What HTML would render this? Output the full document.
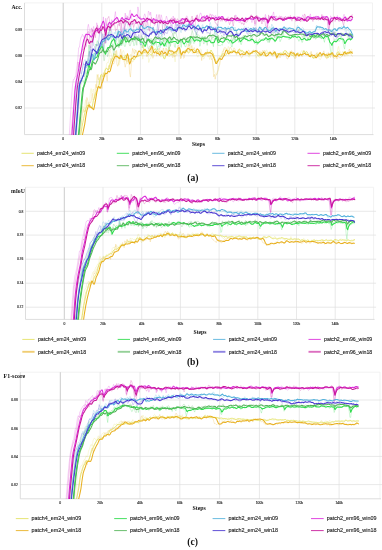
<!DOCTYPE html>
<html lang="en"><head><meta charset="utf-8"><title>Figure</title>
<style>
html,body{margin:0;padding:0;background:#fff;}
body{width:382px;height:550px;overflow:hidden;}
svg{display:block;}
text{font-family:"Liberation Sans",sans-serif;}
.tk{fill:#2a2a2a;stroke:#2a2a2a;stroke-width:0.14px;}
.lg{fill:#1c1c1c;stroke:#1c1c1c;stroke-width:0.12px;}
.ax{font-family:"Liberation Serif",serif;font-weight:bold;fill:#111;}
.cp{font-family:"Liberation Serif",serif;font-weight:bold;fill:#111;}
</style></head><body>
<svg width="382" height="550" viewBox="0 0 382 550">
<rect width="382" height="550" fill="#fff"/>
<g>
<path d="M24.5 2.9H372.5V134.6" fill="none" stroke="#ececec" stroke-width="0.7"/>
<path d="M24.5 29.7H375.0" stroke="#e0e0e0" stroke-width="0.7"/>
<path d="M24.5 55.8H375.0" stroke="#e0e0e0" stroke-width="0.7"/>
<path d="M24.5 81.9H375.0" stroke="#e0e0e0" stroke-width="0.7"/>
<path d="M24.5 108.0H375.0" stroke="#e0e0e0" stroke-width="0.7"/>
<path d="M63.2 2.9V134.6" stroke="#c6c6c6" stroke-width="0.9"/>
<path d="M101.8 2.9V134.6" stroke="#e0e0e0" stroke-width="0.7"/>
<path d="M140.4 2.9V134.6" stroke="#e0e0e0" stroke-width="0.7"/>
<path d="M179.0 2.9V134.6" stroke="#e0e0e0" stroke-width="0.7"/>
<path d="M217.6 2.9V134.6" stroke="#e0e0e0" stroke-width="0.7"/>
<path d="M256.2 2.9V134.6" stroke="#e0e0e0" stroke-width="0.7"/>
<path d="M294.8 2.9V134.6" stroke="#e0e0e0" stroke-width="0.7"/>
<path d="M333.4 2.9V134.6" stroke="#e0e0e0" stroke-width="0.7"/>
<path d="M24.5 2.9V134.6H373.5" fill="none" stroke="#d2d2d2" stroke-width="0.75"/>
<clipPath id="clip1"><rect x="24.5" y="2.9" width="348.0" height="132.0"/></clipPath>
<g clip-path="url(#clip1)" fill="none" stroke-linejoin="round" stroke-linecap="round">
<path d="M77.9 136.9L80.6 129.5L81.3 123.2L82.1 110.8L82.8 106.1L83.6 112.5L84.3 110.9L85.1 102.5L85.8 99.6L86.6 107.3L87.3 105.1L88.1 102.4L88.8 106.3L89.6 103.9L90.3 92.7L91.1 88.6L91.8 92.8L92.6 91.2L93.3 89.1L94.1 98.2L94.8 97.0L95.6 91.8L96.3 85.8L97.1 74.3L97.8 77.6L98.6 80.0L99.3 78.0L100.1 77.5L100.8 79.0L101.6 82.9L102.3 80.8L103.1 81.3L103.8 76.2L104.6 70.4L105.3 68.7L106.1 67.0L106.8 63.4L107.6 62.2L108.3 62.8L109.1 58.5L109.8 49.9L110.6 52.2L111.3 54.3L112.1 60.0L112.8 62.4L113.6 53.1L114.3 56.6L115.1 59.1L115.8 57.1L116.6 50.2L117.3 53.9L118.1 57.6L118.8 65.3L119.6 63.9L120.3 58.4L121.1 55.7L121.8 57.7L122.6 51.9L123.3 50.3L124.1 52.2L124.8 61.5L125.6 54.6L126.3 59.4L127.1 63.9L127.8 62.7L128.6 60.3L129.3 60.5L130.1 56.0L130.8 54.1L131.6 60.3L132.3 62.0L133.1 62.0L133.8 56.1L134.6 49.0L135.3 50.3L136.1 52.2L136.8 55.3L137.6 53.1L138.3 55.9L139.1 55.6L139.8 55.2L140.6 55.4L141.3 54.4L142.1 51.0L142.8 59.1L143.6 45.9L144.3 50.9L145.1 48.6L145.8 51.8L146.6 51.0L147.3 55.7L148.1 54.9L148.8 62.5L149.6 59.6L150.3 58.0L151.1 57.4L151.8 56.2L152.6 49.3L153.3 46.8L154.1 52.9L154.8 53.3L155.6 50.2L156.3 50.0L157.1 51.3L157.8 53.4L158.6 54.5L159.3 52.2L160.1 54.7L160.8 57.2L161.6 54.8L162.3 54.9L163.1 53.5L163.8 55.4L164.6 56.9L165.3 58.4L166.1 52.8L166.8 49.2L167.6 51.6L168.3 52.7L169.1 57.0L169.8 55.7L170.6 51.8L171.3 49.8L172.1 55.9L172.8 52.6L173.6 52.3L174.3 55.8L175.1 61.9L175.8 54.7L176.6 53.4L177.3 54.8L178.1 54.3L178.8 51.8L179.6 52.6L180.3 54.8L181.1 58.1L181.8 53.1L182.6 51.8L183.3 50.7L184.1 51.8L184.8 51.5L185.6 53.5L186.3 50.0L187.1 50.2L187.8 51.6L188.6 51.9L189.3 48.5L190.1 44.1L190.8 43.8L191.6 48.8L192.3 53.5L193.1 53.9L193.8 53.4L194.6 53.9L195.3 51.9L196.1 52.0L196.8 55.1L197.6 57.0L198.3 56.8L199.1 53.6L199.8 49.6L200.6 49.1L201.3 49.5L202.1 55.6L202.8 56.9L203.6 59.1L204.3 58.3L205.1 55.0L205.8 55.0L206.6 52.1L207.3 49.2L208.1 52.6L208.8 54.5L209.6 59.6L210.3 57.4L211.1 53.1L211.8 54.7L212.6 63.1L213.3 68.4L214.1 71.1L214.8 72.6L215.6 74.3L216.3 75.2L217.1 74.1L217.8 72.2L218.6 70.4L219.3 63.2L220.1 58.0L220.8 57.2L221.6 53.9L222.3 51.6L223.1 51.7L223.8 49.3L224.6 49.3L225.3 49.8L226.1 49.6L226.8 50.1L227.6 48.9L228.3 46.4L229.1 48.3L229.8 54.5L230.6 52.9L231.3 51.1L232.1 52.3L232.8 52.1L233.6 51.6L234.3 51.2L235.1 51.2L235.8 52.5L236.6 55.4L237.3 53.3L238.1 52.6L238.8 51.0L239.6 48.4L240.3 52.3L241.1 51.9L241.8 49.8L242.6 54.0L243.3 55.2L244.1 54.0L244.8 51.8L245.6 53.9L246.3 51.8L247.1 52.7L247.8 55.6L248.6 56.9L249.3 57.3L250.1 55.2L250.8 53.1L251.6 52.6L252.3 52.6L253.1 52.8L253.8 52.9L254.6 52.8L255.3 54.7L256.1 58.1L256.9 56.1L257.6 55.6L258.4 55.7L259.1 57.3L259.9 57.2L260.6 55.3L261.4 55.6L262.1 54.8L262.9 51.8L263.6 51.0L264.4 52.3L265.1 53.6L265.9 51.6L266.6 49.8L267.4 51.2L268.1 52.9L268.9 53.0L269.6 53.1L270.4 53.5L271.1 54.4L271.9 54.1L272.6 52.0L273.4 50.3L274.1 52.7L274.9 54.7L275.6 53.7L276.4 53.4L277.1 55.8L277.9 58.1L278.6 57.0L279.4 54.6L280.1 52.0L280.9 52.8L281.6 54.1L282.4 53.9L283.1 51.5L283.9 54.1L284.6 54.0L285.4 52.2L286.1 52.4L286.9 52.0L287.6 54.2L288.4 55.6L289.1 52.0L289.9 51.7L290.6 52.6L291.4 54.0L292.1 55.5L292.9 55.7L293.6 56.3L294.4 53.8L295.1 58.4L295.9 54.6L296.6 54.4L297.4 53.3L298.1 52.7L298.9 53.0L299.6 53.3L300.4 52.4L301.1 51.8L301.9 50.4L302.6 51.4L303.4 50.6L304.1 51.0L304.9 52.2L305.6 54.4L306.4 53.1L307.1 53.4L307.9 55.3L308.6 53.8L309.4 54.0L310.1 52.6L310.9 53.9L311.6 54.4L312.4 58.1L313.1 57.1L313.9 58.1L314.6 58.5L315.4 58.4L316.1 55.3L316.9 52.2L317.6 52.7L318.4 56.9L319.1 58.2L319.9 59.6L320.6 59.4L321.4 56.7L322.1 55.1L322.9 54.5L323.6 52.7L324.4 53.6L325.1 55.5L325.9 56.3L326.6 53.0L327.4 53.1L328.1 57.6L328.9 57.4L329.6 54.4L330.4 53.0L331.1 54.8L331.9 53.9L332.6 52.7L333.4 56.7L334.1 58.4L334.9 58.7L335.6 57.5L336.4 55.8L337.1 53.3L337.9 48.0L338.6 46.4L339.4 51.2L340.1 51.1L340.9 54.9L341.6 55.0L342.4 51.7L343.1 51.3L343.9 54.3L344.6 54.1L345.4 51.3L346.1 53.6L346.9 56.1L347.6 55.6L348.4 55.5L349.1 53.4L349.9 52.8L350.6 51.6L351.4 49.2L352.1 49.7" stroke="#e3e162" stroke-width="0.75" opacity="0.3"/>
<path d="M79.7 136.9L82.4 113.8L83.2 109.5L83.9 109.9L84.7 111.9L85.4 111.1L86.2 105.1L86.9 97.5L87.7 99.9L88.4 103.4L89.2 103.1L89.9 103.0L90.7 102.6L91.4 100.1L92.2 93.2L92.9 100.0L93.7 100.1L94.4 97.6L95.2 88.8L95.9 84.3L96.7 87.9L97.4 75.6L98.2 74.5L98.9 82.2L99.7 84.7L100.4 77.4L101.2 75.9L101.9 88.6L102.7 77.3L103.4 72.6L104.2 76.1L104.9 76.8L105.7 72.3L106.4 75.0L107.2 81.2L107.9 71.6L108.7 65.4L109.4 69.1L110.2 67.0L110.9 58.3L111.7 61.2L112.4 62.3L113.2 63.9L113.9 63.7L114.7 61.4L115.4 51.5L116.2 50.9L116.9 63.9L117.7 66.3L118.4 63.8L119.2 61.9L119.9 54.9L120.7 49.1L121.4 53.4L122.2 58.7L122.9 60.0L123.7 59.3L124.4 63.0L125.2 67.2L125.9 64.0L126.7 60.1L127.4 61.6L128.2 56.5L128.9 62.7L129.7 73.5L130.4 77.1L131.2 67.3L131.9 55.0L132.7 48.5L133.4 50.9L134.2 53.5L134.9 53.3L135.7 50.0L136.4 50.8L137.2 53.0L137.9 53.7L138.7 56.1L139.4 55.5L140.2 53.9L140.9 51.0L141.7 49.4L142.4 45.3L143.2 44.6L143.9 53.5L144.7 49.3L145.4 52.6L146.2 54.1L146.9 56.9L147.7 51.6L148.4 50.1L149.2 48.5L149.9 50.4L150.7 52.7L151.4 47.5L152.2 54.8L152.9 58.3L153.7 55.9L154.4 52.6L155.2 52.2L155.9 52.8L156.7 56.2L157.4 50.2L158.2 48.4L158.9 49.8L159.7 48.1L160.4 55.0L161.2 53.6L161.9 54.2L162.7 52.0L163.4 48.0L164.2 51.9L164.9 52.4L165.7 48.1L166.4 48.1L167.2 50.6L167.9 53.1L168.7 47.5L169.4 46.9L170.2 50.5L170.9 51.3L171.7 51.7L172.4 57.4L173.2 57.3L173.9 52.8L174.7 57.1L175.4 55.9L176.2 55.1L176.9 52.8L177.7 45.8L178.4 45.0L179.2 48.7L179.9 51.3L180.7 58.9L181.4 55.9L182.2 54.2L182.9 52.0L183.7 58.4L184.4 57.7L185.2 50.0L185.9 51.0L186.7 52.0L187.4 51.3L188.2 44.2L188.9 47.1L189.7 51.3L190.4 49.4L191.2 46.4L191.9 45.6L192.7 49.9L193.4 49.8L194.2 47.5L194.9 49.9L195.7 50.2L196.4 51.3L197.2 52.9L197.9 53.8L198.7 52.0L199.4 50.0L200.2 51.4L200.9 53.4L201.7 60.6L202.4 54.4L203.2 56.9L203.9 55.5L204.7 54.6L205.4 53.1L206.2 54.7L206.9 53.9L207.7 56.5L208.4 56.2L209.2 56.4L209.9 55.7L210.7 55.7L211.4 59.6L212.2 58.6L212.9 64.3L213.7 76.8L214.4 74.3L215.2 79.2L215.9 74.8L216.7 74.2L217.4 71.4L218.2 69.5L218.9 66.3L219.7 64.6L220.4 60.7L221.2 56.8L221.9 55.0L222.7 53.9L223.4 50.5L224.2 47.8L224.9 47.6L225.7 47.8L226.4 49.1L227.2 49.3L227.9 52.5L228.7 51.0L229.4 49.3L230.2 47.1L230.9 47.9L231.7 50.0L232.4 51.6L233.2 49.8L233.9 47.9L234.7 48.5L235.4 50.2L236.2 54.4L236.9 53.2L237.7 53.5L238.4 49.5L239.2 50.8L239.9 55.6L240.7 55.8L241.4 58.0L242.2 57.3L242.9 55.8L243.7 51.8L244.4 53.0L245.2 54.2L245.9 55.3L246.7 52.2L247.4 51.6L248.2 50.4L248.9 50.2L249.7 53.3L250.4 53.2L251.2 52.8L251.9 51.1L252.7 50.9L253.4 49.9L254.2 50.6L254.9 51.5L255.7 51.0L256.4 51.7L257.1 50.2L257.9 52.0L258.6 54.6L259.4 51.7L260.1 51.1L260.9 55.4L261.6 53.8L262.4 50.7L263.1 50.4L263.9 51.8L264.6 50.2L265.4 51.0L266.1 55.1L266.9 55.9L267.6 55.5L268.4 53.6L269.1 53.1L269.9 51.1L270.6 51.7L271.4 53.9L272.1 55.2L272.9 56.4L273.6 54.9L274.4 51.3L275.1 51.8L275.9 56.3L276.6 59.2L277.4 57.4L278.1 54.5L278.9 55.0L279.6 57.4L280.4 57.5L281.1 54.1L281.9 52.7L282.6 53.7L283.4 53.7L284.1 53.6L284.9 52.8L285.6 54.6L286.4 56.9L287.1 59.0L287.9 58.8L288.6 56.8L289.4 55.0L290.1 54.6L290.9 51.7L291.6 50.6L292.4 51.7L293.1 52.4L293.9 56.7L294.6 58.3L295.4 58.1L296.1 57.9L296.9 53.6L297.6 54.1L298.4 54.6L299.1 55.3L299.9 54.7L300.6 53.3L301.4 55.0L302.1 56.7L302.9 54.2L303.6 50.7L304.4 50.6L305.1 51.8L305.9 53.4L306.6 54.2L307.4 54.0L308.1 56.4L308.9 55.9L309.6 55.9L310.4 56.9L311.1 51.4L311.9 54.7L312.6 57.1L313.4 57.2L314.1 55.5L314.9 55.2L315.6 54.2L316.4 53.4L317.1 55.3L317.9 56.4L318.6 56.4L319.4 56.2L320.1 56.0L320.9 56.5L321.6 57.0L322.4 55.3L323.1 52.1L323.9 50.8L324.6 54.8L325.4 57.5L326.1 57.4L326.9 59.1L327.6 56.5L328.4 52.5L329.1 54.6L329.9 53.9L330.6 57.6L331.4 53.6L332.1 54.5L332.9 57.6L333.6 57.8L334.4 54.8L335.1 55.3L335.9 55.9L336.6 58.9L337.4 58.8L338.1 55.8L338.9 56.8L339.6 57.9L340.4 57.8L341.1 57.3L341.9 56.0L342.6 56.0L343.4 55.0L344.1 53.8L344.9 56.4L345.6 51.2L346.4 53.7L347.1 54.8L347.9 52.0L348.6 50.8L349.4 49.0L350.1 51.9L350.9 53.6L351.6 55.6L352.4 56.1" stroke="#e8b020" stroke-width="0.75" opacity="0.3"/>
<path d="M75.7 136.9L78.4 105.4L79.2 98.8L79.9 91.4L80.7 83.8L81.4 80.1L82.2 81.4L82.9 80.1L83.7 81.9L84.4 85.5L85.2 76.2L85.9 60.8L86.7 62.1L87.4 66.7L88.2 59.1L88.9 44.9L89.7 55.1L90.4 57.1L91.2 58.7L91.9 59.4L92.7 55.8L93.4 55.1L94.2 57.4L94.9 56.0L95.7 44.0L96.4 46.2L97.2 40.7L97.9 41.2L98.7 47.5L99.4 49.8L100.2 49.0L100.9 47.6L101.7 46.5L102.4 44.3L103.2 51.7L103.9 52.7L104.7 40.5L105.4 40.8L106.2 39.5L106.9 36.4L107.7 39.8L108.4 38.3L109.2 27.4L109.9 27.1L110.7 35.8L111.4 39.7L112.2 44.6L112.9 44.0L113.7 46.9L114.4 42.0L115.2 39.9L115.9 42.7L116.7 41.3L117.4 37.0L118.2 31.2L118.9 48.0L119.7 40.5L120.4 40.4L121.2 42.0L121.9 45.4L122.7 42.4L123.4 41.2L124.2 45.4L124.9 46.7L125.7 44.6L126.4 40.7L127.2 37.7L127.9 36.8L128.7 38.7L129.4 42.7L130.2 40.0L130.9 40.1L131.7 37.7L132.4 41.5L133.2 42.0L133.9 45.8L134.7 45.0L135.4 41.3L136.2 36.8L136.9 36.5L137.7 37.8L138.4 37.6L139.2 38.0L139.9 43.7L140.7 45.3L141.4 44.5L142.2 48.0L142.9 43.0L143.7 38.1L144.4 42.1L145.2 44.6L145.9 43.3L146.7 41.7L147.4 38.0L148.2 38.9L148.9 40.2L149.7 41.3L150.4 39.1L151.2 38.2L151.9 48.2L152.7 43.6L153.4 42.3L154.2 40.4L154.9 39.6L155.7 44.3L156.4 43.4L157.2 50.0L157.9 46.5L158.7 46.3L159.4 43.3L160.2 44.7L160.9 44.7L161.7 41.1L162.4 44.7L163.2 38.7L163.9 41.1L164.7 46.5L165.4 43.7L166.2 46.7L166.9 41.1L167.7 38.7L168.4 47.5L169.2 51.2L169.9 41.9L170.7 39.4L171.4 40.8L172.2 42.9L172.9 38.4L173.7 40.0L174.4 45.9L175.2 47.5L175.9 41.3L176.7 39.3L177.4 40.9L178.2 43.4L178.9 40.0L179.7 40.1L180.4 42.2L181.2 47.5L181.9 42.7L182.7 40.4L183.4 42.5L184.2 44.8L184.9 46.3L185.7 47.1L186.4 44.5L187.2 40.6L187.9 41.7L188.7 40.4L189.4 43.3L190.2 40.4L190.9 43.6L191.7 39.2L192.4 39.1L193.2 41.9L193.9 43.6L194.7 42.6L195.4 38.1L196.2 31.7L196.9 36.9L197.7 41.5L198.4 38.6L199.2 38.4L199.9 46.3L200.7 43.1L201.4 38.3L202.2 36.2L202.9 37.8L203.7 36.8L204.4 40.5L205.2 37.5L205.9 42.6L206.7 41.4L207.4 38.2L208.2 37.8L208.9 40.3L209.7 39.4L210.4 39.8L211.2 41.0L211.9 41.3L212.7 43.2L213.4 46.7L214.2 39.1L214.9 38.1L215.7 39.0L216.4 37.6L217.2 40.8L217.9 45.5L218.7 45.4L219.4 45.5L220.2 45.9L220.9 45.2L221.7 44.6L222.4 45.2L223.2 41.5L223.9 40.5L224.7 41.2L225.4 38.9L226.2 39.5L226.9 40.2L227.7 42.4L228.4 43.0L229.2 43.3L229.9 40.0L230.7 39.8L231.4 46.8L232.2 46.8L232.9 40.7L233.7 37.5L234.4 37.7L235.2 41.2L235.9 39.1L236.7 40.1L237.4 40.0L238.2 38.1L238.9 38.2L239.7 39.8L240.4 43.2L241.2 44.7L241.9 42.4L242.7 36.7L243.4 35.3L244.2 37.1L244.9 39.6L245.7 39.4L246.4 36.1L247.2 38.9L247.9 41.5L248.7 40.6L249.4 38.8L250.2 37.4L250.9 41.3L251.7 40.8L252.4 38.7L253.2 39.2L253.9 42.5L254.7 43.7L255.4 40.8L256.1 39.9L256.9 44.8L257.6 44.6L258.4 41.2L259.1 39.1L259.9 38.7L260.6 40.8L261.4 39.2L262.1 40.6L262.9 38.6L263.6 38.6L264.4 39.2L265.1 40.1L265.9 37.6L266.6 40.7L267.4 40.7L268.1 42.6L268.9 41.1L269.6 38.6L270.4 40.3L271.1 38.9L271.9 38.8L272.6 37.5L273.4 38.7L274.1 41.1L274.9 42.2L275.6 40.4L276.4 38.3L277.1 36.0L277.9 36.7L278.6 38.3L279.4 38.2L280.1 41.7L280.9 40.0L281.6 38.6L282.4 34.4L283.1 31.9L283.9 35.3L284.6 36.6L285.4 37.5L286.1 36.0L286.9 37.9L287.6 37.8L288.4 37.0L289.1 39.8L289.9 37.6L290.6 37.4L291.4 36.4L292.1 35.1L292.9 34.6L293.6 35.6L294.4 36.2L295.1 34.5L295.9 36.6L296.6 38.0L297.4 38.6L298.1 39.4L298.9 41.3L299.6 39.8L300.4 38.9L301.1 39.6L301.9 42.5L302.6 42.1L303.4 38.0L304.1 36.0L304.9 37.1L305.6 40.3L306.4 40.5L307.1 40.0L307.9 37.8L308.6 38.0L309.4 39.3L310.1 39.7L310.9 35.7L311.6 32.3L312.4 35.2L313.1 38.4L313.9 37.8L314.6 34.9L315.4 36.9L316.1 38.5L316.9 37.5L317.6 36.7L318.4 37.2L319.1 37.2L319.9 38.1L320.6 37.1L321.4 39.1L322.1 37.7L322.9 37.4L323.6 39.4L324.4 42.3L325.1 38.8L325.9 38.2L326.6 36.8L327.4 37.8L328.1 40.0L328.9 38.8L329.6 42.7L330.4 49.4L331.1 54.4L331.9 51.4L332.6 43.1L333.4 41.8L334.1 41.2L334.9 38.6L335.6 40.3L336.4 39.9L337.1 39.5L337.9 40.8L338.6 40.9L339.4 41.4L340.1 39.3L340.9 36.1L341.6 37.4L342.4 40.0L343.1 42.5L343.9 47.1L344.6 49.1L345.4 43.2L346.1 41.7L346.9 40.5L347.6 39.8L348.4 35.2L349.1 37.5L349.9 39.0L350.6 38.3L351.4 38.3L352.1 39.0" stroke="#2edc4c" stroke-width="0.75" opacity="0.3"/>
<path d="M76.3 136.9L79.0 104.5L79.8 93.2L80.5 86.4L81.2 81.9L82.0 78.2L82.8 76.1L83.5 73.8L84.2 76.7L85.0 70.8L85.8 69.9L86.5 74.1L87.2 71.5L88.0 69.4L88.8 71.5L89.5 68.3L90.2 63.3L91.0 57.9L91.8 62.2L92.5 60.7L93.2 55.5L94.0 53.9L94.8 53.5L95.5 52.2L96.2 53.8L97.0 52.3L97.8 50.2L98.5 55.2L99.2 52.5L100.0 46.2L100.8 52.5L101.5 46.3L102.2 41.3L103.0 49.6L103.8 60.6L104.5 60.4L105.2 51.0L106.0 50.2L106.8 52.5L107.5 56.6L108.2 54.7L109.0 51.4L109.8 50.1L110.5 49.4L111.2 47.9L112.0 45.1L112.8 46.7L113.5 55.4L114.2 52.5L115.0 48.3L115.8 45.6L116.5 45.2L117.2 42.9L118.0 44.9L118.8 45.6L119.5 45.4L120.2 38.4L121.0 45.7L121.8 43.8L122.5 38.4L123.2 40.8L124.0 40.0L124.8 40.4L125.5 38.8L126.2 39.4L127.0 39.4L127.8 38.3L128.5 39.4L129.2 44.4L130.0 46.1L130.8 44.1L131.5 39.6L132.2 40.3L133.0 41.8L133.8 40.9L134.5 39.6L135.2 40.1L136.0 38.8L136.8 45.3L137.5 36.2L138.2 37.5L139.0 37.6L139.8 39.0L140.5 41.4L141.2 35.7L142.0 36.1L142.8 38.4L143.5 40.0L144.2 39.9L145.0 34.4L145.8 36.9L146.5 39.8L147.2 42.9L148.0 48.2L148.8 49.2L149.5 46.1L150.2 45.7L151.0 45.8L151.8 44.0L152.5 40.4L153.2 40.8L154.0 45.7L154.8 41.8L155.5 37.9L156.2 40.5L157.0 37.2L157.8 37.4L158.5 39.1L159.2 38.2L160.0 43.9L160.8 36.5L161.5 35.3L162.2 35.3L163.0 40.0L163.8 41.8L164.5 38.0L165.2 40.7L166.0 41.4L166.8 38.2L167.5 42.4L168.2 43.0L169.0 38.9L169.8 37.2L170.5 46.4L171.2 41.1L172.0 36.1L172.8 32.9L173.5 36.9L174.2 31.9L175.0 33.6L175.8 31.6L176.5 35.4L177.2 37.6L178.0 39.8L178.8 42.2L179.5 41.8L180.2 38.7L181.0 42.8L181.8 41.0L182.5 38.1L183.2 38.4L184.0 36.9L184.8 37.7L185.5 37.0L186.2 40.4L187.0 42.1L187.8 38.8L188.5 40.5L189.2 45.6L190.0 45.2L190.8 36.9L191.5 33.8L192.2 30.5L193.0 33.5L193.8 40.4L194.5 38.0L195.2 36.5L196.0 37.4L196.8 38.6L197.5 34.7L198.2 34.5L199.0 35.8L199.8 36.4L200.5 39.4L201.2 41.1L202.0 38.0L202.8 39.2L203.5 43.8L204.2 43.8L205.0 36.1L205.8 39.2L206.5 41.3L207.2 45.4L208.0 38.9L208.8 39.7L209.5 38.2L210.2 32.7L211.0 36.0L211.8 39.6L212.5 36.5L213.2 38.0L214.0 35.3L214.8 30.9L215.5 29.1L216.2 31.9L217.0 34.3L217.8 37.9L218.5 35.3L219.2 39.4L220.0 39.5L220.8 38.6L221.5 35.2L222.2 36.3L223.0 36.1L223.8 39.0L224.5 41.3L225.2 40.0L226.0 38.5L226.8 38.7L227.5 37.3L228.2 33.3L229.0 30.6L229.8 31.6L230.5 30.4L231.2 34.6L232.0 41.5L232.8 40.1L233.5 35.9L234.2 37.7L235.0 40.5L235.8 36.5L236.5 31.2L237.2 32.7L238.0 40.1L238.8 42.4L239.5 41.3L240.2 39.6L241.0 38.6L241.8 37.8L242.5 36.9L243.2 37.8L244.0 37.0L244.8 35.6L245.5 39.3L246.2 38.9L247.0 37.7L247.8 35.2L248.5 34.8L249.2 33.8L250.0 32.6L250.8 35.2L251.5 39.7L252.2 37.9L253.0 36.6L253.8 35.7L254.5 34.8L255.2 34.4L256.0 35.5L256.8 34.8L257.5 35.1L258.2 32.6L259.0 32.5L259.8 33.9L260.5 34.2L261.2 32.0L262.0 33.4L262.8 35.2L263.5 36.0L264.2 35.7L265.0 35.3L265.8 33.7L266.5 32.4L267.2 34.5L268.0 34.9L268.8 36.7L269.5 42.5L270.2 37.8L271.0 35.8L271.8 33.8L272.5 32.6L273.2 32.5L274.0 35.5L274.8 38.1L275.5 35.9L276.2 33.9L277.0 37.4L277.8 33.1L278.5 32.9L279.2 35.9L280.0 37.3L280.8 37.3L281.5 33.8L282.2 33.9L283.0 33.4L283.8 32.3L284.5 31.3L285.2 29.8L286.0 31.5L286.8 32.1L287.5 33.4L288.2 33.5L289.0 35.9L289.8 36.0L290.5 35.1L291.2 34.8L292.0 34.7L292.8 36.6L293.5 36.4L294.2 35.1L295.0 34.6L295.8 34.6L296.5 34.6L297.2 33.9L298.0 30.9L298.8 29.6L299.5 31.3L300.2 34.5L301.0 34.0L301.8 35.8L302.5 37.4L303.2 35.7L304.0 34.6L304.8 35.5L305.5 36.5L306.2 35.1L307.0 37.1L307.8 39.1L308.5 37.7L309.2 37.3L310.0 37.2L310.8 35.4L311.5 34.2L312.2 37.1L313.0 37.5L313.8 35.0L314.5 37.1L315.2 39.2L316.0 38.7L316.8 37.3L317.5 34.2L318.2 33.9L319.0 36.2L319.8 37.8L320.5 36.7L321.2 38.6L322.0 34.3L322.8 34.3L323.5 35.6L324.2 34.0L325.0 36.5L325.8 37.3L326.5 36.3L327.2 35.3L328.0 34.5L328.8 33.5L329.5 33.9L330.2 32.8L331.0 30.8L331.8 31.4L332.5 34.2L333.2 34.9L334.0 32.6L334.8 32.4L335.5 32.0L336.2 36.2L337.0 36.8L337.8 37.5L338.5 35.6L339.2 35.3L340.0 33.5L340.8 32.5L341.5 32.9L342.2 35.8L343.0 33.9L343.8 34.3L344.5 33.5L345.2 33.6L346.0 34.7L346.8 32.7L347.5 33.9L348.2 36.7L349.0 35.9L349.8 34.9L350.5 33.7L351.2 33.9L352.0 36.2L352.8 35.8" stroke="#55b45a" stroke-width="0.75" opacity="0.3"/>
<path d="M72.6 136.9L75.3 104.2L76.0 91.1L76.8 82.0L77.5 77.4L78.3 80.1L79.0 75.2L79.8 66.6L80.5 72.1L81.3 73.9L82.0 71.5L82.8 66.6L83.5 61.9L84.3 61.2L85.0 59.5L85.8 61.6L86.5 65.3L87.3 63.2L88.0 58.5L88.8 61.6L89.5 51.6L90.3 45.8L91.0 56.3L91.8 60.4L92.5 61.4L93.3 57.5L94.0 52.9L94.8 58.6L95.5 57.4L96.3 55.2L97.0 53.0L97.8 49.3L98.5 42.5L99.3 43.4L100.0 45.3L100.8 45.3L101.5 45.6L102.3 33.9L103.0 37.8L103.8 39.2L104.5 39.2L105.3 38.3L106.0 36.8L106.8 37.2L107.5 34.8L108.3 32.1L109.0 39.5L109.8 38.9L110.5 38.4L111.3 36.3L112.0 37.4L112.8 38.5L113.5 35.7L114.3 32.4L115.0 33.8L115.8 31.0L116.5 39.6L117.3 32.2L118.0 29.5L118.8 34.7L119.5 35.2L120.3 40.2L121.0 45.3L121.8 40.4L122.5 32.7L123.3 27.6L124.0 38.2L124.8 26.0L125.5 25.4L126.3 17.6L127.0 22.6L127.8 25.7L128.6 33.9L129.3 31.6L130.1 37.4L130.8 23.4L131.6 30.9L132.3 30.1L133.1 30.9L133.8 31.5L134.6 28.9L135.3 29.7L136.1 31.7L136.8 26.8L137.6 29.3L138.3 31.8L139.1 28.4L139.8 25.3L140.6 22.9L141.3 22.2L142.1 22.2L142.8 21.0L143.6 24.7L144.3 26.1L145.1 31.2L145.8 36.7L146.6 33.7L147.3 28.7L148.1 29.7L148.8 28.6L149.6 27.0L150.3 31.4L151.1 34.8L151.8 33.3L152.6 29.7L153.3 27.0L154.1 29.7L154.8 33.8L155.6 36.7L156.3 34.4L157.1 27.5L157.8 23.2L158.6 32.6L159.3 37.5L160.1 47.9L160.8 40.8L161.6 36.5L162.3 29.1L163.1 24.4L163.8 25.1L164.6 24.8L165.3 23.8L166.1 27.1L166.8 30.3L167.6 27.6L168.3 29.3L169.1 30.6L169.8 26.7L170.6 26.0L171.3 25.0L172.1 24.6L172.8 29.5L173.6 32.0L174.3 31.6L175.1 28.3L175.8 26.9L176.6 28.8L177.3 24.0L178.1 26.1L178.8 25.8L179.6 24.8L180.3 30.8L181.1 32.7L181.8 27.4L182.6 25.0L183.3 25.6L184.1 27.4L184.8 30.7L185.6 24.9L186.3 23.8L187.1 26.2L187.8 24.4L188.6 23.0L189.3 23.4L190.1 25.8L190.8 27.6L191.6 24.9L192.3 26.5L193.1 23.8L193.8 24.6L194.6 29.8L195.3 31.8L196.1 31.1L196.8 29.5L197.6 25.1L198.3 23.8L199.1 26.0L199.8 26.2L200.6 29.5L201.3 31.8L202.1 25.4L202.8 24.5L203.6 29.5L204.3 30.8L205.1 28.4L205.8 27.4L206.6 25.6L207.3 25.4L208.1 28.0L208.8 28.9L209.6 23.9L210.3 22.4L211.1 25.9L211.8 27.3L212.6 29.5L213.3 28.6L214.1 28.0L214.8 32.0L215.6 37.5L216.3 32.0L217.1 26.1L217.8 24.2L218.6 28.9L219.3 31.9L220.1 29.7L220.8 33.4L221.6 28.1L222.3 28.9L223.1 28.8L223.8 29.5L224.6 29.5L225.3 30.1L226.1 32.1L226.8 29.1L227.6 27.2L228.3 26.4L229.1 27.9L229.8 30.2L230.6 32.1L231.3 29.0L232.1 27.8L232.8 28.1L233.6 27.9L234.3 28.3L235.1 27.0L235.8 30.9L236.6 33.0L237.3 33.6L238.1 37.0L238.8 33.0L239.6 33.5L240.3 32.7L241.1 31.0L241.8 31.2L242.6 32.1L243.3 31.0L244.1 27.2L244.8 26.7L245.6 27.4L246.3 27.2L247.1 28.1L247.8 27.7L248.6 27.2L249.3 29.5L250.1 32.6L250.8 33.8L251.6 34.2L252.3 32.0L253.1 27.2L253.8 31.1L254.6 29.9L255.3 26.9L256.1 27.8L256.8 29.0L257.6 29.9L258.3 31.6L259.1 30.4L259.8 33.7L260.6 32.3L261.3 27.1L262.1 28.6L262.8 31.6L263.6 30.9L264.3 29.0L265.1 27.9L265.8 27.3L266.6 28.1L267.3 30.5L268.1 30.0L268.8 27.4L269.6 26.6L270.3 29.5L271.1 27.8L271.8 24.1L272.6 26.3L273.3 26.2L274.1 28.0L274.8 30.0L275.6 35.7L276.3 29.5L277.1 31.4L277.8 35.3L278.6 32.9L279.3 30.8L280.1 28.7L280.8 28.6L281.6 32.6L282.3 32.7L283.1 29.5L283.8 27.1L284.6 26.8L285.3 27.9L286.1 28.6L286.8 27.3L287.6 27.9L288.3 28.8L289.1 27.7L289.8 28.2L290.6 31.2L291.3 32.5L292.1 31.2L292.8 30.4L293.6 30.2L294.3 30.3L295.1 31.2L295.8 31.0L296.6 27.7L297.3 25.6L298.1 26.1L298.8 27.3L299.6 30.2L300.3 31.5L301.1 30.2L301.8 28.1L302.6 27.4L303.3 28.0L304.1 31.0L304.8 32.5L305.6 31.5L306.3 32.0L307.1 32.7L307.8 32.7L308.6 32.7L309.3 31.0L310.1 30.6L310.8 32.0L311.6 33.8L312.3 32.7L313.1 32.3L313.8 31.3L314.6 31.7L315.3 29.7L316.1 26.2L316.8 25.0L317.6 27.3L318.3 26.5L319.1 26.1L319.8 28.7L320.6 27.0L321.3 27.9L322.1 30.2L322.8 28.9L323.6 31.5L324.3 34.9L325.1 36.6L325.8 31.0L326.6 29.3L327.3 32.9L328.1 33.8L328.8 30.9L329.6 30.1L330.3 29.7L331.1 29.7L331.8 31.2L332.6 31.8L333.3 31.5L334.1 31.9L334.8 31.0L335.6 30.7L336.3 31.5L337.1 29.0L337.8 28.4L338.6 28.8L339.3 28.6L340.1 27.1L340.8 28.2L341.6 26.3L342.3 26.9L343.1 28.0L343.8 25.0L344.6 27.4L345.3 31.7L346.1 32.8L346.8 30.1L347.6 29.9L348.3 30.7L349.1 31.1L349.8 34.7L350.6 33.9L351.3 36.7L352.1 36.1L352.8 36.2" stroke="#55b2dc" stroke-width="0.75" opacity="0.3"/>
<path d="M73.1 136.9L75.8 101.3L76.5 86.1L77.3 84.4L78.0 82.8L78.8 83.4L79.5 82.1L80.3 78.7L81.0 77.2L81.8 71.0L82.5 69.0L83.3 63.5L84.0 65.0L84.8 64.6L85.5 64.4L86.3 67.9L87.0 60.7L87.8 61.5L88.5 54.8L89.3 51.3L90.0 61.4L90.8 49.3L91.5 51.2L92.3 45.0L93.0 33.1L93.8 45.6L94.5 46.3L95.3 51.6L96.0 48.0L96.8 44.0L97.5 45.8L98.3 43.7L99.0 38.0L99.8 32.1L100.5 29.8L101.3 34.2L102.0 42.3L102.8 42.3L103.5 49.7L104.3 33.7L105.0 36.6L105.8 43.2L106.5 39.8L107.3 38.4L108.0 40.4L108.8 37.8L109.5 30.8L110.3 26.3L111.0 29.0L111.8 32.5L112.5 36.7L113.3 37.8L114.0 36.0L114.8 39.8L115.5 41.3L116.3 35.6L117.0 35.4L117.8 34.4L118.5 30.6L119.3 35.9L120.0 33.4L120.8 32.3L121.5 30.7L122.3 39.2L123.0 40.7L123.8 36.2L124.5 33.0L125.3 33.5L126.0 28.7L126.8 34.6L127.5 37.1L128.3 37.9L129.1 38.4L129.8 35.3L130.6 36.5L131.3 37.9L132.1 34.7L132.8 29.0L133.6 28.9L134.3 40.4L135.1 32.2L135.8 34.2L136.6 37.5L137.3 38.4L138.1 37.5L138.8 34.5L139.6 38.3L140.3 40.4L141.1 45.0L141.8 35.0L142.6 26.7L143.3 34.8L144.1 31.4L144.8 31.8L145.6 32.6L146.3 35.4L147.1 41.3L147.8 40.5L148.6 37.6L149.3 33.6L150.1 32.8L150.8 34.6L151.6 34.7L152.3 30.7L153.1 26.8L153.8 31.8L154.6 32.3L155.3 31.8L156.1 36.4L156.8 37.3L157.6 36.4L158.3 39.7L159.1 32.3L159.8 31.1L160.6 32.0L161.3 33.3L162.1 34.9L162.8 30.2L163.6 30.1L164.3 35.3L165.1 32.4L165.8 32.1L166.6 33.5L167.3 33.5L168.1 30.5L168.8 26.0L169.6 26.4L170.3 28.7L171.1 31.7L171.8 32.4L172.6 28.0L173.3 29.7L174.1 30.7L174.8 28.2L175.6 22.9L176.3 24.3L177.1 26.2L177.8 24.5L178.6 24.5L179.3 26.1L180.1 27.0L180.8 22.8L181.6 21.8L182.3 24.7L183.1 27.9L183.8 26.7L184.6 30.7L185.3 31.5L186.1 28.7L186.8 25.4L187.6 26.3L188.3 26.2L189.1 24.2L189.8 22.4L190.6 24.0L191.3 24.9L192.1 25.9L192.8 26.8L193.6 24.9L194.3 25.7L195.1 31.4L195.8 32.7L196.6 34.8L197.3 32.6L198.1 29.5L198.8 30.5L199.6 30.2L200.3 30.2L201.1 31.0L201.8 31.9L202.6 34.0L203.3 31.9L204.1 28.9L204.8 29.4L205.6 31.1L206.3 30.8L207.1 33.3L207.8 32.2L208.6 32.7L209.3 33.8L210.1 33.1L210.8 30.0L211.6 29.5L212.3 28.7L213.1 26.9L213.8 28.6L214.6 29.6L215.3 26.8L216.1 28.7L216.8 27.6L217.6 27.8L218.3 30.0L219.1 29.5L219.8 32.5L220.6 33.5L221.3 32.3L222.1 30.7L222.8 32.1L223.6 35.2L224.3 35.3L225.1 30.2L225.8 27.9L226.6 31.7L227.3 33.7L228.1 34.0L228.8 33.5L229.6 30.2L230.3 28.8L231.1 29.9L231.8 33.1L232.6 34.1L233.3 36.1L234.1 36.9L234.8 36.3L235.6 34.7L236.3 34.3L237.1 33.7L237.8 34.7L238.6 34.6L239.3 34.1L240.1 33.6L240.8 32.5L241.6 31.1L242.3 30.3L243.1 29.2L243.8 28.2L244.6 31.5L245.3 31.5L246.1 28.6L246.8 33.2L247.6 34.3L248.3 32.6L249.1 31.5L249.8 30.8L250.6 29.0L251.3 28.9L252.1 30.6L252.8 30.7L253.6 27.4L254.3 27.8L255.1 30.4L255.8 27.8L256.6 30.7L257.3 29.5L258.1 30.3L258.8 29.7L259.6 35.4L260.3 32.5L261.1 32.2L261.8 32.7L262.6 30.1L263.3 29.3L264.1 28.0L264.8 29.0L265.6 33.3L266.3 31.0L267.1 29.0L267.8 30.6L268.6 31.4L269.3 30.0L270.1 31.6L270.8 34.4L271.6 33.2L272.3 29.9L273.1 28.7L273.8 32.5L274.6 32.5L275.3 29.3L276.1 29.0L276.8 31.3L277.6 33.0L278.3 33.3L279.1 31.9L279.8 30.3L280.6 29.7L281.3 29.4L282.1 31.1L282.8 32.4L283.6 29.8L284.3 28.5L285.1 30.4L285.8 31.5L286.6 29.5L287.3 30.1L288.1 29.9L288.8 30.4L289.6 33.2L290.3 32.2L291.1 31.5L291.8 31.0L292.6 31.3L293.3 32.2L294.1 32.6L294.8 31.8L295.6 33.3L296.3 32.5L297.1 31.8L297.8 30.0L298.6 30.4L299.3 32.8L300.1 33.1L300.8 32.6L301.6 32.3L302.3 31.5L303.1 34.1L303.8 35.6L304.6 34.3L305.3 34.3L306.1 34.6L306.8 35.9L307.6 34.6L308.3 35.6L309.1 33.3L309.8 32.8L310.6 33.7L311.3 34.4L312.1 33.5L312.8 34.4L313.6 33.8L314.3 33.6L315.1 31.6L315.8 31.6L316.6 33.6L317.3 33.4L318.1 35.0L318.8 37.4L319.6 36.6L320.3 35.0L321.1 35.7L321.8 32.1L322.6 31.4L323.3 35.6L324.1 33.8L324.8 33.6L325.6 32.8L326.3 34.3L327.1 35.6L327.8 37.2L328.6 34.7L329.3 35.8L330.1 35.9L330.8 36.1L331.6 35.6L332.3 33.9L333.1 32.0L333.8 33.2L334.6 32.7L335.3 35.2L336.1 36.7L336.8 38.6L337.6 35.9L338.3 36.8L339.1 36.4L339.8 34.8L340.6 34.7L341.3 36.1L342.1 35.7L342.8 34.6L343.6 34.1L344.3 34.5L345.1 34.1L345.8 33.5L346.6 35.0L347.3 34.9L348.1 32.9L348.8 33.7L349.6 36.9L350.3 38.2L351.1 38.4L351.8 37.7L352.6 36.7" stroke="#4a38d0" stroke-width="0.75" opacity="0.3"/>
<path d="M69.2 136.9L71.9 92.7L72.7 83.7L73.4 79.6L74.2 79.5L74.9 76.9L75.7 76.6L76.4 69.7L77.2 65.0L77.9 58.8L78.7 47.7L79.4 47.3L80.2 41.4L80.9 37.4L81.7 37.0L82.4 34.4L83.2 35.5L83.9 37.1L84.7 39.3L85.4 42.4L86.2 46.7L86.9 42.3L87.7 27.1L88.4 24.3L89.2 28.5L89.9 33.5L90.7 31.2L91.4 27.9L92.2 31.9L92.9 28.8L93.7 26.4L94.4 31.2L95.2 31.1L95.9 32.5L96.7 22.8L97.4 24.9L98.2 32.5L98.9 32.9L99.7 28.5L100.4 30.5L101.2 28.3L101.9 28.3L102.7 23.2L103.4 16.9L104.2 26.3L104.9 30.3L105.7 18.2L106.4 25.7L107.2 23.7L107.9 24.6L108.7 25.5L109.4 30.8L110.2 27.1L110.9 25.0L111.7 19.7L112.4 21.2L113.2 21.7L113.9 22.5L114.7 16.0L115.4 11.6L116.2 20.0L116.9 21.2L117.7 21.9L118.4 21.8L119.2 24.2L119.9 23.6L120.7 23.2L121.4 23.5L122.2 30.7L122.9 38.3L123.7 32.1L124.4 24.5L125.2 13.1L125.9 18.5L126.7 15.5L127.4 16.1L128.2 18.6L128.9 17.8L129.7 10.6L130.4 10.2L131.2 16.4L131.9 19.0L132.7 23.7L133.4 23.9L134.2 20.7L134.9 19.3L135.7 23.9L136.4 22.6L137.2 17.0L137.9 6.9L138.7 10.9L139.4 18.9L140.2 16.6L140.9 18.9L141.7 20.7L142.4 21.5L143.2 21.0L143.9 16.4L144.7 13.8L145.4 15.6L146.2 20.9L146.9 23.0L147.7 18.1L148.4 11.1L149.2 12.4L149.9 15.3L150.7 12.1L151.4 18.8L152.2 23.0L152.9 20.3L153.7 19.1L154.4 25.5L155.2 24.6L155.9 18.7L156.7 14.4L157.4 24.0L158.2 30.8L158.9 27.5L159.7 21.0L160.4 18.9L161.2 14.8L161.9 17.8L162.7 23.1L163.4 20.9L164.2 21.6L164.9 23.0L165.7 19.6L166.4 16.1L167.2 18.3L167.9 21.2L168.7 22.5L169.4 19.8L170.2 20.9L170.9 25.6L171.7 28.1L172.4 20.6L173.2 16.0L173.9 20.1L174.7 18.5L175.4 20.1L176.2 25.8L176.9 26.9L177.7 28.7L178.4 29.2L179.2 24.6L179.9 20.3L180.7 19.9L181.4 24.9L182.2 22.4L182.9 21.7L183.7 22.9L184.4 22.9L185.2 20.3L185.9 17.4L186.7 15.8L187.4 16.7L188.2 20.7L188.9 23.8L189.7 24.7L190.4 25.2L191.2 25.1L191.9 21.4L192.7 18.7L193.4 24.7L194.2 29.6L194.9 30.0L195.7 20.1L196.4 15.4L197.2 19.8L197.9 20.7L198.7 21.6L199.4 15.8L200.2 13.2L200.9 13.0L201.7 15.9L202.4 18.4L203.2 19.8L203.9 21.2L204.7 17.5L205.4 19.8L206.2 20.2L206.9 15.7L207.7 15.2L208.4 16.3L209.2 20.9L209.9 17.4L210.7 17.9L211.4 16.5L212.2 14.4L212.9 15.8L213.7 15.6L214.4 17.3L215.2 15.6L215.9 15.7L216.7 18.3L217.4 17.4L218.2 17.0L218.9 18.5L219.7 18.8L220.4 21.3L221.2 18.5L221.9 17.5L222.7 16.1L223.4 17.0L224.2 18.2L224.9 19.0L225.7 18.4L226.4 21.4L227.2 17.7L227.9 16.8L228.7 17.4L229.4 19.4L230.2 19.9L230.9 20.1L231.7 18.7L232.4 18.7L233.2 19.4L233.9 19.3L234.7 18.6L235.4 15.0L236.2 15.2L236.9 17.1L237.7 20.9L238.4 22.1L239.2 22.2L239.9 22.4L240.7 19.4L241.4 18.4L242.2 19.4L242.9 19.9L243.7 20.7L244.4 20.0L245.2 19.9L245.9 17.0L246.7 19.6L247.4 20.1L248.2 17.9L248.9 18.2L249.7 17.3L250.4 17.8L251.2 19.6L251.9 22.5L252.7 19.9L253.4 18.6L254.2 21.1L254.9 25.6L255.7 24.5L256.4 21.2L257.1 19.5L257.9 16.2L258.6 17.6L259.4 20.3L260.1 21.4L260.9 20.7L261.6 18.7L262.4 19.1L263.1 21.4L263.9 21.7L264.6 18.9L265.4 14.4L266.1 17.1L266.9 24.9L267.6 27.6L268.4 19.9L269.1 16.8L269.9 16.0L270.6 18.9L271.4 17.2L272.1 16.3L272.9 14.2L273.6 11.9L274.4 17.7L275.1 16.2L275.9 20.5L276.6 20.9L277.4 19.4L278.1 18.6L278.9 16.4L279.6 15.9L280.4 18.6L281.1 16.4L281.9 16.4L282.6 18.2L283.4 17.2L284.1 17.3L284.9 17.5L285.6 16.0L286.4 19.6L287.1 19.4L287.9 17.8L288.6 17.4L289.4 17.5L290.1 18.8L290.9 18.7L291.6 19.4L292.4 18.5L293.1 16.6L293.9 16.6L294.6 18.6L295.4 19.8L296.1 18.4L296.9 21.3L297.6 20.3L298.4 16.8L299.1 16.2L299.9 18.0L300.6 19.8L301.4 19.9L302.1 16.7L302.9 14.7L303.6 17.3L304.4 19.4L305.1 17.5L305.9 19.0L306.6 19.6L307.4 20.0L308.1 18.4L308.9 18.5L309.6 15.9L310.4 13.9L311.1 18.2L311.9 20.0L312.6 17.5L313.4 16.5L314.1 16.9L314.9 18.2L315.6 16.3L316.4 15.9L317.1 16.9L317.9 17.3L318.6 16.2L319.4 16.7L320.1 19.5L320.9 20.1L321.6 19.6L322.4 16.9L323.1 15.8L323.9 18.3L324.6 21.2L325.4 19.3L326.1 16.0L326.9 17.3L327.6 23.6L328.4 30.8L329.1 27.7L329.9 19.3L330.6 15.8L331.4 17.5L332.1 17.7L332.9 18.9L333.6 17.0L334.4 17.5L335.1 21.6L335.9 19.2L336.6 16.9L337.4 15.6L338.1 17.7L338.9 21.6L339.6 21.0L340.4 18.9L341.1 18.9L341.9 18.3L342.6 22.1L343.4 15.7L344.1 14.3L344.9 17.6L345.6 16.3L346.4 18.5L347.1 20.4L347.9 18.8L348.6 18.7L349.4 19.1L350.1 19.1L350.9 21.3L351.6 19.3L352.4 17.6" stroke="#dc2edc" stroke-width="0.75" opacity="0.3"/>
<path d="M70.9 136.9L73.6 105.1L74.3 94.0L75.1 86.6L75.8 84.7L76.6 76.8L77.3 71.0L78.1 62.0L78.8 67.3L79.6 62.9L80.3 54.5L81.1 53.9L81.8 52.0L82.6 48.8L83.3 49.8L84.1 42.3L84.8 37.4L85.6 35.7L86.3 38.8L87.1 38.8L87.8 31.8L88.6 31.6L89.3 34.4L90.1 48.4L90.8 47.5L91.6 33.4L92.3 29.5L93.1 33.3L93.8 30.0L94.6 32.5L95.3 37.8L96.1 31.7L96.8 26.8L97.6 25.3L98.3 29.1L99.1 28.6L99.8 29.5L100.6 25.5L101.3 32.7L102.1 33.6L102.8 34.3L103.6 40.1L104.3 36.0L105.1 43.5L105.8 32.9L106.6 23.8L107.3 18.8L108.1 17.7L108.8 16.4L109.6 21.0L110.3 30.9L111.1 25.3L111.8 22.0L112.6 26.5L113.3 25.9L114.1 23.5L114.8 25.9L115.6 30.8L116.3 29.5L117.1 29.5L117.8 24.3L118.6 24.2L119.3 26.1L120.1 21.7L120.8 33.8L121.6 26.0L122.3 19.3L123.1 19.7L123.8 22.1L124.6 29.8L125.3 25.5L126.1 20.8L126.8 18.6L127.6 16.7L128.3 19.3L129.1 21.1L129.8 27.4L130.6 22.1L131.3 22.6L132.1 25.1L132.8 22.6L133.6 27.6L134.3 25.6L135.1 22.7L135.8 23.9L136.6 22.9L137.3 22.1L138.1 24.9L138.8 28.8L139.6 28.8L140.3 29.7L141.1 24.8L141.8 21.1L142.6 23.7L143.3 26.6L144.1 21.3L144.8 20.9L145.6 26.8L146.3 27.7L147.1 23.1L147.8 22.4L148.6 28.3L149.3 31.2L150.1 26.7L150.8 19.5L151.6 17.4L152.3 19.7L153.1 21.1L153.8 21.3L154.6 22.2L155.3 19.5L156.1 19.2L156.8 20.5L157.6 21.5L158.3 17.6L159.1 14.5L159.8 18.8L160.6 23.7L161.3 19.7L162.1 22.9L162.8 31.7L163.6 33.7L164.3 31.1L165.1 22.1L165.8 25.5L166.6 27.1L167.3 24.4L168.1 21.3L168.8 22.3L169.6 20.7L170.3 23.7L171.1 18.0L171.8 18.0L172.6 20.3L173.3 22.0L174.1 22.2L174.8 17.8L175.6 20.3L176.3 22.4L177.1 18.9L177.8 18.9L178.6 21.8L179.3 22.6L180.1 21.1L180.8 18.6L181.6 18.7L182.3 19.8L183.1 24.0L183.8 22.7L184.6 18.0L185.3 23.1L186.1 18.7L186.8 19.7L187.6 20.0L188.3 19.3L189.1 19.8L189.8 25.8L190.6 24.3L191.3 18.1L192.1 16.0L192.8 18.7L193.6 20.3L194.3 20.5L195.1 20.7L195.8 20.1L196.6 18.8L197.3 14.8L198.1 19.1L198.8 19.4L199.6 21.3L200.3 19.5L201.1 19.2L201.8 17.2L202.6 20.0L203.3 19.1L204.1 15.7L204.8 15.8L205.6 20.7L206.3 20.3L207.1 18.0L207.8 19.1L208.6 16.7L209.3 16.7L210.1 13.8L210.8 14.7L211.6 16.5L212.3 18.6L213.1 18.0L213.8 17.7L214.6 20.1L215.3 23.0L216.1 23.1L216.8 24.8L217.6 25.8L218.3 22.2L219.1 18.7L219.8 17.6L220.6 18.4L221.3 17.9L222.1 21.3L222.8 17.1L223.6 18.8L224.3 20.0L225.1 21.0L225.8 22.2L226.6 21.0L227.3 18.4L228.1 18.8L228.8 21.9L229.6 24.8L230.3 23.0L231.1 18.9L231.8 18.7L232.6 23.9L233.3 26.1L234.1 20.5L234.8 15.5L235.6 18.6L236.3 19.4L237.1 19.3L237.8 17.7L238.6 18.4L239.3 18.1L240.1 19.3L240.8 21.7L241.6 24.2L242.3 23.1L243.1 22.8L243.8 25.1L244.6 23.0L245.3 21.5L246.1 22.6L246.8 22.0L247.6 21.2L248.3 18.5L249.1 17.8L249.8 17.5L250.6 15.3L251.3 14.8L252.1 17.4L252.8 16.4L253.6 19.0L254.3 20.3L255.1 23.9L255.8 18.6L256.6 15.0L257.4 16.2L258.1 17.5L258.9 19.7L259.6 21.1L260.4 19.2L261.1 18.7L261.9 24.0L262.6 20.4L263.4 17.9L264.1 19.0L264.9 21.1L265.6 25.8L266.4 26.2L267.1 28.7L267.9 22.0L268.6 14.9L269.4 21.9L270.1 19.8L270.9 17.9L271.6 17.0L272.4 20.8L273.1 20.4L273.9 16.9L274.6 17.0L275.4 16.9L276.1 16.0L276.9 16.5L277.6 20.1L278.4 19.8L279.1 17.7L279.9 18.4L280.6 16.6L281.4 17.9L282.1 19.7L282.9 21.1L283.6 19.4L284.4 17.1L285.1 19.0L285.9 20.0L286.6 19.0L287.4 18.0L288.1 16.4L288.9 17.2L289.6 17.3L290.4 15.5L291.1 18.3L291.9 21.2L292.6 19.0L293.4 17.8L294.1 16.9L294.9 17.2L295.6 21.4L296.4 20.5L297.1 16.3L297.9 18.6L298.6 20.7L299.4 18.7L300.1 21.3L300.9 21.9L301.6 19.3L302.4 18.1L303.1 21.3L303.9 19.0L304.6 13.9L305.4 15.4L306.1 19.3L306.9 21.3L307.6 17.4L308.4 15.9L309.1 16.7L309.9 18.6L310.6 16.5L311.4 17.4L312.1 19.3L312.9 21.5L313.6 19.0L314.4 16.5L315.1 18.1L315.9 19.3L316.6 19.7L317.4 18.9L318.1 20.2L318.9 19.8L319.6 18.3L320.4 18.7L321.1 17.9L321.9 14.4L322.6 19.4L323.4 16.8L324.1 19.2L324.9 19.9L325.6 17.4L326.4 17.9L327.1 17.8L327.9 20.9L328.6 31.7L329.4 28.3L330.1 20.0L330.9 18.8L331.6 21.8L332.4 22.1L333.1 19.4L333.9 17.7L334.6 16.3L335.4 18.5L336.1 19.3L336.9 18.3L337.6 19.3L338.4 20.9L339.1 20.6L339.9 21.4L340.6 19.6L341.4 20.0L342.1 18.7L342.9 23.2L343.6 25.3L344.4 21.2L345.1 17.9L345.9 18.6L346.6 18.4L347.4 18.2L348.1 18.3L348.9 17.2L349.6 17.3L350.4 18.4L351.1 17.3L351.9 14.8L352.6 15.0" stroke="#c8189a" stroke-width="0.75" opacity="0.3"/>
<path d="M80.6 135.7L81.3 131.1L82.1 126.5L82.8 122.4L83.6 118.7L84.3 115.0L85.1 111.8L85.8 109.1L86.6 106.5L87.3 105.2L88.1 105.7L88.8 104.5L89.6 104.7L90.3 105.6L91.1 107.3L91.8 108.6L92.6 105.1L93.3 100.6L94.1 98.5L94.8 95.9L95.6 93.4L96.3 92.0L97.1 91.0L97.8 89.2L98.6 86.4L99.3 83.0L100.1 78.4L100.8 74.9L101.6 74.3L102.3 76.0L103.1 76.8L103.8 75.3L104.6 72.5L105.3 70.1L106.1 68.3L106.8 68.1L107.6 69.8L108.3 70.0L109.1 67.6L109.8 64.5L110.6 62.1L111.3 60.2L112.1 59.0L112.8 57.5L113.6 55.4L114.3 54.0L115.1 54.1L115.8 54.5L116.6 55.3L117.3 56.6L118.1 57.7L118.8 58.2L119.6 58.7L120.3 58.9L121.1 57.7L121.8 56.7L122.6 56.9L123.3 58.2L124.1 58.2L124.8 56.7L125.6 55.1L126.3 56.0L127.1 57.8L127.8 58.3L128.6 58.1L129.3 59.1L130.1 59.9L130.8 58.8L131.6 58.0L132.3 58.0L133.1 58.8L133.8 59.7L134.6 59.6L135.3 58.0L136.1 56.6L136.8 56.5L137.6 56.6L138.3 56.2L139.1 55.7L139.8 55.7L140.6 55.4L141.3 55.0L142.1 54.3L142.8 52.9L143.6 52.2L144.3 52.5L145.1 52.3L145.8 51.7L146.6 51.4L147.3 52.3L148.1 54.2L148.8 54.5L149.6 53.6L150.3 54.4L151.1 55.3L151.8 54.7L152.6 52.8L153.3 51.0L154.1 50.0L154.8 48.9L155.6 48.8L156.3 50.3L157.1 51.5L157.8 51.5L158.6 50.9L159.3 51.0L160.1 52.4L160.8 53.2L161.6 53.7L162.3 54.5L163.1 56.1L163.8 58.4L164.6 58.9L165.3 57.2L166.1 54.9L166.8 53.3L167.6 52.9L168.3 52.6L169.1 53.1L169.8 54.2L170.6 54.8L171.3 54.5L172.1 54.3L172.8 54.2L173.6 52.8L174.3 51.7L175.1 52.5L175.8 53.6L176.6 52.5L177.3 49.9L178.1 48.3L178.8 49.4L179.6 51.9L180.3 53.9L181.1 54.0L181.8 53.0L182.6 52.7L183.3 52.0L184.1 51.2L184.8 51.3L185.6 50.2L186.3 49.8L187.1 51.2L187.8 52.5L188.6 52.9L189.3 52.5L190.1 51.5L190.8 50.5L191.6 50.1L192.3 49.7L193.1 49.1L193.8 49.9L194.6 50.8L195.3 50.9L196.1 51.8L196.8 52.3L197.6 51.7L198.3 51.5L199.1 52.1L199.8 52.7L200.6 53.8L201.3 55.5L202.1 56.3L202.8 56.3L203.6 56.0L204.3 55.0L205.1 54.2L205.8 54.1L206.6 52.9L207.3 51.8L208.1 52.0L208.8 52.9L209.6 53.0L210.3 51.2L211.1 50.1L211.8 51.5L212.6 52.6L213.3 53.7L214.1 56.5L214.8 58.7L215.6 60.3L216.3 62.0L217.1 62.5L217.8 61.0L218.6 59.1L219.3 57.2L220.1 56.7L220.8 57.0L221.6 56.1L222.3 54.4L223.1 53.4L223.8 54.2L224.6 55.6L225.3 55.4L226.1 54.7L226.8 54.0L227.6 52.1L228.3 50.7L229.1 50.9L229.8 51.6L230.6 51.6L231.3 51.5L232.1 51.5L232.8 51.1L233.6 51.2L234.3 52.1L235.1 52.3L235.8 52.4L236.6 52.7L237.3 52.1L238.1 50.7L238.8 49.7L239.6 49.3L240.3 50.0L241.1 51.1L241.8 51.1L242.6 50.7L243.3 51.5L244.1 53.0L244.8 53.4L245.6 53.2L246.3 52.7L247.1 52.7L247.8 53.5L248.6 54.7L249.3 55.3L250.1 54.4L250.8 53.0L251.6 52.9L252.3 53.1L253.1 52.4L253.8 51.1L254.6 50.9L255.3 52.1L256.1 53.1L256.9 54.0L257.6 55.5L258.4 55.8L259.1 55.7L259.9 55.3L260.6 53.6L261.4 52.6L262.1 53.6L262.9 54.9L263.6 55.2L264.4 55.3L265.1 54.9L265.9 54.0L266.6 53.3L267.4 53.1L268.1 53.1L268.9 52.4L269.6 52.4L270.4 53.3L271.1 54.5L271.9 55.5L272.6 54.7L273.4 52.8L274.1 52.9L274.9 54.5L275.6 55.4L276.4 54.4L277.1 53.4L277.9 53.5L278.6 53.6L279.4 53.5L280.1 53.6L280.9 53.4L281.6 53.8L282.4 54.5L283.1 53.5L283.9 51.5L284.6 50.6L285.4 50.8L286.1 50.9L286.9 52.0L287.6 53.6L288.4 53.8L289.1 53.4L289.9 53.4L290.6 53.8L291.4 54.9L292.1 55.8L292.9 54.9L293.6 53.5L294.4 53.4L295.1 54.3L295.9 54.6L296.6 53.8L297.4 52.9L298.1 53.2L298.9 54.4L299.6 55.0L300.4 55.0L301.1 55.1L301.9 55.1L302.6 53.4L303.4 51.3L304.1 51.2L304.9 52.4L305.6 52.5L306.4 51.6L307.1 51.9L307.9 53.5L308.6 54.8L309.4 55.4L310.1 55.6L310.9 55.2L311.6 55.4L312.4 56.9L313.1 58.2L313.9 58.2L314.6 57.3L315.4 56.4L316.1 56.0L316.9 55.1L317.6 54.2L318.4 54.6L319.1 55.5L319.9 56.2L320.6 56.0L321.4 55.1L322.1 54.1L322.9 53.8L323.6 54.2L324.4 54.7L325.1 55.5L325.9 56.8L326.6 57.2L327.4 57.2L328.1 57.5L328.9 56.9L329.6 55.2L330.4 53.7L331.1 53.6L331.9 53.9L332.6 54.2L333.4 55.5L334.1 55.9L334.9 55.7L335.6 55.7L336.4 54.5L337.1 52.7L337.9 51.9L338.6 51.9L339.4 53.2L340.1 55.0L340.9 55.2L341.6 54.8L342.4 55.0L343.1 54.5L343.9 52.9L344.6 51.5L345.4 51.7L346.1 53.1L346.9 53.9L347.6 53.9L348.4 52.9L349.1 51.9L349.9 52.5L350.6 53.5L351.4 53.1L352.1 51.7" stroke="#e3e162" stroke-width="0.85"/>
<path d="M82.4 135.0L83.2 131.5L83.9 128.1L84.7 124.3L85.4 119.5L86.2 114.4L86.9 110.7L87.7 108.1L88.4 105.8L89.2 104.8L89.9 107.3L90.7 107.1L91.4 107.3L92.2 108.0L92.9 109.0L93.7 109.6L94.4 106.6L95.2 101.9L95.9 98.1L96.7 93.1L97.4 88.8L98.2 86.6L98.9 86.5L99.7 88.0L100.4 88.2L101.2 85.9L101.9 83.0L102.7 81.7L103.4 79.0L104.2 76.4L104.9 74.3L105.7 73.3L106.4 73.6L107.2 73.2L107.9 71.8L108.7 71.3L109.4 71.9L110.2 71.0L110.9 68.4L111.7 65.3L112.4 62.5L113.2 60.4L113.9 58.7L114.7 57.1L115.4 56.0L116.2 56.3L116.9 56.8L117.7 56.5L118.4 57.7L119.2 58.5L119.9 57.9L120.7 55.2L121.4 55.8L122.2 58.5L122.9 59.3L123.7 59.5L124.4 59.4L125.2 59.9L125.9 59.5L126.7 56.2L127.4 53.8L128.2 56.0L128.9 61.1L129.7 64.0L130.4 62.5L131.2 59.4L131.9 58.5L132.7 58.1L133.4 56.6L134.2 56.1L134.9 56.9L135.7 57.1L136.4 56.5L137.2 55.2L137.9 52.8L138.7 51.1L139.4 51.1L140.2 51.9L140.9 53.0L141.7 53.6L142.4 52.3L143.2 51.0L143.9 50.2L144.7 49.8L145.4 49.8L146.2 50.9L146.9 52.5L147.7 53.0L148.4 52.6L149.2 50.9L149.9 50.0L150.7 48.9L151.4 46.3L152.2 46.5L152.9 49.7L153.7 52.4L154.4 52.8L155.2 51.7L155.9 51.7L156.7 53.2L157.4 53.5L158.2 52.8L158.9 54.1L159.7 55.3L160.4 53.6L161.2 51.3L161.9 51.1L162.7 52.3L163.4 53.7L164.2 53.6L164.9 52.3L165.7 52.6L166.4 54.6L167.2 55.4L167.9 53.8L168.7 50.9L169.4 50.3L170.2 51.1L170.9 51.0L171.7 51.0L172.4 51.1L173.2 51.8L173.9 53.0L174.7 52.7L175.4 51.7L176.2 51.5L176.9 50.8L177.7 49.1L178.4 48.0L179.2 47.5L179.9 48.9L180.7 52.6L181.4 54.9L182.2 53.7L182.9 51.8L183.7 52.1L184.4 52.8L185.2 52.5L185.9 51.6L186.7 49.9L187.4 48.7L188.2 48.5L188.9 48.7L189.7 49.5L190.4 50.2L191.2 49.6L191.9 49.5L192.7 51.1L193.4 52.5L194.2 52.2L194.9 52.4L195.7 52.3L196.4 50.1L197.2 48.9L197.9 49.2L198.7 50.4L199.4 52.2L200.2 53.4L200.9 54.3L201.7 54.7L202.4 54.7L203.2 54.7L203.9 54.5L204.7 53.9L205.4 52.7L206.2 52.9L206.9 53.3L207.7 52.7L208.4 52.9L209.2 52.9L209.9 52.5L210.7 53.0L211.4 53.6L212.2 53.9L212.9 55.5L213.7 57.4L214.4 59.1L215.2 61.6L215.9 63.5L216.7 63.4L217.4 61.8L218.2 60.6L218.9 59.4L219.7 58.5L220.4 58.8L221.2 59.5L221.9 59.3L222.7 57.7L223.4 56.3L224.2 55.3L224.9 53.3L225.7 50.9L226.4 50.1L227.2 50.9L227.9 52.9L228.7 53.9L229.4 53.0L230.2 52.3L230.9 52.6L231.7 52.7L232.4 52.5L233.2 51.6L233.9 50.9L234.7 51.3L235.4 52.3L236.2 52.7L236.9 52.5L237.7 52.1L238.4 52.4L239.2 53.3L239.9 54.5L240.7 54.7L241.4 53.9L242.2 53.8L242.9 54.2L243.7 54.4L244.4 54.6L245.2 54.3L245.9 52.6L246.7 51.3L247.4 52.1L248.2 53.2L248.9 53.9L249.7 53.9L250.4 53.4L251.2 53.1L251.9 52.7L252.7 51.8L253.4 51.3L254.2 51.4L254.9 51.3L255.7 50.6L256.4 51.0L257.1 51.9L257.9 52.5L258.6 52.9L259.4 53.7L260.1 54.7L260.9 55.3L261.6 54.6L262.4 53.8L263.1 52.8L263.9 52.0L264.6 53.2L265.4 55.5L266.1 56.1L266.9 55.8L267.6 55.5L268.4 54.6L269.1 53.5L269.9 52.6L270.6 52.6L271.4 53.8L272.1 54.3L272.9 53.9L273.6 53.2L274.4 52.1L275.1 52.1L275.9 54.8L276.6 57.4L277.4 56.9L278.1 54.8L278.9 53.7L279.6 54.1L280.4 54.7L281.1 54.8L281.9 54.6L282.6 54.4L283.4 54.7L284.1 54.4L284.9 53.6L285.6 53.8L286.4 54.8L287.1 55.4L287.9 55.9L288.6 56.8L289.4 56.4L290.1 53.5L290.9 52.0L291.6 52.7L292.4 53.2L293.1 53.0L293.9 52.9L294.6 54.4L295.4 55.9L296.1 55.3L296.9 53.7L297.6 54.0L298.4 55.7L299.1 56.0L299.9 54.5L300.6 54.2L301.4 55.0L302.1 54.6L302.9 54.2L303.6 54.0L304.4 53.2L305.1 53.5L305.9 54.6L306.6 54.7L307.4 54.5L308.1 54.4L308.9 55.4L309.6 56.6L310.4 56.7L311.1 55.5L311.9 54.7L312.6 55.1L313.4 55.5L314.1 55.2L314.9 56.1L315.6 57.6L316.4 57.7L317.1 56.6L317.9 55.7L318.6 54.9L319.4 53.3L320.1 52.5L320.9 53.7L321.6 55.3L322.4 54.8L323.1 53.6L323.9 53.8L324.6 54.9L325.4 54.9L326.1 54.6L326.9 55.5L327.6 55.6L328.4 54.4L329.1 54.1L329.9 54.5L330.6 54.3L331.4 53.5L332.1 52.6L332.9 53.6L333.6 55.8L334.4 56.3L335.1 55.9L335.9 56.4L336.6 56.8L337.4 55.7L338.1 54.2L338.9 53.9L339.6 54.6L340.4 54.7L341.1 54.4L341.9 54.6L342.6 55.0L343.4 53.9L344.1 52.2L344.9 52.5L345.6 53.7L346.4 53.8L347.1 53.0L347.9 52.6L348.6 53.2L349.4 53.0L350.1 51.9L350.9 51.7L351.6 52.5L352.4 53.2" stroke="#e8b020" stroke-width="1.05"/>
<path d="M78.4 135.6L79.2 126.7L79.9 118.0L80.7 109.8L81.4 101.2L82.2 92.7L82.9 87.8L83.7 86.6L84.4 84.0L85.2 81.1L85.9 78.4L86.7 76.0L87.4 72.8L88.2 68.0L88.9 62.5L89.7 67.5L90.4 69.4L91.2 66.5L91.9 62.8L92.7 61.1L93.4 59.4L94.2 59.1L94.9 58.5L95.7 57.6L96.4 57.5L97.2 56.7L97.9 54.3L98.7 51.9L99.4 50.3L100.2 49.0L100.9 47.8L101.7 46.7L102.4 46.7L103.2 49.3L103.9 51.0L104.7 52.6L105.4 54.3L106.2 52.2L106.9 49.6L107.7 47.8L108.4 47.4L109.2 47.2L109.9 46.3L110.7 44.2L111.4 41.9L112.2 40.9L112.9 40.2L113.7 38.6L114.4 40.0L115.2 43.0L115.9 45.3L116.7 46.5L117.4 45.7L118.2 44.6L118.9 44.9L119.7 45.2L120.4 43.7L121.2 41.5L121.9 40.2L122.7 38.7L123.4 36.0L124.2 36.3L124.9 39.3L125.7 42.0L126.4 41.9L127.2 40.7L127.9 41.2L128.7 42.0L129.4 41.2L130.2 40.3L130.9 39.5L131.7 38.6L132.4 38.5L133.2 38.5L133.9 38.9L134.7 39.4L135.4 38.8L136.2 38.4L136.9 39.0L137.7 39.3L138.4 38.6L139.2 39.1L139.9 41.1L140.7 42.3L141.4 42.0L142.2 41.9L142.9 42.6L143.7 43.9L144.4 45.8L145.2 46.4L145.9 44.8L146.7 42.0L147.4 40.2L148.2 39.5L148.9 39.1L149.7 40.0L150.4 41.0L151.2 40.9L151.9 42.0L152.7 43.8L153.4 44.1L154.2 43.4L154.9 42.5L155.7 41.8L156.4 42.0L157.2 42.4L157.9 42.4L158.7 42.4L159.4 42.8L160.2 44.0L160.9 45.1L161.7 44.0L162.4 42.6L163.2 43.7L163.9 45.9L164.7 45.6L165.4 43.5L166.2 42.3L166.9 40.9L167.7 40.0L168.4 41.8L169.2 43.2L169.9 42.2L170.7 41.8L171.4 42.2L172.2 41.9L172.9 41.7L173.7 41.6L174.4 41.5L175.2 41.5L175.9 41.5L176.7 42.4L177.4 43.6L178.2 43.4L178.9 41.9L179.7 41.0L180.4 40.2L181.2 39.5L181.9 40.3L182.7 41.9L183.4 43.4L184.2 44.0L184.9 43.0L185.7 41.7L186.4 41.3L187.2 41.6L187.9 42.3L188.7 42.0L189.4 40.4L190.2 38.5L190.9 37.1L191.7 37.3L192.4 38.1L193.2 38.8L193.9 40.4L194.7 41.3L195.4 40.3L196.2 39.7L196.9 39.9L197.7 40.1L198.4 40.2L199.2 40.6L199.9 41.3L200.7 41.1L201.4 39.4L202.2 38.0L202.9 38.7L203.7 40.3L204.4 41.0L205.2 41.0L205.9 41.4L206.7 41.6L207.4 41.2L208.2 41.1L208.9 40.6L209.7 40.4L210.4 41.6L211.2 42.8L211.9 42.8L212.7 42.6L213.4 42.7L214.2 42.2L214.9 40.5L215.7 38.2L216.4 37.5L217.2 39.5L217.9 42.2L218.7 42.6L219.4 41.7L220.2 41.5L220.9 41.4L221.7 41.8L222.4 42.3L223.2 42.0L223.9 41.7L224.7 40.5L225.4 39.1L226.2 39.2L226.9 39.5L227.7 39.1L228.4 39.5L229.2 40.8L229.9 40.9L230.7 40.2L231.4 41.2L232.2 43.1L232.9 43.0L233.7 42.4L234.4 42.0L235.2 41.5L235.9 40.8L236.7 40.3L237.4 39.5L238.2 38.5L238.9 38.8L239.7 40.5L240.4 41.6L241.2 41.0L241.9 39.9L242.7 39.4L243.4 38.8L244.2 38.1L244.9 38.3L245.7 39.1L246.4 39.6L247.2 39.8L247.9 40.3L248.7 40.6L249.4 40.8L250.2 40.4L250.9 39.6L251.7 39.2L252.4 39.4L253.2 40.1L253.9 41.2L254.7 42.1L255.4 42.4L256.1 42.3L256.9 41.9L257.6 43.1L258.4 42.9L259.1 42.2L259.9 41.5L260.6 40.8L261.4 40.4L262.1 39.9L262.9 39.9L263.6 40.2L264.4 39.6L265.1 38.4L265.9 37.7L266.6 38.1L267.4 39.2L268.1 39.7L268.9 38.8L269.6 38.5L270.4 39.0L271.1 38.3L271.9 38.1L272.6 38.7L273.4 39.2L274.1 39.9L274.9 41.0L275.6 41.0L276.4 39.6L277.1 38.2L277.9 37.3L278.6 36.8L279.4 36.9L280.1 37.2L280.9 37.3L281.6 37.3L282.4 36.7L283.1 36.3L283.9 36.5L284.6 36.8L285.4 36.8L286.1 37.0L286.9 37.1L287.6 37.0L288.4 37.2L289.1 37.3L289.9 37.7L290.6 38.3L291.4 37.5L292.1 36.3L292.9 36.7L293.6 37.0L294.4 36.3L295.1 36.3L295.9 36.9L296.6 37.2L297.4 37.3L298.1 36.8L298.9 36.7L299.6 37.2L300.4 38.2L301.1 39.3L301.9 39.7L302.6 39.6L303.4 38.9L304.1 38.3L304.9 38.8L305.6 39.7L306.4 40.0L307.1 40.3L307.9 39.8L308.6 39.4L309.4 39.7L310.1 39.4L310.9 38.1L311.6 36.9L312.4 36.0L313.1 35.1L313.9 34.6L314.6 35.5L315.4 36.7L316.1 36.8L316.9 37.0L317.6 37.1L318.4 36.6L319.1 35.8L319.9 35.5L320.6 35.8L321.4 36.3L322.1 36.9L322.9 38.0L323.6 38.5L324.4 37.4L325.1 36.3L325.9 36.3L326.6 36.5L327.4 36.4L328.1 36.9L328.9 38.9L329.6 41.7L330.4 42.9L331.1 43.6L331.9 45.4L332.6 43.1L333.4 42.1L334.1 41.3L334.9 41.3L335.6 41.8L336.4 41.7L337.1 40.9L337.9 39.8L338.6 38.9L339.4 38.4L340.1 38.4L340.9 38.7L341.6 38.9L342.4 38.9L343.1 39.1L343.9 40.2L344.6 43.5L345.4 43.1L346.1 41.4L346.9 40.1L347.6 39.6L348.4 39.3L349.1 38.7L349.9 39.1L350.6 40.0L351.4 39.2L352.1 38.2" stroke="#2edc4c" stroke-width="1.05"/>
<path d="M79.0 134.9L79.8 126.3L80.5 118.3L81.2 110.9L82.0 102.6L82.8 94.0L83.5 88.1L84.2 85.8L85.0 83.7L85.8 81.3L86.5 79.2L87.2 77.2L88.0 74.8L88.8 71.3L89.5 69.3L90.2 69.6L91.0 69.7L91.8 68.0L92.5 64.2L93.2 62.0L94.0 62.4L94.8 63.8L95.5 63.9L96.2 62.6L97.0 61.0L97.8 59.0L98.5 56.3L99.2 53.9L100.0 52.7L100.8 52.5L101.5 52.2L102.2 50.7L103.0 49.7L103.8 51.4L104.5 52.6L105.2 52.3L106.0 51.3L106.8 51.6L107.5 51.6L108.2 49.9L109.0 48.1L109.8 47.5L110.5 47.1L111.2 45.9L112.0 45.6L112.8 47.4L113.5 49.9L114.2 49.9L115.0 48.1L115.8 46.8L116.5 45.9L117.2 45.4L118.0 45.8L118.8 45.9L119.5 44.6L120.2 43.5L121.0 43.6L121.8 43.5L122.5 41.9L123.2 40.0L124.0 39.1L124.8 38.3L125.5 37.3L126.2 37.7L127.0 39.0L127.8 40.5L128.5 41.7L129.2 41.3L130.0 40.1L130.8 39.3L131.5 38.8L132.2 39.2L133.0 39.7L133.8 38.5L134.5 36.7L135.2 36.9L136.0 38.0L136.8 38.4L137.5 39.4L138.2 40.5L139.0 40.2L139.8 39.6L140.5 39.9L141.2 39.9L142.0 38.7L142.8 38.2L143.5 39.8L144.2 41.5L145.0 42.3L145.8 42.6L146.5 41.7L147.2 40.2L148.0 39.9L148.8 40.4L149.5 41.4L150.2 42.6L151.0 43.0L151.8 42.4L152.5 41.2L153.2 39.8L154.0 38.8L154.8 37.6L155.5 36.9L156.2 37.4L157.0 38.4L157.8 38.6L158.5 38.1L159.2 37.7L160.0 38.4L160.8 39.3L161.5 39.2L162.2 38.9L163.0 38.6L163.8 38.1L164.5 37.7L165.2 38.1L166.0 39.1L166.8 39.4L167.5 39.3L168.2 38.7L169.0 37.4L169.8 36.9L170.5 38.0L171.2 39.6L172.0 39.6L172.8 38.4L173.5 37.2L174.2 37.4L175.0 38.3L175.8 39.1L176.5 39.8L177.2 39.8L178.0 40.3L178.8 41.4L179.5 41.7L180.2 40.5L181.0 39.4L181.8 39.6L182.5 39.8L183.2 38.9L184.0 38.3L184.8 39.1L185.5 40.3L186.2 40.0L187.0 38.7L187.8 38.0L188.5 37.9L189.2 37.3L190.0 36.7L190.8 36.6L191.5 36.9L192.2 37.1L193.0 37.1L193.8 37.0L194.5 37.1L195.2 37.7L196.0 37.4L196.8 36.8L197.5 37.1L198.2 37.4L199.0 37.6L199.8 38.3L200.5 38.5L201.2 38.2L202.0 38.2L202.8 38.6L203.5 38.3L204.2 38.0L205.0 38.3L205.8 38.3L206.5 38.2L207.2 37.5L208.0 36.4L208.8 35.6L209.5 35.2L210.2 35.5L211.0 35.9L211.8 35.6L212.5 35.0L213.2 35.1L214.0 35.5L214.8 36.1L215.5 36.4L216.2 36.6L217.0 36.7L217.8 37.2L218.5 39.5L219.2 41.1L220.0 40.3L220.8 38.8L221.5 38.2L222.2 38.4L223.0 38.0L223.8 37.5L224.5 37.9L225.2 38.6L226.0 38.0L226.8 36.4L227.5 35.6L228.2 35.7L229.0 36.0L229.8 35.8L230.5 36.0L231.2 36.2L232.0 35.7L232.8 35.0L233.5 35.1L234.2 36.1L235.0 37.5L235.8 37.3L236.5 36.1L237.2 36.7L238.0 38.5L238.8 38.7L239.5 38.1L240.2 38.2L241.0 38.3L241.8 38.1L242.5 38.0L243.2 38.1L244.0 37.2L244.8 36.0L245.5 35.9L246.2 36.2L247.0 36.5L247.8 36.4L248.5 35.9L249.2 35.5L250.0 35.6L250.8 36.0L251.5 36.1L252.2 35.3L253.0 34.7L253.8 34.5L254.5 34.6L255.2 35.3L256.0 35.9L256.8 36.2L257.5 36.2L258.2 35.6L259.0 35.2L259.8 34.8L260.5 33.9L261.2 32.8L262.0 32.7L262.8 33.3L263.5 33.9L264.2 34.9L265.0 35.2L265.8 34.6L266.5 34.4L267.2 35.0L268.0 36.1L268.8 36.6L269.5 36.1L270.2 35.8L271.0 35.2L271.8 34.5L272.5 34.7L273.2 35.4L274.0 35.7L274.8 35.7L275.5 34.9L276.2 34.6L277.0 34.8L277.8 34.6L278.5 34.0L279.2 33.9L280.0 34.4L280.8 34.7L281.5 34.3L282.2 33.1L283.0 31.5L283.8 30.6L284.5 31.0L285.2 31.7L286.0 32.2L286.8 33.1L287.5 34.0L288.2 34.4L289.0 34.9L289.8 35.2L290.5 35.3L291.2 35.5L292.0 35.3L292.8 35.0L293.5 34.9L294.2 34.5L295.0 34.4L295.8 34.5L296.5 34.6L297.2 34.8L298.0 34.7L298.8 34.5L299.5 34.3L300.2 34.0L301.0 34.0L301.8 34.1L302.5 34.3L303.2 34.3L304.0 34.6L304.8 35.2L305.5 35.5L306.2 35.3L307.0 35.0L307.8 34.3L308.5 34.2L309.2 35.5L310.0 36.5L310.8 36.3L311.5 35.8L312.2 36.1L313.0 36.6L313.8 37.0L314.5 37.2L315.2 36.6L316.0 35.7L316.8 34.8L317.5 34.5L318.2 34.9L319.0 35.4L319.8 35.7L320.5 35.1L321.2 34.3L322.0 34.2L322.8 33.9L323.5 33.6L324.2 34.3L325.0 35.4L325.8 35.3L326.5 34.5L327.2 34.6L328.0 35.4L328.8 36.0L329.5 35.4L330.2 34.5L331.0 33.7L331.8 33.2L332.5 34.0L333.2 34.7L334.0 34.3L334.8 34.0L335.5 34.8L336.2 34.8L337.0 34.0L337.8 33.9L338.5 34.1L339.2 34.0L340.0 34.0L340.8 34.0L341.5 34.0L342.2 34.1L343.0 34.3L343.8 34.9L344.5 35.5L345.2 35.4L346.0 34.9L346.8 34.2L347.5 34.2L348.2 34.7L349.0 34.5L349.8 34.1L350.5 34.1L351.2 34.7L352.0 35.7L352.8 36.2" stroke="#55b45a" stroke-width="1.05"/>
<path d="M75.3 135.2L76.0 126.0L76.8 116.5L77.5 106.5L78.3 94.8L79.0 86.1L79.8 82.9L80.5 81.0L81.3 79.7L82.0 78.3L82.8 76.6L83.5 74.8L84.3 71.5L85.0 67.7L85.8 65.5L86.5 65.4L87.3 65.2L88.0 64.8L88.8 63.1L89.5 61.1L90.3 59.2L91.0 57.0L91.8 54.8L92.5 54.4L93.3 57.9L94.0 60.0L94.8 58.2L95.5 54.4L96.3 51.6L97.0 51.1L97.8 50.3L98.5 48.5L99.3 46.9L100.0 46.6L100.8 46.0L101.5 44.0L102.3 41.8L103.0 41.0L103.8 41.3L104.5 40.5L105.3 38.9L106.0 37.7L106.8 37.6L107.5 39.0L108.3 40.0L109.0 39.2L109.8 37.7L110.5 36.6L111.3 36.0L112.0 36.0L112.8 36.8L113.5 36.8L114.3 36.8L115.0 37.5L115.8 38.1L116.5 37.4L117.3 35.3L118.0 32.8L118.8 31.7L119.5 31.8L120.3 32.3L121.0 33.5L121.8 34.6L122.5 34.4L123.3 33.0L124.0 31.3L124.8 30.1L125.5 30.4L126.3 31.6L127.0 32.1L127.8 31.8L128.6 30.8L129.3 29.6L130.1 28.8L130.8 28.8L131.6 30.0L132.3 30.9L133.1 31.1L133.8 31.3L134.6 31.2L135.3 30.6L136.1 29.8L136.8 29.2L137.6 29.2L138.3 29.6L139.1 29.3L139.8 27.6L140.6 25.6L141.3 25.1L142.1 25.9L142.8 27.0L143.6 28.3L144.3 28.6L145.1 28.0L145.8 28.1L146.6 27.6L147.3 26.5L148.1 26.6L148.8 27.1L149.6 27.0L150.3 27.3L151.1 28.0L151.8 28.1L152.6 28.4L153.3 29.5L154.1 30.4L154.8 31.6L155.6 32.7L156.3 32.2L157.1 31.1L157.8 31.4L158.6 31.8L159.3 32.3L160.1 33.1L160.8 33.6L161.6 32.6L162.3 31.3L163.1 30.2L163.8 29.6L164.6 29.9L165.3 29.5L166.1 27.9L166.8 26.7L167.6 26.7L168.3 27.7L169.1 28.8L169.8 28.9L170.6 28.9L171.3 29.7L172.1 30.4L172.8 30.0L173.6 30.0L174.3 30.4L175.1 29.8L175.8 29.5L176.6 29.3L177.3 28.6L178.1 28.2L178.8 28.2L179.6 27.9L180.3 27.6L181.1 27.7L181.8 27.4L182.6 25.9L183.3 24.8L184.1 25.1L184.8 25.9L185.6 26.4L186.3 26.4L187.1 26.2L187.8 25.7L188.6 24.7L189.3 24.3L190.1 24.7L190.8 24.9L191.6 24.9L192.3 25.3L193.1 26.1L193.8 27.3L194.6 28.5L195.3 28.7L196.1 27.7L196.8 26.4L197.6 25.6L198.3 25.5L199.1 26.5L199.8 28.6L200.6 30.0L201.3 29.5L202.1 28.3L202.8 27.4L203.6 27.6L204.3 27.9L205.1 27.6L205.8 26.7L206.6 26.0L207.3 26.0L208.1 27.1L208.8 28.5L209.6 27.9L210.3 26.7L211.1 26.7L211.8 27.8L212.6 28.4L213.3 28.0L214.1 28.8L214.8 30.6L215.6 31.8L216.3 31.3L217.1 29.2L217.8 27.4L218.6 27.0L219.3 27.3L220.1 27.5L220.8 27.3L221.6 27.6L222.3 28.5L223.1 28.8L223.8 28.4L224.6 27.8L225.3 27.6L226.1 28.4L226.8 29.3L227.6 28.7L228.3 28.3L229.1 28.7L229.8 28.4L230.6 27.8L231.3 27.3L232.1 27.0L232.8 27.4L233.6 29.1L234.3 30.4L235.1 30.4L235.8 30.3L236.6 30.7L237.3 30.3L238.1 29.2L238.8 28.9L239.6 29.6L240.3 30.0L241.1 29.3L241.8 29.0L242.6 29.5L243.3 30.0L244.1 30.2L244.8 30.5L245.6 30.8L246.3 31.2L247.1 31.7L247.8 31.3L248.6 30.3L249.3 29.4L250.1 28.9L250.8 28.4L251.6 28.7L252.3 29.7L253.1 29.7L253.8 28.7L254.6 28.8L255.3 30.2L256.1 31.3L256.8 31.9L257.6 31.9L258.3 30.5L259.1 28.0L259.8 27.1L260.6 28.2L261.3 29.1L262.1 30.0L262.8 30.0L263.6 29.2L264.3 28.0L265.1 27.3L265.8 27.6L266.6 28.5L267.3 29.6L268.1 30.3L268.8 30.3L269.6 30.7L270.3 30.8L271.1 29.6L271.8 28.5L272.6 28.0L273.3 27.8L274.1 28.4L274.8 30.0L275.6 31.2L276.3 30.7L277.1 29.8L277.8 29.4L278.6 29.3L279.3 29.0L280.1 28.8L280.8 29.0L281.6 29.4L282.3 29.1L283.1 28.0L283.8 27.0L284.6 27.2L285.3 28.3L286.1 28.9L286.8 29.1L287.6 29.2L288.3 28.6L289.1 28.0L289.8 28.1L290.6 28.3L291.3 28.6L292.1 28.8L292.8 28.8L293.6 29.2L294.3 30.1L295.1 31.1L295.8 31.0L296.6 29.4L297.3 27.8L298.1 27.2L298.8 27.4L299.6 28.2L300.3 28.9L301.1 29.5L301.8 29.9L302.6 30.3L303.3 31.0L304.1 31.4L304.8 31.5L305.6 32.4L306.3 33.2L307.1 33.1L307.8 32.8L308.6 32.3L309.3 31.7L310.1 31.7L310.8 32.5L311.6 32.9L312.3 32.5L313.1 32.0L313.8 31.7L314.6 31.5L315.3 30.8L316.1 28.9L316.8 27.0L317.6 26.7L318.3 26.9L319.1 26.9L319.8 27.1L320.6 27.1L321.3 27.3L322.1 27.5L322.8 27.8L323.6 28.7L324.3 29.2L325.1 28.9L325.8 28.6L326.6 29.1L327.3 30.0L328.1 30.2L328.8 29.8L329.6 29.9L330.3 30.6L331.1 31.3L331.8 31.5L332.6 30.6L333.3 29.5L334.1 28.9L334.8 28.7L335.6 29.2L336.3 30.4L337.1 30.6L337.8 29.1L338.6 28.0L339.3 27.8L340.1 28.0L340.8 28.1L341.6 28.5L342.3 28.3L343.1 27.4L343.8 26.7L344.6 27.0L345.3 28.0L346.1 28.3L346.8 27.6L347.6 27.3L348.3 28.0L349.1 29.0L349.8 29.7L350.6 30.4L351.3 32.0L352.1 33.9L352.8 35.0" stroke="#55b2dc" stroke-width="1.05"/>
<path d="M75.8 134.9L76.5 125.8L77.3 116.3L78.0 106.3L78.8 94.2L79.5 85.2L80.3 82.6L81.0 81.2L81.8 79.4L82.5 77.5L83.3 75.8L84.0 73.6L84.8 69.0L85.5 63.9L86.3 61.6L87.0 63.6L87.8 64.7L88.5 64.5L89.3 64.7L90.0 62.8L90.8 58.6L91.5 54.3L92.3 50.9L93.0 48.8L93.8 49.6L94.5 50.5L95.3 51.2L96.0 51.5L96.8 53.7L97.5 52.8L98.3 50.3L99.0 47.8L99.8 45.4L100.5 43.1L101.3 41.1L102.0 39.9L102.8 39.1L103.5 39.0L104.3 38.6L105.0 38.0L105.8 38.0L106.5 37.3L107.3 36.2L108.0 35.3L108.8 34.9L109.5 35.3L110.3 35.1L111.0 34.2L111.8 34.7L112.5 35.0L113.3 35.4L114.0 36.4L114.8 37.5L115.5 37.6L116.3 36.9L117.0 36.6L117.8 37.1L118.5 37.2L119.3 36.1L120.0 34.6L120.8 34.9L121.5 37.4L122.3 38.6L123.0 37.5L123.8 36.3L124.5 35.8L125.3 36.3L126.0 35.6L126.8 34.7L127.5 34.5L128.3 34.9L129.1 35.6L129.8 36.7L130.6 37.8L131.3 37.1L132.1 35.3L132.8 33.7L133.6 32.8L134.3 32.7L135.1 32.5L135.8 32.4L136.6 32.3L137.3 32.0L138.1 32.0L138.8 32.4L139.6 31.2L140.3 29.2L141.1 29.4L141.8 30.6L142.6 31.5L143.3 32.7L144.1 33.7L144.8 33.9L145.6 34.2L146.3 34.9L147.1 35.3L147.8 35.8L148.6 36.4L149.3 35.4L150.1 34.0L150.8 33.6L151.6 33.0L152.3 32.1L153.1 31.7L153.8 31.9L154.6 32.1L155.3 33.6L156.1 35.0L156.8 34.3L157.6 32.6L158.3 31.6L159.1 31.8L159.8 31.4L160.6 30.1L161.3 30.6L162.1 32.0L162.8 32.3L163.6 32.2L164.3 31.2L165.1 29.9L165.8 29.6L166.6 29.7L167.3 28.8L168.1 28.1L168.8 27.7L169.6 27.2L170.3 27.3L171.1 27.8L171.8 28.1L172.6 28.7L173.3 29.9L174.1 30.5L174.8 30.1L175.6 30.6L176.3 31.7L177.1 30.5L177.8 28.0L178.6 27.1L179.3 27.3L180.1 27.9L180.8 27.9L181.6 28.5L182.3 29.2L183.1 28.7L183.8 28.3L184.6 28.9L185.3 29.6L186.1 29.8L186.8 29.1L187.6 27.7L188.3 26.5L189.1 25.9L189.8 26.5L190.6 27.9L191.3 28.8L192.1 28.3L192.8 27.3L193.6 26.8L194.3 26.7L195.1 27.1L195.8 27.7L196.6 28.2L197.3 28.7L198.1 29.3L198.8 29.4L199.6 28.4L200.3 28.0L201.1 29.2L201.8 31.4L202.6 32.2L203.3 31.3L204.1 30.1L204.8 29.8L205.6 30.3L206.3 30.5L207.1 29.9L207.8 28.3L208.6 26.6L209.3 26.8L210.1 28.5L210.8 29.6L211.6 29.7L212.3 29.7L213.1 29.4L213.8 29.2L214.6 29.2L215.3 28.8L216.1 29.5L216.8 31.5L217.6 32.5L218.3 32.2L219.1 31.6L219.8 30.9L220.6 30.9L221.3 31.6L222.1 32.1L222.8 32.0L223.6 31.7L224.3 32.0L225.1 32.3L225.8 33.5L226.6 34.9L227.3 34.5L228.1 33.2L228.8 32.4L229.6 31.8L230.3 31.4L231.1 31.5L231.8 32.2L232.6 33.2L233.3 34.6L234.1 35.5L234.8 35.2L235.6 34.4L236.3 34.2L237.1 34.9L237.8 35.6L238.6 35.6L239.3 35.1L240.1 34.4L240.8 33.1L241.6 32.1L242.3 31.7L243.1 31.5L243.8 31.2L244.6 30.1L245.3 28.8L246.1 28.5L246.8 29.4L247.6 30.4L248.3 31.0L249.1 31.5L249.8 31.5L250.6 30.7L251.3 30.6L252.1 31.6L252.8 31.8L253.6 31.1L254.3 30.8L255.1 30.6L255.8 30.6L256.6 31.2L257.3 32.0L258.1 31.7L258.8 31.1L259.6 31.1L260.3 32.0L261.1 32.3L261.8 31.5L262.6 30.8L263.3 30.9L264.1 31.4L264.8 31.8L265.6 31.8L266.3 31.5L267.1 31.1L267.8 31.2L268.6 31.9L269.3 32.6L270.1 32.5L270.8 32.0L271.6 31.3L272.3 30.6L273.1 30.1L273.8 29.9L274.6 29.2L275.3 28.4L276.1 28.3L276.8 28.7L277.6 29.5L278.3 30.4L279.1 30.9L279.8 30.5L280.6 29.6L281.3 29.2L282.1 29.2L282.8 29.6L283.6 29.9L284.3 30.1L285.1 30.6L285.8 30.9L286.6 30.8L287.3 31.3L288.1 32.2L288.8 32.1L289.6 31.6L290.3 31.4L291.1 31.1L291.8 30.9L292.6 30.8L293.3 30.4L294.1 30.3L294.8 31.0L295.6 31.9L296.3 32.0L297.1 31.7L297.8 31.8L298.6 32.3L299.3 32.8L300.1 32.8L300.8 32.5L301.6 32.2L302.3 31.6L303.1 31.2L303.8 31.5L304.6 32.6L305.3 33.7L306.1 34.9L306.8 35.8L307.6 35.3L308.3 34.4L309.1 34.0L309.8 34.1L310.6 34.3L311.3 34.6L312.1 34.7L312.8 34.2L313.6 33.7L314.3 33.5L315.1 33.5L315.8 33.7L316.6 33.6L317.3 33.2L318.1 33.4L318.8 34.2L319.6 34.5L320.3 33.8L321.1 33.0L321.8 33.0L322.6 33.1L323.3 32.4L324.1 31.8L324.8 31.8L325.6 31.8L326.3 32.2L327.1 32.6L327.8 32.1L328.6 31.9L329.3 32.9L330.1 33.8L330.8 34.2L331.6 34.7L332.3 34.4L333.1 33.7L333.8 34.1L334.6 35.7L335.3 36.6L336.1 36.2L336.8 35.2L337.6 33.8L338.3 33.4L339.1 33.7L339.8 33.6L340.6 33.5L341.3 34.2L342.1 34.9L342.8 35.2L343.6 35.4L344.3 34.9L345.1 34.0L345.8 33.5L346.6 33.8L347.3 34.4L348.1 34.8L348.8 35.4L349.6 35.7L350.3 35.6L351.1 36.2L351.8 37.1L352.6 37.6" stroke="#4a38d0" stroke-width="1.05"/>
<path d="M71.9 135.2L72.7 123.9L73.4 112.9L74.2 101.9L74.9 91.3L75.7 84.6L76.4 80.2L77.2 77.1L77.9 73.3L78.7 68.8L79.4 64.0L80.2 59.6L80.9 55.1L81.7 50.6L82.4 46.3L83.2 42.3L83.9 39.6L84.7 37.6L85.4 35.2L86.2 34.1L86.9 34.8L87.7 34.6L88.4 34.3L89.2 34.5L89.9 35.4L90.7 36.7L91.4 37.0L92.2 36.4L92.9 34.7L93.7 32.9L94.4 32.0L95.2 31.5L95.9 30.8L96.7 30.4L97.4 30.9L98.2 29.9L98.9 28.9L99.7 28.6L100.4 27.7L101.2 26.0L101.9 24.1L102.7 21.9L103.4 21.2L104.2 23.5L104.9 28.3L105.7 31.2L106.4 29.1L107.2 27.8L107.9 25.5L108.7 23.5L109.4 22.4L110.2 22.9L110.9 24.3L111.7 23.4L112.4 21.7L113.2 21.5L113.9 20.9L114.7 19.6L115.4 18.8L116.2 18.1L116.9 17.3L117.7 18.3L118.4 20.3L119.2 21.3L119.9 21.5L120.7 20.2L121.4 18.2L122.2 17.6L122.9 18.9L123.7 19.6L124.4 19.4L125.2 18.9L125.9 18.4L126.7 18.5L127.4 19.0L128.2 19.6L128.9 19.7L129.7 19.1L130.4 17.3L131.2 14.8L131.9 13.9L132.7 14.9L133.4 16.3L134.2 16.5L134.9 16.2L135.7 15.6L136.4 14.7L137.2 15.0L137.9 16.5L138.7 17.5L139.4 18.1L140.2 18.9L140.9 19.1L141.7 19.1L142.4 19.0L143.2 18.6L143.9 18.4L144.7 19.6L145.4 20.6L146.2 21.1L146.9 21.3L147.7 20.5L148.4 19.2L149.2 18.9L149.9 19.3L150.7 20.4L151.4 21.9L152.2 21.5L152.9 19.4L153.7 18.6L154.4 19.5L155.2 20.3L155.9 20.2L156.7 20.0L157.4 20.4L158.2 20.7L158.9 20.8L159.7 20.8L160.4 20.2L161.2 20.4L161.9 21.1L162.7 21.8L163.4 21.7L164.2 20.9L164.9 21.0L165.7 22.0L166.4 22.3L167.2 21.6L167.9 21.3L168.7 21.0L169.4 20.6L170.2 20.7L170.9 20.8L171.7 21.5L172.4 22.9L173.2 23.4L173.9 22.6L174.7 22.1L175.4 21.8L176.2 21.3L176.9 21.4L177.7 21.6L178.4 21.2L179.2 21.0L179.9 20.9L180.7 20.9L181.4 20.1L182.2 18.7L182.9 18.6L183.7 19.4L184.4 19.6L185.2 19.8L185.9 20.8L186.7 21.6L187.4 21.3L188.2 20.7L188.9 21.0L189.7 22.8L190.4 24.6L191.2 24.9L191.9 23.8L192.7 22.7L193.4 21.5L194.2 20.7L194.9 19.7L195.7 18.8L196.4 18.8L197.2 19.4L197.9 19.6L198.7 19.5L199.4 19.9L200.2 20.3L200.9 19.3L201.7 17.6L202.4 17.0L203.2 16.9L203.9 16.7L204.7 17.8L205.4 18.1L206.2 16.5L206.9 15.7L207.7 17.4L208.4 20.1L209.2 21.1L209.9 20.0L210.7 18.4L211.4 17.8L212.2 17.8L212.9 17.9L213.7 18.4L214.4 18.7L215.2 18.0L215.9 17.4L216.7 18.0L217.4 18.7L218.2 18.0L218.9 16.9L219.7 17.1L220.4 17.5L221.2 17.0L221.9 16.5L222.7 16.8L223.4 18.3L224.2 19.8L224.9 19.9L225.7 19.5L226.4 20.1L227.2 20.6L227.9 20.5L228.7 20.5L229.4 20.3L230.2 20.1L230.9 20.5L231.7 20.7L232.4 20.8L233.2 20.3L233.9 19.1L234.7 18.5L235.4 19.5L236.2 20.7L236.9 20.5L237.7 20.2L238.4 20.4L239.2 20.5L239.9 20.6L240.7 20.2L241.4 20.1L242.2 20.4L242.9 20.8L243.7 21.0L244.4 20.1L245.2 18.7L245.9 18.3L246.7 19.0L247.4 19.5L248.2 19.0L248.9 18.1L249.7 18.1L250.4 18.9L251.2 19.1L251.9 18.7L252.7 19.1L253.4 19.5L254.2 18.9L254.9 18.4L255.7 18.2L256.4 17.7L257.1 17.7L257.9 18.0L258.6 17.9L259.4 17.9L260.1 18.3L260.9 18.6L261.6 19.1L262.4 19.7L263.1 19.9L263.9 19.2L264.6 18.2L265.4 17.9L266.1 18.8L266.9 19.7L267.6 23.2L268.4 22.5L269.1 19.8L269.9 18.2L270.6 17.0L271.4 16.2L272.1 16.9L272.9 17.3L273.6 16.8L274.4 17.2L275.1 18.1L275.9 18.6L276.6 19.0L277.4 19.2L278.1 18.9L278.9 18.7L279.6 18.5L280.4 18.6L281.1 19.0L281.9 18.9L282.6 18.8L283.4 20.0L284.1 20.4L284.9 19.5L285.6 19.3L286.4 19.3L287.1 18.9L287.9 18.2L288.6 17.8L289.4 18.3L290.1 18.7L290.9 18.3L291.6 17.8L292.4 18.0L293.1 18.0L293.9 17.4L294.6 17.1L295.4 17.5L296.1 18.8L296.9 19.2L297.6 18.1L298.4 17.6L299.1 17.7L299.9 17.7L300.6 18.1L301.4 18.3L302.1 18.4L302.9 19.1L303.6 20.0L304.4 20.7L305.1 20.3L305.9 19.1L306.6 17.9L307.4 16.9L308.1 16.6L308.9 17.1L309.6 17.9L310.4 17.9L311.1 17.5L311.9 17.5L312.6 17.6L313.4 17.6L314.1 17.7L314.9 17.4L315.6 17.0L316.4 17.0L317.1 17.0L317.9 16.7L318.6 17.1L319.4 18.1L320.1 18.6L320.9 18.2L321.6 17.3L322.4 17.0L323.1 17.3L323.9 17.1L324.6 17.0L325.4 17.3L326.1 16.8L326.9 16.6L327.6 17.2L328.4 18.6L329.1 24.3L329.9 21.6L330.6 19.1L331.4 18.2L332.1 17.9L332.9 18.2L333.6 18.0L334.4 17.7L335.1 17.9L335.9 17.9L336.6 17.5L337.4 17.4L338.1 17.9L338.9 18.2L339.6 17.7L340.4 18.1L341.1 19.6L341.9 20.1L342.6 19.8L343.4 19.1L344.1 17.9L344.9 17.2L345.6 17.5L346.4 19.2L347.1 21.0L347.9 20.9L348.6 20.1L349.4 20.4L350.1 20.8L350.9 20.5L351.6 19.6L352.4 18.9" stroke="#dc2edc" stroke-width="1.05"/>
<path d="M73.6 135.1L74.3 124.3L75.1 114.2L75.8 104.4L76.6 94.9L77.3 87.9L78.1 82.5L78.8 78.0L79.6 73.7L80.3 69.7L81.1 66.2L81.8 62.4L82.6 58.0L83.3 53.6L84.1 50.0L84.8 47.1L85.6 43.8L86.3 41.0L87.1 39.2L87.8 39.3L88.6 41.7L89.3 43.5L90.1 42.6L90.8 41.2L91.6 41.9L92.3 42.1L93.1 38.8L93.8 35.6L94.6 32.8L95.3 30.2L96.1 28.4L96.8 27.8L97.6 29.4L98.3 32.6L99.1 33.2L99.8 30.9L100.6 29.8L101.3 30.4L102.1 29.3L102.8 26.6L103.6 27.2L104.3 29.3L105.1 32.6L105.8 35.9L106.6 30.4L107.3 27.9L108.1 26.6L108.8 26.5L109.6 27.3L110.3 27.8L111.1 26.8L111.8 25.1L112.6 24.9L113.3 24.3L114.1 23.3L114.8 22.7L115.6 22.9L116.3 22.8L117.1 22.1L117.8 21.6L118.6 21.9L119.3 21.6L120.1 20.8L120.8 20.5L121.6 20.6L122.3 21.6L123.1 23.0L123.8 22.5L124.6 20.8L125.3 20.4L126.1 21.6L126.8 22.0L127.6 21.7L128.3 22.7L129.1 24.7L129.8 24.9L130.6 23.2L131.3 21.8L132.1 21.5L132.8 21.4L133.6 20.6L134.3 19.6L135.1 20.0L135.8 21.6L136.6 22.9L137.3 22.9L138.1 22.0L138.8 21.6L139.6 22.7L140.3 24.2L141.1 24.8L141.8 24.2L142.6 22.4L143.3 21.6L144.1 21.5L144.8 21.0L145.6 20.3L146.3 19.1L147.1 18.1L147.8 18.7L148.6 19.5L149.3 19.8L150.1 19.8L150.8 19.8L151.6 20.7L152.3 22.0L153.1 22.9L153.8 23.0L154.6 23.2L155.3 22.8L156.1 21.9L156.8 22.3L157.6 22.3L158.3 21.5L159.1 21.6L159.8 22.6L160.6 22.6L161.3 21.6L162.1 21.6L162.8 23.1L163.6 23.4L164.3 22.4L165.1 22.2L165.8 22.9L166.6 23.4L167.3 23.6L168.1 23.8L168.8 22.7L169.6 21.0L170.3 20.0L171.1 20.2L171.8 21.0L172.6 20.8L173.3 19.9L174.1 20.2L174.8 21.8L175.6 22.7L176.3 22.4L177.1 21.8L177.8 21.9L178.6 23.1L179.3 23.6L180.1 23.1L180.8 23.0L181.6 23.1L182.3 22.7L183.1 23.1L183.8 23.5L184.6 22.1L185.3 19.8L186.1 18.2L186.8 18.7L187.6 20.4L188.3 21.5L189.1 21.7L189.8 22.1L190.6 21.7L191.3 20.9L192.1 20.5L192.8 20.4L193.6 21.2L194.3 21.0L195.1 19.1L195.8 18.1L196.6 18.4L197.3 19.6L198.1 20.8L198.8 21.2L199.6 20.8L200.3 20.8L201.1 20.9L201.8 21.0L202.6 21.1L203.3 20.9L204.1 20.7L204.8 20.8L205.6 20.1L206.3 18.7L207.1 18.4L207.8 18.3L208.6 17.6L209.3 17.3L210.1 17.9L210.8 18.8L211.6 18.9L212.3 18.4L213.1 18.1L213.8 18.4L214.6 19.6L215.3 20.1L216.1 20.0L216.8 19.4L217.6 19.3L218.3 19.6L219.1 19.2L219.8 18.4L220.6 18.4L221.3 18.9L222.1 19.0L222.8 18.9L223.6 18.9L224.3 19.3L225.1 19.7L225.8 19.5L226.6 19.1L227.3 19.2L228.1 19.8L228.8 20.1L229.6 20.0L230.3 19.0L231.1 18.0L231.8 18.0L232.6 18.3L233.3 18.6L234.1 19.0L234.8 19.6L235.6 19.6L236.3 18.6L237.1 17.8L237.8 18.3L238.6 19.2L239.3 19.3L240.1 19.4L240.8 19.5L241.6 18.6L242.3 18.0L243.1 19.0L243.8 20.6L244.6 21.5L245.3 21.0L246.1 19.7L246.8 18.8L247.6 18.4L248.3 18.5L249.1 18.7L249.8 18.0L250.6 17.0L251.3 16.2L252.1 16.3L252.8 17.4L253.6 18.1L254.3 17.7L255.1 17.1L255.8 16.7L256.6 16.9L257.4 18.0L258.1 20.0L258.9 21.2L259.6 20.8L260.4 19.6L261.1 19.1L261.9 18.9L262.6 18.2L263.4 18.1L264.1 18.7L264.9 18.9L265.6 19.3L266.4 19.3L267.1 19.3L267.9 22.2L268.6 20.8L269.4 20.0L270.1 18.8L270.9 17.4L271.6 16.9L272.4 17.6L273.1 18.9L273.9 19.4L274.6 19.7L275.4 20.0L276.1 19.9L276.9 19.7L277.6 19.5L278.4 18.8L279.1 18.3L279.9 18.7L280.6 18.7L281.4 18.7L282.1 19.8L282.9 20.2L283.6 19.2L284.4 18.7L285.1 19.0L285.9 18.7L286.6 18.1L287.4 18.0L288.1 18.1L288.9 18.1L289.6 17.7L290.4 17.5L291.1 17.6L291.9 18.0L292.6 18.4L293.4 18.3L294.1 17.8L294.9 18.1L295.6 19.1L296.4 20.1L297.1 20.3L297.9 19.9L298.6 20.0L299.4 20.4L300.1 19.9L300.9 18.9L301.6 18.3L302.4 18.8L303.1 19.8L303.9 19.8L304.6 19.3L305.4 19.7L306.1 20.7L306.9 21.2L307.6 21.0L308.4 20.2L309.1 19.1L309.9 18.6L310.6 18.7L311.4 18.8L312.1 18.7L312.9 18.7L313.6 18.9L314.4 19.0L315.1 18.6L315.9 18.8L316.6 19.1L317.4 18.7L318.1 18.6L318.9 18.8L319.6 19.1L320.4 19.2L321.1 18.1L321.9 17.7L322.6 19.1L323.4 19.7L324.1 18.8L324.9 18.7L325.6 19.2L326.4 19.6L327.1 19.9L327.9 19.7L328.6 19.8L329.4 24.7L330.1 23.0L330.9 21.7L331.6 21.2L332.4 20.6L333.1 19.6L333.9 18.1L334.6 17.5L335.4 18.4L336.1 19.4L336.9 19.2L337.6 18.7L338.4 18.7L339.1 19.0L339.9 19.3L340.6 19.9L341.4 20.4L342.1 20.2L342.9 19.8L343.6 20.0L344.4 20.6L345.1 20.3L345.9 19.5L346.6 19.3L347.4 19.2L348.1 18.8L348.9 18.3L349.6 17.2L350.4 16.4L351.1 16.2L351.9 16.6L352.6 17.4" stroke="#c8189a" stroke-width="1.05"/>
</g>
<text x="22.0" y="30.9" font-size="3.3" text-anchor="end" class="tk">0.88</text>
<text x="22.0" y="57.0" font-size="3.3" text-anchor="end" class="tk">0.86</text>
<text x="22.0" y="83.1" font-size="3.3" text-anchor="end" class="tk">0.84</text>
<text x="22.0" y="109.2" font-size="3.3" text-anchor="end" class="tk">0.82</text>
<text x="63.2" y="140.3" font-size="3.3" text-anchor="middle" class="tk">0</text>
<text x="101.8" y="140.3" font-size="3.3" text-anchor="middle" class="tk">20k</text>
<text x="140.4" y="140.3" font-size="3.3" text-anchor="middle" class="tk">40k</text>
<text x="179.0" y="140.3" font-size="3.3" text-anchor="middle" class="tk">60k</text>
<text x="217.6" y="140.3" font-size="3.3" text-anchor="middle" class="tk">80k</text>
<text x="256.2" y="140.3" font-size="3.3" text-anchor="middle" class="tk">100k</text>
<text x="294.8" y="140.3" font-size="3.3" text-anchor="middle" class="tk">120k</text>
<text x="333.4" y="140.3" font-size="3.3" text-anchor="middle" class="tk">140k</text>
<text x="11.5" y="9.0" font-size="5.7" class="ax">Acc.</text>
<text x="198.4" y="145.9" font-size="5.7" text-anchor="middle" class="ax">Steps</text>
<path d="M21.5 153.3h12.3" stroke="#e3e162" stroke-width="1.0" opacity="0.88"/>
<text x="37.0" y="155.0" font-size="5.22" class="lg">patch4_em24_win09</text>
<path d="M21.5 165.7h12.3" stroke="#e8b020" stroke-width="1.0" opacity="0.88"/>
<text x="37.0" y="167.4" font-size="5.22" class="lg">patch4_em24_win18</text>
<path d="M116.8 153.3h12.3" stroke="#2edc4c" stroke-width="1.0" opacity="0.88"/>
<text x="132.3" y="155.0" font-size="5.22" class="lg">patch4_em96_win09</text>
<path d="M116.8 165.7h12.3" stroke="#55b45a" stroke-width="1.0" opacity="0.88"/>
<text x="132.3" y="167.4" font-size="5.22" class="lg">patch4_em96_win18</text>
<path d="M212.2 153.3h12.3" stroke="#55b2dc" stroke-width="1.0" opacity="0.88"/>
<text x="227.7" y="155.0" font-size="5.22" class="lg">patch2_em24_win09</text>
<path d="M212.2 165.7h12.3" stroke="#4a38d0" stroke-width="1.0" opacity="0.88"/>
<text x="227.7" y="167.4" font-size="5.22" class="lg">patch2_em24_win18</text>
<path d="M307.5 153.3h12.3" stroke="#dc2edc" stroke-width="1.0" opacity="0.88"/>
<text x="323.0" y="155.0" font-size="5.22" class="lg">patch2_em96_win09</text>
<path d="M307.5 165.7h12.3" stroke="#c8189a" stroke-width="1.0" opacity="0.88"/>
<text x="323.0" y="167.4" font-size="5.22" class="lg">patch2_em96_win18</text>
<text x="192.8" y="181.3" font-size="9.6" text-anchor="middle" class="cp">(a)</text>
</g>
<g>
<path d="M25.5 187.3H373.6V319.4" fill="none" stroke="#ececec" stroke-width="0.7"/>
<path d="M25.5 211.3H376.1" stroke="#e0e0e0" stroke-width="0.7"/>
<path d="M25.5 235.1H376.1" stroke="#e0e0e0" stroke-width="0.7"/>
<path d="M25.5 259.2H376.1" stroke="#e0e0e0" stroke-width="0.7"/>
<path d="M25.5 283.2H376.1" stroke="#e0e0e0" stroke-width="0.7"/>
<path d="M25.5 307.2H376.1" stroke="#e0e0e0" stroke-width="0.7"/>
<path d="M64.3 187.3V319.4" stroke="#c6c6c6" stroke-width="0.9"/>
<path d="M103.0 187.3V319.4" stroke="#e0e0e0" stroke-width="0.7"/>
<path d="M141.7 187.3V319.4" stroke="#e0e0e0" stroke-width="0.7"/>
<path d="M180.4 187.3V319.4" stroke="#e0e0e0" stroke-width="0.7"/>
<path d="M219.1 187.3V319.4" stroke="#e0e0e0" stroke-width="0.7"/>
<path d="M257.8 187.3V319.4" stroke="#e0e0e0" stroke-width="0.7"/>
<path d="M296.5 187.3V319.4" stroke="#e0e0e0" stroke-width="0.7"/>
<path d="M335.2 187.3V319.4" stroke="#e0e0e0" stroke-width="0.7"/>
<path d="M25.5 187.3V319.4H374.6" fill="none" stroke="#d2d2d2" stroke-width="0.75"/>
<clipPath id="clip2"><rect x="25.5" y="187.3" width="348.1" height="132.39999999999998"/></clipPath>
<g clip-path="url(#clip2)" fill="none" stroke-linejoin="round" stroke-linecap="round">
<path d="M78.9 321.7L81.6 302.4L82.3 299.3L83.1 296.2L83.8 292.7L84.6 289.8L85.3 289.2L86.1 287.8L86.8 283.5L87.6 283.2L88.3 281.1L89.1 282.3L89.8 286.3L90.6 280.7L91.3 277.6L92.1 274.8L92.8 272.3L93.6 271.6L94.3 271.7L95.1 269.3L95.8 267.1L96.6 266.8L97.3 264.5L98.1 264.2L98.8 262.6L99.6 256.7L100.3 256.6L101.1 259.4L101.8 263.2L102.6 260.5L103.3 256.1L104.1 256.5L104.8 259.7L105.6 257.4L106.3 254.6L107.1 254.9L107.8 254.4L108.6 253.7L109.3 255.1L110.1 253.7L110.8 252.1L111.6 252.1L112.3 248.4L113.1 247.3L113.8 247.8L114.6 247.8L115.3 246.5L116.1 246.5L116.8 245.5L117.6 246.8L118.3 248.7L119.1 246.0L119.8 245.9L120.6 243.8L121.3 244.0L122.1 246.0L122.8 246.4L123.6 244.0L124.3 245.8L125.1 245.2L125.8 242.6L126.6 242.3L127.3 240.0L128.1 240.8L128.8 241.8L129.6 241.2L130.3 237.9L131.1 239.2L131.8 238.8L132.6 238.6L133.3 239.6L134.1 239.7L134.8 239.0L135.6 240.8L136.3 238.5L137.1 237.5L137.8 234.8L138.6 233.9L139.3 236.9L140.1 239.9L140.8 241.5L141.6 242.8L142.3 240.0L143.1 240.9L143.8 240.0L144.6 235.9L145.3 236.7L146.1 238.4L146.8 237.4L147.6 234.7L148.3 234.3L149.1 235.6L149.8 236.1L150.6 236.0L151.3 236.2L152.1 236.6L152.8 236.9L153.6 235.9L154.3 235.7L155.1 236.3L155.8 236.8L156.6 236.9L157.3 236.6L158.1 234.5L158.8 233.6L159.6 233.9L160.3 233.5L161.1 233.1L161.8 234.5L162.6 234.8L163.3 233.3L164.1 233.3L164.8 237.8L165.6 235.9L166.3 235.2L167.1 234.1L167.8 235.1L168.6 232.6L169.3 232.8L170.1 234.6L170.8 235.7L171.6 235.5L172.3 234.3L173.1 233.1L173.8 235.5L174.6 235.5L175.3 234.7L176.1 235.0L176.8 234.4L177.6 235.0L178.3 237.2L179.1 236.0L179.8 232.1L180.6 231.8L181.3 234.4L182.1 234.3L182.8 234.5L183.6 236.0L184.3 235.2L185.1 235.3L185.8 236.8L186.6 236.8L187.3 235.6L188.1 235.9L188.8 235.9L189.6 233.9L190.3 234.8L191.1 235.1L191.8 233.4L192.6 232.8L193.3 233.9L194.1 234.2L194.8 234.4L195.6 233.8L196.3 233.5L197.1 234.3L197.8 235.2L198.6 234.6L199.3 234.7L200.1 234.1L200.8 235.0L201.6 234.7L202.3 233.4L203.1 233.3L203.8 234.9L204.6 235.8L205.3 236.3L206.1 234.3L206.8 233.4L207.6 235.6L208.3 236.0L209.1 236.7L209.8 235.8L210.6 234.7L211.3 234.1L212.1 232.8L212.8 233.1L213.6 235.1L214.3 235.9L215.1 234.7L215.8 234.7L216.6 235.0L217.3 235.4L218.1 235.0L218.8 236.0L219.6 235.5L220.3 234.4L221.1 235.7L221.8 237.3L222.6 237.4L223.3 238.7L224.1 238.3L224.8 236.9L225.6 236.6L226.3 236.4L227.1 238.8L227.8 237.9L228.6 237.1L229.3 238.0L230.1 237.1L230.8 237.3L231.6 235.9L232.3 236.2L233.1 236.9L233.8 238.4L234.6 239.2L235.3 237.7L236.1 236.9L236.8 236.5L237.6 237.0L238.3 236.4L239.1 236.5L239.8 237.2L240.6 237.7L241.3 237.3L242.1 237.5L242.8 237.0L243.6 238.6L244.3 236.9L245.1 237.3L245.8 238.2L246.6 236.4L247.3 237.5L248.1 238.8L248.8 238.1L249.6 237.0L250.3 236.8L251.1 238.1L251.8 237.8L252.6 237.7L253.3 237.6L254.1 238.5L254.8 238.2L255.6 237.3L256.4 237.5L257.1 238.5L257.9 239.3L258.6 239.2L259.4 238.8L260.1 237.7L260.9 238.2L261.6 239.6L262.4 239.0L263.1 236.8L263.9 235.9L264.6 236.4L265.4 237.8L266.1 238.6L266.9 237.2L267.6 236.6L268.4 236.0L269.1 235.8L269.9 236.9L270.6 236.9L271.4 237.0L272.1 237.2L272.9 238.1L273.6 237.6L274.4 236.6L275.1 236.4L275.9 237.7L276.6 238.4L277.4 238.6L278.1 240.5L278.9 239.3L279.6 238.7L280.4 239.3L281.1 238.4L281.9 238.1L282.6 239.1L283.4 239.3L284.1 238.7L284.9 240.7L285.6 238.6L286.4 238.3L287.1 239.0L287.9 238.5L288.6 238.5L289.4 238.7L290.1 240.7L290.9 236.5L291.6 238.9L292.4 240.3L293.1 239.4L293.9 239.2L294.6 238.6L295.4 239.0L296.1 238.6L296.9 239.5L297.6 240.2L298.4 239.1L299.1 239.6L299.9 240.7L300.6 240.7L301.4 239.3L302.1 240.2L302.9 239.9L303.6 238.4L304.4 238.9L305.1 239.9L305.9 240.3L306.6 241.6L307.4 241.5L308.1 241.0L308.9 240.6L309.6 241.2L310.4 241.1L311.1 240.3L311.9 240.1L312.6 240.6L313.4 240.1L314.1 239.5L314.9 239.8L315.6 240.7L316.4 240.6L317.1 241.6L317.9 241.1L318.6 240.5L319.4 240.4L320.1 240.7L320.9 240.5L321.6 240.7L322.4 240.1L323.1 240.2L323.9 241.2L324.6 240.3L325.4 239.8L326.1 239.1L326.9 239.4L327.6 240.4L328.4 239.9L329.1 239.8L329.9 239.8L330.6 239.5L331.4 240.0L332.1 241.0L332.9 241.7L333.6 241.6L334.4 239.6L335.1 239.8L335.9 241.2L336.6 241.2L337.4 241.1L338.1 240.9L338.9 240.5L339.6 239.9L340.4 239.4L341.1 238.7L341.9 239.6L342.6 239.7L343.4 239.9L344.1 240.6L344.9 239.4L345.6 239.4L346.4 240.0L347.1 239.7L347.9 239.4L348.6 239.5L349.4 240.1L350.1 240.6L350.9 241.0L351.6 241.6L352.4 241.9L353.1 241.0L353.9 240.0L354.6 239.7" stroke="#e3e162" stroke-width="0.75" opacity="0.3"/>
<path d="M80.9 321.7L83.6 304.4L84.3 299.5L85.1 295.2L85.8 291.9L86.6 291.8L87.3 289.5L88.1 288.0L88.8 283.8L89.6 281.8L90.3 281.8L91.1 284.6L91.8 283.7L92.6 282.2L93.3 276.3L94.1 272.7L94.8 273.8L95.6 271.6L96.3 270.3L97.1 268.7L97.8 267.0L98.6 265.9L99.3 263.6L100.1 262.1L100.8 259.2L101.6 258.3L102.3 258.7L103.1 256.7L103.8 258.4L104.6 258.7L105.3 258.1L106.1 256.9L106.8 256.3L107.6 257.3L108.3 256.9L109.1 257.5L109.8 256.5L110.6 259.5L111.3 253.8L112.1 254.3L112.8 253.8L113.6 253.3L114.3 251.9L115.1 247.5L115.8 244.1L116.6 248.9L117.3 250.5L118.1 250.1L118.8 248.9L119.6 248.1L120.3 246.2L121.1 246.0L121.8 245.3L122.6 242.5L123.3 244.4L124.1 247.7L124.8 240.8L125.6 242.3L126.3 241.7L127.1 239.2L127.8 240.8L128.6 242.0L129.3 243.1L130.1 242.0L130.8 240.8L131.6 240.7L132.3 241.8L133.1 242.1L133.8 242.9L134.6 243.5L135.3 243.2L136.1 242.7L136.8 241.2L137.6 239.7L138.3 239.9L139.1 238.6L139.8 237.1L140.6 239.3L141.3 239.6L142.1 240.7L142.8 241.2L143.6 241.3L144.3 240.1L145.1 240.1L145.8 239.8L146.6 239.8L147.3 238.8L148.1 239.0L148.8 237.8L149.6 238.8L150.3 241.9L151.1 237.9L151.8 235.7L152.6 235.8L153.3 237.5L154.1 237.0L154.8 234.8L155.6 236.3L156.3 236.1L157.1 235.8L157.8 236.4L158.6 236.7L159.3 236.3L160.1 236.0L160.8 233.9L161.6 236.5L162.3 236.8L163.1 234.5L163.8 233.8L164.6 232.5L165.3 231.2L166.1 233.0L166.8 232.7L167.6 231.2L168.3 232.1L169.1 234.2L169.8 236.3L170.6 235.2L171.3 234.0L172.1 233.0L172.8 233.6L173.6 235.7L174.3 236.3L175.1 235.6L175.8 236.2L176.6 235.5L177.3 236.2L178.1 238.8L178.8 239.2L179.6 238.2L180.3 237.4L181.1 236.4L181.8 234.6L182.6 234.0L183.3 233.2L184.1 235.2L184.8 236.9L185.6 238.1L186.3 237.9L187.1 236.8L187.8 233.8L188.6 234.2L189.3 235.3L190.1 235.4L190.8 235.8L191.6 235.6L192.3 236.6L193.1 237.1L193.8 236.7L194.6 236.4L195.3 236.0L196.1 234.9L196.8 234.8L197.6 233.7L198.3 235.0L199.1 235.3L199.8 234.3L200.6 233.6L201.3 232.0L202.1 231.8L202.8 232.9L203.6 235.3L204.3 236.3L205.1 236.4L205.8 236.7L206.6 235.3L207.3 233.5L208.1 235.5L208.8 235.4L209.6 234.2L210.3 235.2L211.1 236.5L211.8 238.7L212.6 239.0L213.3 240.1L214.1 240.6L214.8 241.3L215.6 241.7L216.3 242.6L217.1 239.8L217.8 240.8L218.6 239.5L219.3 239.7L220.1 241.2L220.8 242.5L221.6 243.0L222.3 241.9L223.1 241.0L223.8 240.4L224.6 239.8L225.3 238.8L226.1 239.3L226.8 239.3L227.6 238.1L228.3 238.1L229.1 238.8L229.8 238.7L230.6 238.6L231.3 238.1L232.1 238.6L232.8 239.7L233.6 238.7L234.3 237.8L235.1 236.7L235.8 237.3L236.6 237.4L237.3 238.6L238.1 239.2L238.8 240.2L239.6 239.4L240.3 239.1L241.1 238.3L241.8 238.0L242.6 237.7L243.3 237.1L244.1 237.6L244.8 238.5L245.6 239.7L246.3 239.7L247.1 240.0L247.8 240.4L248.6 239.4L249.3 239.2L250.1 239.1L250.8 238.5L251.6 237.9L252.3 238.3L253.1 237.1L253.8 236.6L254.6 237.4L255.3 237.7L256.1 237.9L256.9 238.6L257.6 238.7L258.4 237.8L259.1 238.3L259.9 238.0L260.6 238.9L261.4 239.6L262.1 241.2L262.9 242.9L263.6 243.0L264.4 243.4L265.1 243.3L265.9 244.5L266.6 245.8L267.4 244.1L268.1 244.0L268.9 244.2L269.6 245.1L270.4 245.2L271.1 243.9L271.9 243.4L272.6 243.4L273.4 243.6L274.1 243.2L274.9 242.6L275.6 242.2L276.4 242.2L277.1 241.3L277.9 242.0L278.6 243.1L279.4 243.5L280.1 243.1L280.9 242.4L281.6 243.3L282.4 241.5L283.1 242.3L283.9 243.0L284.6 243.9L285.4 242.4L286.1 240.4L286.9 240.7L287.6 241.6L288.4 241.5L289.1 242.3L289.9 241.7L290.6 242.1L291.4 242.2L292.1 242.0L292.9 241.2L293.6 241.4L294.4 241.9L295.1 240.4L295.9 240.4L296.6 241.3L297.4 241.9L298.1 243.2L298.9 241.7L299.6 241.8L300.4 242.6L301.1 243.1L301.9 243.5L302.6 242.9L303.4 242.4L304.1 241.2L304.9 241.6L305.6 242.5L306.4 243.2L307.1 242.6L307.9 241.5L308.6 242.4L309.4 243.0L310.1 243.0L310.9 242.9L311.6 242.0L312.4 241.6L313.1 242.3L313.9 242.8L314.6 242.4L315.4 242.7L316.1 242.9L316.9 243.1L317.6 243.2L318.4 243.3L319.1 243.4L319.9 242.6L320.6 242.1L321.4 242.7L322.1 240.9L322.9 240.8L323.6 242.9L324.4 244.2L325.1 243.6L325.9 243.6L326.6 243.0L327.4 242.7L328.1 243.3L328.9 243.8L329.6 243.0L330.4 242.5L331.1 243.8L331.9 243.4L332.6 242.3L333.4 241.1L334.1 240.9L334.9 242.2L335.6 243.3L336.4 244.3L337.1 243.3L337.9 242.3L338.6 243.0L339.4 242.5L340.1 243.3L340.9 244.2L341.6 243.5L342.4 242.4L343.1 243.0L343.9 242.1L344.6 242.0L345.4 242.4L346.1 241.8L346.9 242.3L347.6 243.4L348.4 242.2L349.1 243.3L349.9 243.6L350.6 243.3L351.4 243.9L352.1 244.1L352.9 242.7L353.6 242.8L354.4 243.2" stroke="#e8b020" stroke-width="0.75" opacity="0.3"/>
<path d="M75.0 321.7L77.7 298.4L78.5 293.4L79.2 287.6L80.0 284.1L80.7 279.0L81.5 273.5L82.2 270.2L83.0 267.2L83.7 266.0L84.5 264.4L85.2 262.7L86.0 261.4L86.7 257.5L87.5 256.0L88.2 253.1L89.0 251.1L89.7 249.9L90.5 248.5L91.2 245.8L92.0 244.6L92.7 243.3L93.5 242.0L94.2 239.9L95.0 238.0L95.7 239.9L96.5 239.0L97.2 237.6L98.0 234.7L98.7 233.7L99.5 233.7L100.2 232.4L101.0 232.4L101.7 232.7L102.5 231.9L103.2 229.7L104.0 224.9L104.7 224.7L105.5 227.8L106.2 230.7L107.0 231.8L107.7 232.2L108.5 232.9L109.2 228.8L110.0 229.2L110.7 231.3L111.5 234.8L112.2 232.6L113.0 226.8L113.7 224.1L114.5 225.5L115.2 226.4L116.0 226.7L116.7 227.9L117.5 226.0L118.2 227.0L119.0 225.1L119.7 222.8L120.5 223.5L121.2 225.2L122.0 225.0L122.7 222.6L123.5 223.9L124.2 225.5L125.0 228.3L125.7 224.2L126.5 222.3L127.2 224.0L128.0 224.7L128.7 222.3L129.4 220.8L130.2 223.0L130.9 224.4L131.7 224.3L132.4 222.2L133.2 222.8L133.9 226.0L134.7 225.5L135.4 223.1L136.2 225.7L136.9 224.7L137.7 222.7L138.4 222.8L139.2 223.4L139.9 224.7L140.7 223.2L141.4 222.3L142.2 226.0L142.9 228.9L143.7 227.0L144.4 226.5L145.2 225.4L145.9 223.3L146.7 224.4L147.4 224.7L148.2 224.9L148.9 226.0L149.7 224.2L150.4 221.8L151.2 222.1L151.9 220.4L152.7 221.7L153.4 223.0L154.2 222.8L154.9 222.2L155.7 224.8L156.4 226.8L157.2 226.5L157.9 226.3L158.7 226.3L159.4 224.0L160.2 224.3L160.9 222.7L161.7 222.8L162.4 223.8L163.2 225.0L163.9 225.5L164.7 226.4L165.4 224.4L166.2 224.1L166.9 224.2L167.7 223.9L168.4 223.9L169.2 224.2L169.9 225.0L170.7 224.3L171.4 223.2L172.2 223.4L172.9 222.6L173.7 222.8L174.4 225.9L175.2 223.8L175.9 224.2L176.7 222.6L177.4 222.2L178.2 222.7L178.9 222.4L179.7 223.0L180.4 222.3L181.2 223.0L181.9 223.1L182.7 222.9L183.4 224.4L184.2 225.0L184.9 223.0L185.7 223.4L186.4 225.1L187.2 224.5L187.9 224.6L188.7 226.5L189.4 227.4L190.2 225.7L190.9 226.1L191.7 226.7L192.4 225.7L193.2 226.6L193.9 226.3L194.7 226.0L195.4 226.2L196.2 225.9L196.9 226.9L197.7 224.2L198.4 225.8L199.2 223.0L199.9 224.0L200.7 224.0L201.4 224.5L202.2 225.3L202.9 224.8L203.7 224.5L204.4 224.1L205.2 223.9L205.9 224.7L206.7 224.3L207.4 225.9L208.2 226.0L208.9 226.5L209.7 227.0L210.4 225.6L211.2 223.8L211.9 223.8L212.7 224.8L213.4 224.2L214.2 222.5L214.9 223.1L215.7 222.6L216.4 223.2L217.2 223.4L217.9 223.9L218.7 223.4L219.4 224.9L220.2 227.1L220.9 232.5L221.7 231.3L222.4 225.9L223.2 222.7L223.9 221.9L224.7 223.0L225.4 223.9L226.2 223.6L226.9 222.5L227.7 226.2L228.4 224.3L229.2 224.3L229.9 224.6L230.7 224.5L231.4 224.2L232.2 222.2L232.9 222.4L233.7 223.9L234.4 224.3L235.2 224.1L235.9 224.8L236.7 225.5L237.4 224.2L238.2 223.6L238.9 224.1L239.7 224.0L240.4 223.5L241.2 224.1L241.9 224.4L242.7 223.7L243.4 224.1L244.2 223.4L244.9 223.8L245.7 225.8L246.4 224.7L247.2 223.6L247.9 221.9L248.7 221.5L249.4 221.9L250.2 223.2L250.9 224.0L251.7 223.8L252.4 224.5L253.2 224.4L253.9 223.5L254.7 222.2L255.4 221.0L256.2 222.3L256.9 223.4L257.7 222.3L258.4 222.4L259.2 226.8L259.9 229.0L260.7 225.9L261.4 223.0L262.2 223.6L262.9 224.3L263.7 224.2L264.4 223.3L265.2 223.8L265.9 222.2L266.7 222.9L267.4 222.7L268.2 222.3L268.9 223.4L269.7 223.1L270.4 223.7L271.2 224.0L271.9 223.9L272.7 223.3L273.4 221.8L274.2 222.4L274.9 223.1L275.7 222.7L276.4 224.1L277.2 224.5L277.9 224.8L278.7 224.6L279.4 224.6L280.2 223.8L280.9 226.5L281.7 229.9L282.4 227.9L283.2 226.1L283.9 224.4L284.7 223.0L285.4 223.0L286.2 224.0L286.9 223.7L287.7 222.1L288.4 223.0L289.2 222.9L289.9 222.3L290.7 221.9L291.4 224.0L292.2 224.9L292.9 224.6L293.7 224.1L294.4 223.4L295.2 223.5L295.9 223.1L296.7 223.6L297.4 224.1L298.2 224.1L298.9 225.8L299.7 222.2L300.4 221.7L301.2 223.0L301.9 222.5L302.7 222.3L303.4 223.3L304.2 223.3L304.9 222.1L305.7 222.7L306.4 224.0L307.2 224.5L307.9 223.7L308.7 224.4L309.4 223.7L310.2 222.5L310.9 221.7L311.7 222.4L312.4 223.0L313.2 223.5L313.9 222.9L314.7 223.3L315.4 224.3L316.2 224.5L316.9 221.2L317.7 220.6L318.4 221.9L319.2 223.1L319.9 223.1L320.7 220.9L321.4 221.4L322.2 222.5L322.9 222.3L323.7 222.7L324.4 223.1L325.2 223.6L325.9 222.6L326.7 222.4L327.4 222.6L328.2 222.3L328.9 224.0L329.7 222.5L330.4 225.6L331.2 229.5L331.9 227.5L332.7 223.3L333.4 222.0L334.2 222.7L334.9 222.6L335.7 222.2L336.4 222.7L337.2 223.0L337.9 223.6L338.7 222.9L339.4 221.7L340.2 222.4L340.9 223.5L341.7 223.0L342.4 223.5L343.2 223.5L343.9 221.8L344.7 222.0L345.4 226.0L346.2 234.3L346.9 239.5L347.7 231.8L348.4 223.9L349.2 221.9L349.9 223.5L350.7 225.1L351.4 224.5L352.2 224.1L352.9 222.4L353.7 223.7L354.4 223.7" stroke="#2edc4c" stroke-width="0.75" opacity="0.3"/>
<path d="M75.6 321.7L78.3 296.9L79.0 291.0L79.8 285.5L80.5 280.8L81.3 277.9L82.0 273.1L82.8 270.0L83.5 267.7L84.3 264.3L85.0 262.1L85.8 263.6L86.5 264.4L87.3 260.8L88.0 255.9L88.8 253.2L89.5 249.6L90.3 247.5L91.0 245.3L91.8 244.5L92.5 244.5L93.3 242.4L94.0 239.7L94.8 236.5L95.5 236.9L96.3 237.4L97.0 237.3L97.8 238.2L98.5 237.8L99.3 236.0L100.0 231.8L100.8 229.6L101.5 230.6L102.3 229.8L103.0 229.9L103.8 230.2L104.5 230.3L105.3 229.1L106.0 232.9L106.8 226.6L107.5 228.3L108.3 230.9L109.0 230.0L109.8 228.8L110.5 228.9L111.3 228.6L112.0 229.8L112.8 227.3L113.5 227.6L114.3 228.3L115.0 229.4L115.8 226.7L116.5 225.3L117.3 226.1L118.0 226.3L118.8 223.6L119.5 220.9L120.3 222.9L121.0 225.3L121.8 228.6L122.5 224.1L123.3 221.9L124.0 225.7L124.8 225.9L125.5 225.5L126.3 224.0L127.0 221.7L127.8 224.2L128.6 225.5L129.3 222.2L130.1 223.4L130.8 225.5L131.6 225.4L132.3 225.0L133.1 224.5L133.8 223.8L134.6 222.0L135.3 221.1L136.1 221.7L136.8 222.6L137.6 224.6L138.3 226.9L139.1 224.7L139.8 222.0L140.6 222.4L141.3 223.4L142.1 222.6L142.8 224.0L143.6 226.7L144.3 225.9L145.1 225.8L145.8 227.0L146.6 227.8L147.3 223.5L148.1 223.2L148.8 225.8L149.6 224.9L150.3 222.0L151.1 221.8L151.8 223.4L152.6 223.8L153.3 225.8L154.1 227.0L154.8 224.7L155.6 223.2L156.3 227.6L157.1 223.7L157.8 222.6L158.6 223.2L159.3 222.4L160.1 225.0L160.8 226.4L161.6 227.8L162.3 226.7L163.1 225.4L163.8 225.4L164.6 226.2L165.3 226.1L166.1 225.7L166.8 225.5L167.6 223.7L168.3 223.0L169.1 221.4L169.8 224.1L170.6 223.7L171.3 222.3L172.1 222.7L172.8 224.1L173.6 225.0L174.3 225.3L175.1 225.1L175.8 224.7L176.6 222.8L177.3 222.0L178.1 221.9L178.8 221.4L179.6 221.8L180.3 222.2L181.1 224.7L181.8 227.0L182.6 225.8L183.3 223.1L184.1 222.8L184.8 223.0L185.6 224.0L186.3 224.8L187.1 224.6L187.8 224.2L188.6 222.1L189.3 222.1L190.1 221.8L190.8 221.0L191.6 221.4L192.3 222.6L193.1 223.9L193.8 223.5L194.6 222.5L195.3 223.2L196.1 222.9L196.8 221.2L197.6 221.3L198.3 221.2L199.1 222.0L199.8 223.1L200.6 223.2L201.3 223.2L202.1 223.7L202.8 222.9L203.6 225.8L204.3 224.7L205.1 224.4L205.8 223.7L206.6 224.5L207.3 226.4L208.1 224.9L208.8 223.8L209.6 225.2L210.3 223.5L211.1 223.6L211.8 222.5L212.6 221.4L213.3 222.4L214.1 223.5L214.8 223.3L215.6 222.9L216.3 222.2L217.1 222.3L217.8 223.9L218.6 225.2L219.3 224.9L220.1 223.4L220.8 224.7L221.6 224.2L222.3 220.8L223.1 222.9L223.8 222.8L224.6 223.7L225.3 224.9L226.1 224.1L226.8 222.1L227.6 223.1L228.3 220.7L229.1 220.6L229.8 222.7L230.6 223.1L231.3 223.3L232.1 222.1L232.8 222.8L233.6 223.6L234.3 223.0L235.1 224.6L235.8 222.0L236.6 221.2L237.3 222.0L238.1 221.9L238.8 220.1L239.6 220.5L240.3 222.6L241.1 222.6L241.8 222.9L242.6 223.0L243.3 224.4L244.1 223.6L244.8 221.7L245.6 220.4L246.3 221.2L247.1 223.0L247.8 224.5L248.6 222.2L249.3 221.9L250.1 220.6L250.8 222.3L251.6 223.6L252.3 223.4L253.1 222.7L253.8 222.1L254.6 221.6L255.3 219.8L256.1 220.5L256.8 222.6L257.6 223.5L258.3 222.5L259.1 221.8L259.8 221.8L260.6 222.3L261.3 223.2L262.1 223.4L262.8 222.9L263.6 223.0L264.3 223.4L265.1 222.0L265.8 222.3L266.6 223.0L267.3 223.5L268.1 223.0L268.8 222.9L269.6 222.9L270.3 223.2L271.1 222.3L271.8 222.2L272.6 223.4L273.3 224.6L274.1 221.2L274.8 220.9L275.6 222.0L276.3 222.1L277.1 222.0L277.8 220.9L278.6 221.9L279.3 223.1L280.1 223.3L280.8 223.6L281.6 221.8L282.3 221.7L283.1 222.6L283.8 221.3L284.6 222.0L285.3 222.3L286.1 221.9L286.8 222.1L287.6 222.0L288.3 221.1L289.1 222.2L289.8 222.6L290.6 221.9L291.3 222.2L292.1 222.9L292.8 222.2L293.6 221.6L294.3 222.6L295.1 223.0L295.8 221.8L296.6 221.5L297.3 221.6L298.1 221.6L298.8 222.0L299.6 222.8L300.3 222.8L301.1 222.1L301.8 222.1L302.6 221.6L303.3 221.4L304.1 220.2L304.8 220.3L305.6 220.8L306.3 220.9L307.1 222.9L307.8 222.5L308.6 221.7L309.3 221.8L310.1 221.1L310.8 221.3L311.6 222.5L312.3 222.2L313.1 221.6L313.8 220.9L314.6 221.1L315.3 221.6L316.1 221.7L316.8 221.9L317.6 222.1L318.3 222.0L319.1 220.9L319.8 222.3L320.6 222.8L321.3 222.4L322.1 221.7L322.8 221.5L323.6 221.3L324.3 221.7L325.1 220.8L325.8 220.8L326.6 220.5L327.3 221.2L328.1 222.0L328.8 221.0L329.6 221.3L330.3 223.0L331.1 225.1L331.8 222.7L332.6 219.2L333.3 218.9L334.1 220.4L334.8 220.4L335.6 221.4L336.3 221.6L337.1 220.2L337.8 220.5L338.6 222.2L339.3 221.0L340.1 223.3L340.8 221.4L341.6 220.8L342.3 219.4L343.1 220.8L343.8 219.8L344.6 219.4L345.3 220.5L346.1 223.2L346.8 226.4L347.6 225.2L348.3 223.2L349.1 221.9L349.8 221.1L350.6 221.2L351.3 221.8L352.1 220.9L352.8 221.4L353.6 221.0L354.3 220.7" stroke="#55b45a" stroke-width="0.75" opacity="0.3"/>
<path d="M73.2 321.7L75.9 293.6L76.7 289.2L77.4 285.0L78.2 280.2L78.9 276.9L79.7 271.6L80.4 267.9L81.2 265.6L81.9 263.2L82.7 264.3L83.4 261.0L84.2 259.2L84.9 259.6L85.7 257.6L86.4 253.5L87.2 251.7L87.9 249.8L88.7 248.1L89.4 248.5L90.2 242.8L90.9 241.7L91.7 241.5L92.4 240.5L93.2 239.0L93.9 237.4L94.7 236.2L95.4 235.5L96.2 234.7L96.9 234.5L97.7 232.8L98.4 232.6L99.2 232.3L99.9 229.4L100.7 228.7L101.4 226.9L102.2 225.5L102.9 222.0L103.7 221.8L104.4 223.7L105.2 222.6L105.9 222.0L106.7 222.7L107.4 224.4L108.2 221.5L108.9 219.9L109.7 223.2L110.4 221.9L111.2 222.4L111.9 222.5L112.7 222.0L113.4 218.2L114.2 216.7L114.9 220.5L115.7 219.8L116.4 221.7L117.2 219.8L117.9 219.1L118.7 220.7L119.4 224.0L120.2 219.4L120.9 221.1L121.7 216.5L122.4 215.6L123.2 217.3L123.9 215.8L124.7 215.2L125.4 214.2L126.2 213.0L126.9 212.8L127.7 215.1L128.4 214.5L129.2 211.2L129.9 210.0L130.7 212.9L131.4 214.5L132.2 215.2L132.9 214.4L133.7 211.2L134.4 210.1L135.2 209.8L135.9 212.0L136.7 213.5L137.4 213.4L138.2 214.1L138.9 211.5L139.7 213.0L140.4 213.5L141.2 212.5L141.9 212.2L142.7 211.4L143.4 212.8L144.2 213.6L144.9 215.0L145.7 215.1L146.4 213.4L147.2 213.9L147.9 212.0L148.7 212.1L149.4 212.7L150.2 213.8L150.9 215.2L151.7 214.7L152.4 214.0L153.2 215.7L153.9 217.0L154.7 217.2L155.4 215.7L156.2 215.1L156.9 213.0L157.7 212.8L158.4 212.4L159.2 211.6L159.9 210.9L160.7 210.2L161.4 209.6L162.2 209.6L162.9 209.0L163.7 211.1L164.4 213.7L165.2 211.9L165.9 212.2L166.7 211.1L167.4 210.8L168.2 210.1L168.9 209.3L169.7 209.9L170.4 211.3L171.2 211.5L171.9 210.4L172.7 210.7L173.4 212.6L174.2 211.7L174.9 210.6L175.7 209.8L176.4 211.2L177.2 211.5L177.9 212.0L178.7 212.6L179.4 211.5L180.2 209.9L180.9 209.5L181.7 207.8L182.4 208.6L183.2 207.4L183.9 208.8L184.7 209.5L185.4 210.7L186.2 211.3L186.9 210.6L187.7 209.9L188.4 208.1L189.2 208.5L189.9 211.4L190.7 208.6L191.4 209.7L192.2 210.5L192.9 209.3L193.7 208.2L194.4 209.3L195.2 209.1L195.9 209.8L196.7 209.5L197.4 210.8L198.2 209.3L198.9 209.9L199.7 208.9L200.4 210.0L201.2 210.8L201.9 210.5L202.7 211.3L203.4 210.9L204.2 209.4L204.9 208.2L205.7 209.6L206.4 210.6L207.2 211.5L207.9 210.4L208.7 209.0L209.4 210.2L210.2 210.3L210.9 210.9L211.7 210.3L212.4 209.0L213.2 209.5L213.9 208.1L214.7 208.3L215.4 210.2L216.2 211.8L216.9 212.0L217.7 210.6L218.4 210.5L219.2 211.0L219.9 211.2L220.7 211.4L221.4 212.2L222.2 211.7L222.9 211.4L223.7 211.7L224.4 211.9L225.2 211.6L225.9 212.7L226.7 214.5L227.4 214.4L228.2 211.4L228.9 211.3L229.7 211.8L230.4 212.1L231.2 211.4L231.9 213.4L232.7 214.3L233.4 213.9L234.2 213.2L234.9 213.8L235.7 214.1L236.4 213.1L237.2 211.5L237.9 211.7L238.7 212.7L239.4 212.4L240.2 211.4L240.9 210.9L241.7 210.9L242.4 212.2L243.2 214.9L243.9 214.3L244.7 213.0L245.4 212.6L246.2 213.2L246.9 213.0L247.7 212.8L248.4 212.8L249.2 213.2L249.9 213.1L250.7 212.8L251.4 213.0L252.2 213.5L252.9 213.4L253.7 215.1L254.4 216.1L255.2 213.4L255.9 212.3L256.6 212.8L257.4 213.0L258.1 214.1L258.9 215.5L259.6 215.5L260.4 215.7L261.1 215.1L261.9 216.6L262.6 215.2L263.4 214.5L264.1 216.9L264.9 214.7L265.6 214.5L266.4 214.1L267.1 213.0L267.9 212.9L268.6 214.0L269.4 213.4L270.1 212.5L270.9 213.2L271.6 215.0L272.4 216.1L273.1 215.0L273.9 216.2L274.6 216.8L275.4 216.0L276.1 215.2L276.9 215.0L277.6 214.9L278.4 215.0L279.1 214.1L279.9 214.8L280.6 215.3L281.4 215.1L282.1 213.6L282.9 214.0L283.6 214.7L284.4 214.2L285.1 215.5L285.9 213.3L286.6 214.4L287.4 214.7L288.1 214.3L288.9 213.5L289.6 213.6L290.4 214.0L291.1 214.2L291.9 214.2L292.6 213.8L293.4 213.5L294.1 212.8L294.9 214.4L295.6 214.9L296.4 213.9L297.1 213.6L297.9 213.9L298.6 215.1L299.4 215.6L300.1 214.0L300.9 214.5L301.6 215.3L302.4 214.0L303.1 214.7L303.9 215.1L304.6 214.1L305.4 213.0L306.1 212.7L306.9 214.5L307.6 216.2L308.4 216.2L309.1 216.3L309.9 216.2L310.6 216.0L311.4 214.7L312.1 214.4L312.9 213.9L313.6 214.3L314.4 215.1L315.1 214.6L315.9 214.2L316.6 214.0L317.4 214.5L318.1 214.7L318.9 215.7L319.6 215.0L320.4 214.8L321.1 215.2L321.9 215.2L322.6 215.0L323.4 215.3L324.1 214.9L324.9 215.1L325.6 215.0L326.4 214.9L327.1 216.2L327.9 217.8L328.6 217.3L329.4 216.6L330.1 216.9L330.9 217.3L331.6 216.7L332.4 216.2L333.1 216.6L333.9 216.4L334.6 215.6L335.4 215.0L336.1 215.8L336.9 216.4L337.6 215.8L338.4 215.3L339.1 215.2L339.9 215.8L340.6 216.1L341.4 216.6L342.1 216.9L342.9 217.0L343.6 216.2L344.4 216.2L345.1 216.2L345.9 216.8L346.6 217.3L347.4 216.2L348.1 216.1L348.9 216.5L349.6 216.5L350.4 215.9L351.1 216.1L351.9 216.6L352.6 216.9L353.4 216.6L354.1 217.3" stroke="#55b2dc" stroke-width="0.75" opacity="0.3"/>
<path d="M73.7 321.7L76.4 293.8L77.2 288.6L77.9 284.8L78.7 280.7L79.4 277.3L80.2 276.0L80.9 272.6L81.7 268.1L82.4 264.3L83.2 261.9L83.9 260.5L84.7 258.9L85.4 257.6L86.2 255.8L86.9 253.6L87.7 252.2L88.4 250.1L89.2 246.8L89.9 243.4L90.7 243.1L91.4 241.4L92.2 240.8L92.9 239.4L93.7 237.4L94.4 236.5L95.2 234.6L95.9 231.5L96.7 235.3L97.4 233.0L98.2 229.0L98.9 227.6L99.7 225.4L100.4 226.0L101.2 229.4L101.9 230.2L102.7 227.6L103.4 226.1L104.2 227.0L104.9 227.5L105.7 223.0L106.4 225.5L107.2 227.6L107.9 226.1L108.7 228.1L109.4 226.4L110.2 223.0L110.9 220.5L111.7 220.5L112.4 220.0L113.2 218.2L113.9 219.1L114.7 220.7L115.4 220.6L116.2 219.5L116.9 219.6L117.7 219.0L118.4 218.3L119.2 218.4L119.9 217.4L120.7 217.9L121.4 220.4L122.2 219.6L122.9 220.6L123.7 219.8L124.4 220.1L125.2 218.2L125.9 217.3L126.7 215.0L127.4 213.7L128.2 214.2L128.9 214.7L129.7 215.8L130.4 216.2L131.2 214.6L131.9 212.7L132.7 212.2L133.4 215.9L134.2 219.0L134.9 220.7L135.7 222.0L136.4 223.1L137.2 220.6L137.9 218.0L138.7 218.0L139.4 216.4L140.2 217.7L140.9 219.4L141.7 217.8L142.4 213.3L143.2 212.8L143.9 214.4L144.7 215.6L145.4 214.0L146.2 211.8L146.9 212.3L147.7 212.1L148.4 211.4L149.2 211.9L149.9 214.0L150.7 213.7L151.4 214.8L152.2 214.0L152.9 213.2L153.7 213.5L154.4 213.9L155.2 213.5L155.9 213.5L156.7 214.1L157.4 213.3L158.2 214.1L158.9 214.2L159.7 215.1L160.4 215.1L161.2 213.7L161.9 214.1L162.7 213.1L163.4 214.1L164.2 214.2L164.9 214.0L165.7 213.8L166.4 211.4L167.2 210.9L167.9 210.0L168.7 211.4L169.4 211.7L170.2 213.1L170.9 215.1L171.7 213.6L172.4 211.5L173.2 210.4L173.9 210.4L174.7 211.7L175.4 210.8L176.2 209.1L176.9 210.8L177.7 211.2L178.4 209.4L179.2 206.8L179.9 207.5L180.7 210.8L181.4 211.4L182.2 211.2L182.9 211.4L183.7 212.0L184.4 211.8L185.2 210.0L185.9 211.5L186.7 212.4L187.4 212.1L188.2 211.5L188.9 211.7L189.7 213.0L190.4 214.0L191.2 212.1L191.9 210.4L192.7 211.7L193.4 212.5L194.2 212.0L194.9 214.0L195.7 213.0L196.4 211.7L197.2 213.2L197.9 213.0L198.7 212.2L199.4 211.6L200.2 211.5L200.9 211.5L201.7 210.6L202.4 211.0L203.2 212.4L203.9 211.7L204.7 210.4L205.4 210.6L206.2 211.3L206.9 212.0L207.7 213.8L208.4 213.8L209.2 213.6L209.9 213.9L210.7 213.8L211.4 213.1L212.2 212.6L212.9 213.0L213.7 212.2L214.4 212.2L215.2 212.0L215.9 212.7L216.7 213.1L217.4 213.3L218.2 213.9L218.9 214.8L219.7 215.5L220.4 214.6L221.2 214.8L221.9 214.3L222.7 214.9L223.4 216.6L224.2 216.3L224.9 215.7L225.7 215.0L226.4 214.8L227.2 216.0L227.9 216.1L228.7 215.1L229.4 215.9L230.2 217.0L230.9 215.3L231.7 214.2L232.4 215.4L233.2 215.4L233.9 213.9L234.7 216.0L235.4 216.4L236.2 215.0L236.9 215.2L237.7 215.2L238.4 213.8L239.2 213.9L239.9 214.5L240.7 216.1L241.4 217.1L242.2 217.3L242.9 216.6L243.7 215.6L244.4 214.9L245.2 214.6L245.9 215.7L246.7 216.1L247.4 215.6L248.2 214.4L248.9 215.3L249.7 215.1L250.4 215.5L251.2 215.4L251.9 215.3L252.7 213.9L253.4 213.9L254.2 213.5L254.9 213.2L255.7 215.6L256.4 216.1L257.1 216.2L257.9 215.5L258.6 214.1L259.4 215.2L260.1 214.5L260.9 215.3L261.6 215.5L262.4 215.5L263.1 216.3L263.9 217.0L264.6 216.7L265.4 214.9L266.1 215.5L266.9 216.8L267.6 215.9L268.4 214.8L269.1 215.5L269.9 216.9L270.6 218.4L271.4 217.8L272.1 217.6L272.9 216.8L273.6 217.9L274.4 217.1L275.1 215.7L275.9 216.0L276.6 216.9L277.4 216.2L278.1 216.4L278.9 216.4L279.6 216.6L280.4 217.8L281.1 218.6L281.9 217.6L282.6 216.2L283.4 216.9L284.1 217.3L284.9 219.3L285.6 220.1L286.4 219.4L287.1 218.7L287.9 219.3L288.6 219.0L289.4 217.7L290.1 216.1L290.9 216.0L291.6 217.2L292.4 219.1L293.1 219.0L293.9 218.0L294.6 216.9L295.4 216.5L296.1 218.2L296.9 218.5L297.6 217.9L298.4 219.3L299.1 219.2L299.9 217.9L300.6 217.3L301.4 217.3L302.1 218.8L302.9 218.1L303.6 218.0L304.4 217.6L305.1 219.0L305.9 219.0L306.6 218.3L307.4 218.6L308.1 218.2L308.9 218.8L309.6 219.4L310.4 221.0L311.1 217.3L311.9 218.0L312.6 219.1L313.4 219.4L314.1 219.2L314.9 218.9L315.6 217.6L316.4 218.5L317.1 218.5L317.9 219.0L318.6 219.4L319.4 218.9L320.1 218.9L320.9 219.6L321.6 220.4L322.4 220.4L323.1 219.4L323.9 219.1L324.6 219.7L325.4 219.4L326.1 219.8L326.9 221.1L327.6 220.1L328.4 220.4L329.1 219.4L329.9 220.5L330.6 221.1L331.4 219.4L332.1 219.4L332.9 219.5L333.6 219.9L334.4 219.8L335.1 219.6L335.9 219.1L336.6 219.4L337.4 220.9L338.1 221.7L338.9 219.4L339.6 219.0L340.4 219.4L341.1 220.0L341.9 219.7L342.6 219.5L343.4 221.0L344.1 221.2L344.9 220.9L345.6 220.2L346.4 220.2L347.1 220.1L347.9 219.6L348.6 219.7L349.4 222.7L350.1 220.9L350.9 220.6L351.6 221.0L352.4 221.4L353.1 220.4L353.9 220.9L354.6 220.7" stroke="#4a38d0" stroke-width="0.75" opacity="0.3"/>
<path d="M70.7 321.7L73.4 287.0L74.2 281.0L74.9 276.0L75.7 273.2L76.4 269.8L77.2 266.0L77.9 261.1L78.7 256.4L79.4 251.4L80.2 251.1L80.9 248.1L81.7 242.1L82.4 238.2L83.2 236.0L83.9 231.9L84.7 228.6L85.4 225.8L86.2 221.6L86.9 221.3L87.7 220.1L88.4 220.8L89.2 221.2L89.9 218.1L90.7 218.6L91.4 219.6L92.2 218.3L92.9 214.8L93.7 214.4L94.4 213.4L95.2 210.9L95.9 210.4L96.7 210.7L97.4 211.4L98.2 209.8L98.9 207.5L99.7 210.7L100.4 208.4L101.2 207.5L101.9 207.1L102.7 207.6L103.4 206.4L104.2 204.2L104.9 204.2L105.7 202.4L106.4 204.5L107.2 212.0L107.9 212.1L108.7 202.4L109.4 198.1L110.2 197.8L110.9 197.5L111.7 197.5L112.4 198.5L113.2 200.2L113.9 199.9L114.7 202.4L115.4 200.6L116.2 199.0L116.9 199.9L117.7 200.1L118.4 197.9L119.2 197.0L119.9 197.9L120.7 195.6L121.4 195.4L122.2 197.1L122.9 197.9L123.7 196.1L124.4 196.2L125.2 200.0L125.9 199.6L126.7 200.1L127.4 199.2L128.2 203.5L128.9 210.4L129.7 207.3L130.4 203.0L131.2 201.5L131.9 202.6L132.7 202.0L133.4 200.2L134.2 198.1L134.9 199.5L135.7 202.2L136.4 205.2L137.2 210.8L137.9 209.9L138.7 205.4L139.4 199.2L140.2 198.5L140.9 199.5L141.7 200.7L142.4 198.8L143.2 197.0L143.9 196.9L144.7 196.1L145.4 195.6L146.2 199.3L146.9 200.3L147.7 201.1L148.4 198.8L149.2 197.6L149.9 198.3L150.7 199.3L151.4 198.1L152.2 200.2L152.9 201.2L153.7 198.6L154.4 197.4L155.2 199.1L155.9 198.9L156.7 198.2L157.4 198.6L158.2 200.1L158.9 200.5L159.7 200.3L160.4 201.4L161.2 200.9L161.9 198.8L162.7 199.9L163.4 200.8L164.2 201.4L164.9 199.5L165.7 199.9L166.4 198.2L167.2 197.2L167.9 198.5L168.7 198.8L169.4 201.5L170.2 201.3L170.9 198.8L171.7 200.6L172.4 201.1L173.2 201.9L173.9 204.0L174.7 204.3L175.4 203.7L176.2 203.2L176.9 202.3L177.7 202.1L178.4 202.6L179.2 201.0L179.9 199.7L180.7 199.7L181.4 200.9L182.2 201.8L182.9 200.1L183.7 199.0L184.4 199.5L185.2 200.9L185.9 201.6L186.7 199.6L187.4 199.1L188.2 198.9L188.9 199.6L189.7 199.4L190.4 199.6L191.2 199.6L191.9 199.6L192.7 200.8L193.4 200.5L194.2 201.9L194.9 201.8L195.7 202.3L196.4 201.2L197.2 199.9L197.9 201.4L198.7 199.9L199.4 200.7L200.2 200.8L200.9 200.7L201.7 200.6L202.4 200.4L203.2 199.7L203.9 199.0L204.7 200.5L205.4 200.7L206.2 199.7L206.9 199.1L207.7 199.0L208.4 199.6L209.2 199.4L209.9 198.7L210.7 200.0L211.4 200.0L212.2 200.9L212.9 199.5L213.7 199.0L214.4 199.0L215.2 199.3L215.9 199.7L216.7 199.3L217.4 198.5L218.2 198.5L218.9 198.9L219.7 198.9L220.4 198.2L221.2 197.7L221.9 198.0L222.7 199.2L223.4 199.1L224.2 200.5L224.9 200.4L225.7 199.0L226.4 198.5L227.2 199.1L227.9 199.5L228.7 199.3L229.4 199.8L230.2 200.1L230.9 199.2L231.7 198.9L232.4 200.9L233.2 202.0L233.9 201.5L234.7 200.1L235.4 198.7L236.2 199.1L236.9 199.2L237.7 200.6L238.4 201.3L239.2 200.5L239.9 198.0L240.7 198.0L241.4 199.4L242.2 200.4L242.9 199.1L243.7 198.3L244.4 198.3L245.2 199.3L245.9 200.1L246.7 201.0L247.4 199.2L248.2 200.0L248.9 199.2L249.7 199.3L250.4 199.3L251.2 198.7L251.9 197.7L252.7 199.1L253.4 199.3L254.2 198.8L254.9 199.0L255.7 199.9L256.4 199.4L257.1 198.9L257.9 198.0L258.6 197.8L259.4 197.6L260.1 198.5L260.9 200.5L261.6 200.4L262.4 200.8L263.1 198.4L263.9 197.9L264.6 199.5L265.4 199.1L266.1 198.4L266.9 197.7L267.6 198.7L268.4 200.4L269.1 203.2L269.9 209.9L270.6 212.8L271.4 203.7L272.1 199.2L272.9 198.6L273.6 197.9L274.4 198.4L275.1 200.9L275.9 201.0L276.6 201.3L277.4 200.0L278.1 200.1L278.9 199.3L279.6 197.7L280.4 196.6L281.1 197.8L281.9 199.5L282.6 199.6L283.4 199.7L284.1 200.4L284.9 197.9L285.6 198.4L286.4 200.2L287.1 200.9L287.9 197.6L288.6 197.9L289.4 197.6L290.1 198.5L290.9 199.8L291.6 199.0L292.4 199.7L293.1 200.7L293.9 199.3L294.6 198.7L295.4 197.8L296.1 197.4L296.9 198.0L297.6 198.7L298.4 198.6L299.1 198.9L299.9 201.1L300.6 200.4L301.4 199.7L302.1 199.9L302.9 200.8L303.6 200.0L304.4 199.2L305.1 200.6L305.9 198.9L306.6 199.1L307.4 199.8L308.1 198.8L308.9 198.7L309.6 199.5L310.4 199.8L311.1 198.7L311.9 198.6L312.6 199.6L313.4 199.7L314.1 199.5L314.9 198.8L315.6 198.1L316.4 199.8L317.1 199.5L317.9 199.1L318.6 198.6L319.4 199.1L320.1 199.7L320.9 198.2L321.6 197.7L322.4 198.7L323.1 200.3L323.9 200.8L324.6 200.5L325.4 199.3L326.1 199.0L326.9 199.5L327.6 199.3L328.4 199.9L329.1 200.5L329.9 206.4L330.6 215.3L331.4 215.1L332.1 205.6L332.9 200.2L333.6 200.1L334.4 199.5L335.1 198.8L335.9 199.3L336.6 199.2L337.4 200.1L338.1 200.1L338.9 198.9L339.6 199.7L340.4 199.1L341.1 199.9L341.9 199.0L342.6 198.8L343.4 199.0L344.1 199.7L344.9 200.2L345.6 199.7L346.4 199.2L347.1 199.8L347.9 199.5L348.6 198.1L349.4 197.0L350.1 197.4L350.9 198.1L351.6 198.9L352.4 198.9L353.1 197.8L353.9 197.2L354.6 197.0" stroke="#dc2edc" stroke-width="0.75" opacity="0.3"/>
<path d="M71.6 321.7L74.3 286.5L75.0 284.2L75.8 278.8L76.5 274.2L77.3 270.2L78.0 266.1L78.8 261.8L79.5 257.4L80.3 254.5L81.0 251.9L81.8 247.0L82.5 243.3L83.3 239.3L84.0 240.1L84.8 231.9L85.5 229.6L86.3 227.8L87.0 226.2L87.8 224.3L88.5 224.4L89.3 222.7L90.0 221.5L90.8 220.2L91.5 221.3L92.3 219.4L93.0 215.2L93.8 210.5L94.5 209.6L95.3 211.1L96.0 212.6L96.8 211.5L97.5 210.4L98.3 212.3L99.0 212.7L99.8 211.5L100.5 213.1L101.3 211.5L102.0 208.2L102.8 206.1L103.5 204.8L104.3 206.2L105.0 207.3L105.8 206.7L106.5 207.4L107.3 212.1L108.0 209.0L108.8 204.6L109.5 202.8L110.3 204.2L111.0 204.9L111.8 203.6L112.5 201.3L113.3 201.7L114.0 203.5L114.8 202.4L115.5 201.3L116.3 198.0L117.0 195.4L117.8 198.1L118.5 198.8L119.3 200.0L120.0 200.6L120.8 198.6L121.5 195.5L122.3 197.6L123.0 198.5L123.8 196.3L124.5 195.3L125.3 195.3L126.0 196.3L126.8 195.4L127.5 196.5L128.3 202.2L129.1 208.3L129.8 204.9L130.6 198.8L131.3 194.4L132.1 196.1L132.8 200.1L133.6 200.8L134.3 199.0L135.1 199.6L135.8 199.0L136.6 205.8L137.3 211.9L138.1 214.0L138.8 209.6L139.6 200.2L140.3 197.6L141.1 198.8L141.8 201.1L142.6 200.6L143.3 201.5L144.1 203.8L144.8 203.6L145.6 202.1L146.3 201.0L147.1 200.2L147.8 199.6L148.6 200.8L149.3 202.6L150.1 201.6L150.8 200.8L151.6 197.7L152.3 198.7L153.1 199.2L153.8 200.7L154.6 201.3L155.3 202.2L156.1 202.0L156.8 201.8L157.6 200.5L158.3 200.9L159.1 201.1L159.8 202.0L160.6 200.0L161.3 199.4L162.1 199.9L162.8 200.1L163.6 202.4L164.3 202.3L165.1 202.8L165.8 202.2L166.6 200.1L167.3 200.2L168.1 198.8L168.8 199.0L169.6 200.1L170.3 200.4L171.1 200.1L171.8 198.9L172.6 199.6L173.3 198.6L174.1 198.7L174.8 200.9L175.6 200.3L176.3 200.2L177.1 199.3L177.8 199.9L178.6 201.1L179.3 201.4L180.1 201.6L180.8 200.5L181.6 200.5L182.3 200.2L183.1 199.4L183.8 198.8L184.6 198.3L185.3 199.7L186.1 201.2L186.8 201.1L187.6 198.9L188.3 198.4L189.1 199.9L189.8 201.0L190.6 201.5L191.3 201.6L192.1 204.0L192.8 201.9L193.6 200.2L194.3 200.9L195.1 201.5L195.8 200.7L196.6 200.1L197.3 200.0L198.1 199.4L198.8 200.5L199.6 202.2L200.3 202.3L201.1 200.9L201.8 202.4L202.6 201.3L203.3 200.9L204.1 200.6L204.8 201.1L205.6 200.3L206.3 199.6L207.1 199.4L207.8 200.7L208.6 200.5L209.3 199.7L210.1 199.2L210.8 200.1L211.6 200.3L212.3 200.5L213.1 200.7L213.8 200.9L214.6 200.0L215.3 198.8L216.1 198.6L216.8 199.1L217.6 199.0L218.3 200.5L219.1 201.9L219.8 201.4L220.6 200.7L221.3 199.5L222.1 201.1L222.8 201.1L223.6 200.8L224.3 201.5L225.1 200.6L225.8 201.0L226.6 202.8L227.3 202.3L228.1 201.4L228.8 199.3L229.6 199.0L230.3 199.6L231.1 199.2L231.8 199.1L232.6 198.5L233.3 198.0L234.1 198.5L234.8 199.0L235.6 199.7L236.3 200.5L237.1 200.3L237.8 198.5L238.6 197.6L239.3 199.1L240.1 200.6L240.8 199.6L241.6 198.6L242.3 200.4L243.1 200.1L243.8 199.9L244.6 200.5L245.3 199.9L246.1 199.4L246.8 199.8L247.6 200.2L248.3 199.5L249.1 199.6L249.8 199.5L250.6 199.0L251.3 199.6L252.1 199.9L252.8 199.0L253.6 198.4L254.3 198.1L255.1 197.4L255.8 197.9L256.6 198.7L257.3 198.7L258.1 198.5L258.8 199.1L259.6 199.2L260.3 198.8L261.1 200.2L261.8 199.1L262.6 199.2L263.3 199.2L264.1 198.1L264.8 198.4L265.6 199.7L266.3 200.3L267.1 199.8L267.8 200.0L268.6 200.1L269.3 201.6L270.1 209.5L270.8 212.2L271.6 205.3L272.3 200.2L273.1 199.7L273.8 199.2L274.6 199.4L275.3 198.7L276.1 198.0L276.8 199.7L277.6 200.5L278.3 199.8L279.1 199.8L279.8 199.2L280.6 199.5L281.3 198.6L282.1 199.6L282.8 200.0L283.6 199.5L284.3 198.3L285.1 198.4L285.8 198.8L286.6 198.9L287.3 201.6L288.1 201.2L288.8 201.2L289.6 199.1L290.3 199.0L291.1 201.3L291.8 202.2L292.6 202.8L293.3 199.9L294.1 200.5L294.8 199.7L295.6 200.5L296.3 200.2L297.1 200.1L297.8 200.0L298.6 199.9L299.3 200.4L300.1 201.4L300.8 200.4L301.6 200.1L302.3 199.2L303.1 200.6L303.8 200.1L304.6 199.0L305.3 198.5L306.1 199.2L306.8 200.3L307.6 199.5L308.3 198.7L309.1 198.6L309.8 198.6L310.6 197.8L311.3 198.4L312.1 198.9L312.8 199.7L313.6 200.1L314.3 199.5L315.1 199.8L315.8 200.1L316.6 199.8L317.3 198.9L318.1 200.4L318.8 199.2L319.6 198.9L320.3 199.5L321.1 198.7L321.8 197.7L322.6 199.0L323.3 200.2L324.1 199.8L324.8 199.1L325.6 198.9L326.3 199.4L327.1 200.4L327.8 200.4L328.6 200.2L329.3 200.6L330.1 205.5L330.8 214.8L331.6 214.7L332.3 206.1L333.1 201.6L333.8 200.6L334.6 200.7L335.3 200.7L336.1 200.6L336.8 200.0L337.6 200.6L338.3 201.4L339.1 200.3L339.8 200.7L340.6 200.4L341.3 200.3L342.1 200.7L342.8 201.3L343.6 200.5L344.3 200.6L345.1 201.3L345.8 201.4L346.6 201.9L347.3 201.1L348.1 201.4L348.8 201.6L349.6 200.7L350.3 200.2L351.1 199.6L351.8 200.1L352.6 200.5L353.3 199.4L354.1 199.5L354.8 200.0" stroke="#c8189a" stroke-width="0.75" opacity="0.3"/>
<path d="M81.6 320.6L82.3 315.4L83.1 310.1L83.8 305.5L84.6 301.6L85.3 298.2L86.1 294.6L86.8 291.2L87.6 288.5L88.3 285.7L89.1 283.6L89.8 283.1L90.6 283.0L91.3 282.4L92.1 282.7L92.8 282.0L93.6 279.5L94.3 277.2L95.1 275.9L95.8 274.7L96.6 273.1L97.3 270.9L98.1 267.7L98.8 265.1L99.6 263.2L100.3 262.2L101.1 261.9L101.8 261.0L102.6 259.7L103.3 258.4L104.1 257.6L104.8 256.9L105.6 256.1L106.3 255.8L107.1 255.9L107.8 255.4L108.6 254.9L109.3 254.3L110.1 253.7L110.8 253.6L111.6 253.5L112.3 252.6L113.1 251.1L113.8 250.1L114.6 249.4L115.3 249.2L116.1 249.3L116.8 249.2L117.6 248.6L118.3 247.6L119.1 247.4L119.8 247.5L120.6 246.1L121.3 244.9L122.1 244.6L122.8 244.8L123.6 245.1L124.3 245.2L125.1 244.6L125.8 243.5L126.6 242.5L127.3 242.0L128.1 241.8L128.8 241.7L129.6 241.7L130.3 241.3L131.1 241.4L131.8 241.5L132.6 241.7L133.3 242.2L134.1 242.2L134.8 241.9L135.6 240.9L136.3 239.2L137.1 238.0L137.8 238.0L138.6 238.4L139.3 238.2L140.1 238.0L140.8 238.1L141.6 238.7L142.3 239.7L143.1 240.4L143.8 239.6L144.6 238.9L145.3 238.7L146.1 238.3L146.8 237.6L147.6 236.6L148.3 236.0L149.1 235.7L149.8 236.1L150.6 236.7L151.3 236.2L152.1 235.4L152.8 236.1L153.6 237.1L154.3 237.1L155.1 237.1L155.8 237.1L156.6 236.6L157.3 236.0L158.1 235.7L158.8 236.0L159.6 236.2L160.3 235.5L161.1 235.0L161.8 235.3L162.6 235.3L163.3 235.1L164.1 235.3L164.8 235.5L165.6 235.2L166.3 235.0L167.1 235.0L167.8 234.3L168.6 233.2L169.3 233.0L170.1 234.1L170.8 234.5L171.6 233.4L172.3 232.9L173.1 233.6L173.8 234.4L174.6 234.4L175.3 234.1L176.1 234.5L176.8 235.0L177.6 235.0L178.3 235.1L179.1 234.9L179.8 235.2L180.6 235.8L181.3 235.7L182.1 235.8L182.8 236.7L183.6 237.5L184.3 237.4L185.1 237.1L185.8 237.3L186.6 237.6L187.3 237.4L188.1 236.4L188.8 235.7L189.6 235.6L190.3 235.7L191.1 235.9L191.8 235.4L192.6 234.5L193.3 234.6L194.1 235.1L194.8 234.9L195.6 234.4L196.3 234.4L197.1 234.4L197.8 234.3L198.6 234.3L199.3 234.5L200.1 234.9L200.8 235.0L201.6 234.8L202.3 234.2L203.1 234.5L203.8 235.1L204.6 235.2L205.3 235.1L206.1 235.3L206.8 235.3L207.6 235.3L208.3 235.7L209.1 235.8L209.8 235.4L210.6 235.1L211.3 235.2L212.1 235.5L212.8 235.3L213.6 235.0L214.3 234.9L215.1 234.8L215.8 235.0L216.6 235.3L217.3 235.4L218.1 235.3L218.8 235.6L219.6 235.9L220.3 235.7L221.1 235.8L221.8 236.1L222.6 236.1L223.3 236.4L224.1 236.8L224.8 236.7L225.6 236.3L226.3 236.2L227.1 236.8L227.8 237.3L228.6 237.0L229.3 236.8L230.1 236.9L230.8 236.6L231.6 236.5L232.3 236.7L233.1 236.9L233.8 237.2L234.6 237.5L235.3 237.4L236.1 237.1L236.8 237.1L237.6 236.9L238.3 236.1L239.1 235.8L239.8 236.1L240.6 236.4L241.3 236.7L242.1 236.9L242.8 236.8L243.6 236.7L244.3 236.8L245.1 236.9L245.8 236.9L246.6 237.2L247.3 237.8L248.1 238.3L248.8 238.2L249.6 237.7L250.3 237.5L251.1 237.8L251.8 238.1L252.6 237.9L253.3 237.6L254.1 237.9L254.8 238.1L255.6 237.8L256.4 237.7L257.1 238.0L257.9 238.5L258.6 239.0L259.4 238.9L260.1 238.7L260.9 238.6L261.6 238.3L262.4 237.8L263.1 237.2L263.9 237.0L264.6 237.1L265.4 237.2L266.1 237.4L266.9 237.5L267.6 237.2L268.4 236.8L269.1 236.6L269.9 236.6L270.6 237.2L271.4 238.1L272.1 238.5L272.9 238.6L273.6 238.7L274.4 238.3L275.1 238.0L275.9 238.5L276.6 239.0L277.4 238.9L278.1 238.5L278.9 238.3L279.6 238.2L280.4 238.2L281.1 237.8L281.9 237.5L282.6 237.8L283.4 238.2L284.1 238.6L284.9 238.7L285.6 238.6L286.4 238.6L287.1 238.9L287.9 239.4L288.6 239.5L289.4 239.4L290.1 239.1L290.9 238.8L291.6 239.0L292.4 239.3L293.1 239.3L293.9 239.0L294.6 239.0L295.4 239.1L296.1 239.2L296.9 239.1L297.6 239.1L298.4 239.0L299.1 239.1L299.9 239.9L300.6 240.4L301.4 240.2L302.1 239.8L302.9 240.0L303.6 240.3L304.4 240.4L305.1 240.6L305.9 240.8L306.6 240.6L307.4 240.0L308.1 240.0L308.9 240.7L309.6 241.4L310.4 241.6L311.1 241.2L311.9 240.6L312.6 240.4L313.4 240.2L314.1 240.1L314.9 240.3L315.6 240.6L316.4 240.4L317.1 240.3L317.9 240.7L318.6 240.7L319.4 240.5L320.1 240.5L320.9 240.2L321.6 239.9L322.4 240.0L323.1 240.2L323.9 240.5L324.6 240.5L325.4 240.3L326.1 240.0L326.9 240.2L327.6 240.8L328.4 240.8L329.1 240.6L329.9 240.5L330.6 240.4L331.4 240.2L332.1 240.5L332.9 240.9L333.6 240.6L334.4 239.8L335.1 239.5L335.9 239.7L336.6 239.9L337.4 240.2L338.1 240.5L338.9 240.4L339.6 240.0L340.4 239.9L341.1 240.2L341.9 240.2L342.6 239.9L343.4 239.9L344.1 240.1L344.9 240.1L345.6 240.4L346.4 240.7L347.1 240.5L347.9 240.1L348.6 240.2L349.4 240.6L350.1 240.8L350.9 240.6L351.6 240.3L352.4 240.4L353.1 240.3L353.9 239.9L354.6 239.8" stroke="#e3e162" stroke-width="0.85"/>
<path d="M83.6 319.5L84.3 314.4L85.1 309.7L85.8 305.3L86.6 301.6L87.3 298.2L88.1 294.9L88.8 292.0L89.6 289.4L90.3 286.7L91.1 283.5L91.8 281.0L92.6 281.6L93.3 283.3L94.1 284.3L94.8 282.6L95.6 279.4L96.3 276.8L97.1 275.5L97.8 273.8L98.6 272.0L99.3 269.7L100.1 266.3L100.8 263.7L101.6 262.1L102.3 261.5L103.1 261.6L103.8 260.9L104.6 259.8L105.3 259.2L106.1 258.5L106.8 258.4L107.6 258.5L108.3 258.3L109.1 257.9L109.8 257.4L110.6 256.8L111.3 256.6L112.1 256.5L112.8 255.5L113.6 253.9L114.3 252.3L115.1 252.0L115.8 251.8L116.6 251.2L117.3 251.0L118.1 250.7L118.8 249.6L119.6 248.3L120.3 246.9L121.1 246.0L121.8 245.4L122.6 245.0L123.3 245.2L124.1 245.3L124.8 244.7L125.6 244.0L126.3 243.9L127.1 244.1L127.8 243.9L128.6 243.7L129.3 243.7L130.1 243.4L130.8 242.5L131.6 242.4L132.3 242.5L133.1 242.3L133.8 242.6L134.6 242.6L135.3 241.5L136.1 241.3L136.8 242.0L137.6 242.0L138.3 240.8L139.1 239.5L139.8 239.1L140.6 239.1L141.3 239.4L142.1 240.0L142.8 239.9L143.6 239.9L144.3 239.7L145.1 239.1L145.8 238.4L146.6 237.8L147.3 238.1L148.1 238.7L148.8 238.9L149.6 238.9L150.3 239.0L151.1 238.8L151.8 238.3L152.6 238.2L153.3 238.1L154.1 237.4L154.8 237.1L155.6 237.3L156.3 237.1L157.1 236.2L157.8 235.9L158.6 236.3L159.3 236.2L160.1 235.4L160.8 235.2L161.6 236.1L162.3 236.6L163.1 235.6L163.8 234.6L164.6 234.7L165.3 235.0L166.1 234.5L166.8 233.6L167.6 233.3L168.3 233.7L169.1 234.4L169.8 235.0L170.6 235.2L171.3 234.9L172.1 234.8L172.8 234.7L173.6 235.2L174.3 235.5L175.1 235.3L175.8 234.8L176.6 235.0L177.3 235.9L178.1 236.7L178.8 236.9L179.6 236.8L180.3 236.7L181.1 236.6L181.8 236.6L182.6 236.7L183.3 236.5L184.1 236.5L184.8 237.0L185.6 237.1L186.3 236.9L187.1 236.8L187.8 236.5L188.6 236.3L189.3 236.1L190.1 236.2L190.8 236.3L191.6 236.4L192.3 236.4L193.1 235.8L193.8 235.2L194.6 235.1L195.3 235.4L196.1 235.5L196.8 235.3L197.6 235.4L198.3 235.7L199.1 235.6L199.8 234.8L200.6 233.9L201.3 233.7L202.1 234.1L202.8 234.3L203.6 234.8L204.3 235.7L205.1 236.1L205.8 235.6L206.6 234.9L207.3 234.6L208.1 235.3L208.8 236.0L209.6 235.7L210.3 235.4L211.1 235.9L211.8 236.4L212.6 236.5L213.3 236.5L214.1 235.8L214.8 235.9L215.6 237.1L216.3 238.5L217.1 239.6L217.8 240.2L218.6 240.7L219.3 241.1L220.1 241.0L220.8 240.9L221.6 241.1L222.3 241.2L223.1 241.2L223.8 241.5L224.6 241.4L225.3 240.7L226.1 240.4L226.8 240.5L227.6 240.6L228.3 240.5L229.1 240.0L229.8 239.2L230.6 238.5L231.3 238.4L232.1 238.9L232.8 238.9L233.6 238.5L234.3 238.3L235.1 238.3L235.8 238.3L236.6 238.4L237.3 238.7L238.1 239.1L238.8 239.0L239.6 238.6L240.3 238.8L241.1 239.3L241.8 239.3L242.6 238.8L243.3 238.2L244.1 238.1L244.8 238.4L245.6 238.8L246.3 239.2L247.1 239.3L247.8 238.9L248.6 238.4L249.3 238.4L250.1 238.6L250.8 238.9L251.6 238.7L252.3 238.1L253.1 238.0L253.8 238.2L254.6 238.3L255.3 238.3L256.1 237.8L256.9 237.2L257.6 237.4L258.4 238.0L259.1 238.6L259.9 239.2L260.6 239.2L261.4 238.9L262.1 238.6L262.9 238.5L263.6 239.1L264.4 240.4L265.1 242.2L265.9 243.5L266.6 244.4L267.4 244.7L268.1 244.8L268.9 244.6L269.6 244.1L270.4 243.5L271.1 243.2L271.9 243.2L272.6 243.5L273.4 243.8L274.1 243.7L274.9 243.4L275.6 243.4L276.4 243.1L277.1 242.5L277.9 242.5L278.6 242.7L279.4 242.8L280.1 242.4L280.9 241.9L281.6 241.7L282.4 242.1L283.1 242.6L283.9 242.9L284.6 242.8L285.4 242.2L286.1 241.2L286.9 240.7L287.6 241.1L288.4 241.6L289.1 242.2L289.9 242.4L290.6 242.0L291.4 241.6L292.1 241.7L292.9 242.1L293.6 242.3L294.4 241.9L295.1 241.6L295.9 241.7L296.6 241.7L297.4 241.5L298.1 241.4L298.9 241.9L299.6 242.2L300.4 242.0L301.1 241.9L301.9 241.8L302.6 241.4L303.4 240.9L304.1 241.0L304.9 241.6L305.6 242.0L306.4 242.0L307.1 241.8L307.9 241.5L308.6 241.5L309.4 241.7L310.1 241.8L310.9 241.6L311.6 241.4L312.4 241.4L313.1 241.4L313.9 241.5L314.6 241.8L315.4 242.0L316.1 242.3L316.9 242.6L317.6 242.9L318.4 242.9L319.1 242.7L319.9 242.7L320.6 242.9L321.4 242.9L322.1 242.8L322.9 242.5L323.6 242.3L324.4 242.7L325.1 243.5L325.9 243.5L326.6 243.0L327.4 242.8L328.1 242.8L328.9 242.8L329.6 243.0L330.4 243.3L331.1 243.0L331.9 242.4L332.6 241.9L333.4 241.6L334.1 241.9L334.9 242.6L335.6 243.1L336.4 243.2L337.1 243.1L337.9 242.7L338.6 242.3L339.4 242.6L340.1 243.1L340.9 243.5L341.6 243.6L342.4 243.5L343.1 243.3L343.9 242.8L344.6 242.5L345.4 242.6L346.1 243.0L346.9 243.4L347.6 243.5L348.4 243.0L349.1 242.6L349.9 242.7L350.6 243.1L351.4 243.2L352.1 243.4L352.9 243.3L353.6 243.2L354.4 243.2" stroke="#e8b020" stroke-width="1.05"/>
<path d="M77.7 320.0L78.5 312.6L79.2 305.7L80.0 299.5L80.7 293.9L81.5 288.9L82.2 284.3L83.0 279.8L83.7 274.9L84.5 270.5L85.2 267.8L86.0 266.3L86.7 265.6L87.5 264.2L88.2 261.4L89.0 258.6L89.7 256.4L90.5 254.2L91.2 251.7L92.0 249.1L92.7 246.6L93.5 244.4L94.2 243.0L95.0 242.0L95.7 240.8L96.5 239.3L97.2 237.7L98.0 236.4L98.7 236.2L99.5 236.3L100.2 236.0L101.0 235.4L101.7 234.9L102.5 233.3L103.2 230.8L104.0 228.6L104.7 228.3L105.5 228.9L106.2 228.9L107.0 228.4L107.7 228.3L108.5 228.3L109.2 227.4L110.0 227.0L110.7 228.2L111.5 231.0L112.2 234.1L113.0 232.2L113.7 231.0L114.5 229.8L115.2 228.7L116.0 227.8L116.7 227.8L117.5 227.8L118.2 226.8L119.0 226.2L119.7 226.2L120.5 226.1L121.2 226.4L122.0 226.3L122.7 226.0L123.5 225.7L124.2 225.6L125.0 225.4L125.7 224.5L126.5 223.6L127.2 222.8L128.0 222.1L128.7 221.6L129.4 221.6L130.2 222.4L130.9 223.4L131.7 223.3L132.4 222.2L133.2 221.5L133.9 222.7L134.7 224.1L135.4 224.3L136.2 224.4L136.9 224.6L137.7 224.4L138.4 223.6L139.2 223.5L139.9 224.3L140.7 224.8L141.4 224.7L142.2 224.1L142.9 223.9L143.7 224.8L144.4 224.8L145.2 224.5L145.9 224.4L146.7 224.2L147.4 224.6L148.2 225.2L148.9 225.3L149.7 224.8L150.4 224.2L151.2 224.0L151.9 224.1L152.7 224.4L153.4 225.1L154.2 225.2L154.9 224.3L155.7 223.7L156.4 224.2L157.2 224.3L157.9 223.8L158.7 223.8L159.4 224.4L160.2 224.6L160.9 224.2L161.7 223.8L162.4 223.9L163.2 224.6L163.9 225.8L164.7 225.5L165.4 224.3L166.2 224.4L166.9 225.5L167.7 226.1L168.4 226.0L169.2 225.3L169.9 224.5L170.7 224.3L171.4 224.1L172.2 223.4L172.9 222.6L173.7 222.4L174.4 222.7L175.2 223.3L175.9 223.6L176.7 223.4L177.4 222.8L178.2 222.2L178.9 222.2L179.7 222.5L180.4 222.8L181.2 223.1L181.9 223.2L182.7 223.0L183.4 222.6L184.2 222.8L184.9 223.4L185.7 223.5L186.4 223.7L187.2 224.2L187.9 224.6L188.7 224.9L189.4 224.4L190.2 223.8L190.9 224.0L191.7 224.7L192.4 225.1L193.2 225.5L193.9 226.1L194.7 226.4L195.4 225.9L196.2 225.2L196.9 225.2L197.7 225.2L198.4 224.9L199.2 224.7L199.9 224.8L200.7 225.2L201.4 225.7L202.2 225.4L202.9 225.3L203.7 225.2L204.4 224.8L205.2 224.6L205.9 224.5L206.7 224.7L207.4 224.9L208.2 225.1L208.9 225.1L209.7 225.3L210.4 225.5L211.2 225.4L211.9 225.5L212.7 225.5L213.4 225.0L214.2 224.5L214.9 224.3L215.7 224.4L216.4 224.6L217.2 224.7L217.9 224.5L218.7 224.1L219.4 223.6L220.2 223.5L220.9 224.1L221.7 226.3L222.4 225.8L223.2 225.0L223.9 224.6L224.7 224.1L225.4 223.5L226.2 223.1L226.9 222.8L227.7 223.1L228.4 223.7L229.2 223.9L229.9 224.4L230.7 224.7L231.4 224.1L232.2 223.2L232.9 222.8L233.7 223.4L234.4 223.9L235.2 223.8L235.9 224.0L236.7 224.3L237.4 223.9L238.2 223.4L238.9 223.2L239.7 223.2L240.4 223.8L241.2 224.3L241.9 224.4L242.7 223.9L243.4 223.5L244.2 223.8L244.9 224.1L245.7 223.4L246.4 222.8L247.2 222.8L247.9 222.6L248.7 222.5L249.4 222.6L250.2 223.1L250.9 223.7L251.7 224.2L252.4 224.3L253.2 224.1L253.9 223.3L254.7 222.6L255.4 222.6L256.2 222.9L256.9 223.4L257.7 223.6L258.4 223.4L259.2 223.6L259.9 225.5L260.7 226.3L261.4 224.9L262.2 224.2L262.9 223.8L263.7 223.3L264.4 222.8L265.2 223.0L265.9 223.3L266.7 222.9L267.4 222.5L268.2 222.8L268.9 223.5L269.7 223.9L270.4 223.8L271.2 223.3L271.9 222.7L272.7 222.8L273.4 223.4L274.2 223.9L274.9 224.1L275.7 224.1L276.4 223.7L277.2 223.6L277.9 223.6L278.7 223.4L279.4 223.1L280.2 223.2L280.9 223.9L281.7 225.4L282.4 227.2L283.2 225.3L283.9 223.6L284.7 223.0L285.4 223.0L286.2 223.3L286.9 223.7L287.7 223.8L288.4 223.4L289.2 222.9L289.9 223.1L290.7 223.8L291.4 224.4L292.2 224.4L292.9 224.1L293.7 224.0L294.4 223.9L295.2 223.6L295.9 223.3L296.7 223.4L297.4 223.8L298.2 223.6L298.9 223.1L299.7 222.9L300.4 222.9L301.2 223.0L301.9 223.2L302.7 223.3L303.4 223.1L304.2 223.2L304.9 223.4L305.7 223.2L306.4 222.8L307.2 222.6L307.9 223.0L308.7 223.2L309.4 223.0L310.2 223.1L310.9 223.4L311.7 223.3L312.4 223.3L313.2 223.5L313.9 223.3L314.7 223.2L315.4 223.1L316.2 222.9L316.9 222.7L317.7 222.7L318.4 223.1L319.2 223.0L319.9 222.7L320.7 222.6L321.4 222.9L322.2 223.0L322.9 222.5L323.7 222.0L324.4 222.0L325.2 222.1L325.9 222.5L326.7 222.7L327.4 222.3L328.2 222.1L328.9 222.0L329.7 222.0L330.4 221.8L331.2 222.7L331.9 225.4L332.7 224.5L333.4 224.0L334.2 223.5L334.9 223.2L335.7 222.8L336.4 222.4L337.2 222.2L337.9 222.1L338.7 221.9L339.4 221.7L340.2 221.8L340.9 222.1L341.7 222.3L342.4 222.6L343.2 222.7L343.9 222.6L344.7 222.5L345.4 222.7L346.2 223.9L346.9 228.4L347.7 229.7L348.4 227.1L349.2 225.6L349.9 224.3L350.7 223.5L351.4 223.1L352.2 222.5L352.9 222.1L353.7 222.0L354.4 222.3" stroke="#2edc4c" stroke-width="1.05"/>
<path d="M78.3 320.1L79.0 312.6L79.8 305.6L80.5 299.5L81.3 294.3L82.0 289.0L82.8 284.0L83.5 279.6L84.3 275.6L85.0 271.9L85.8 269.4L86.5 268.0L87.3 266.7L88.0 264.8L88.8 262.0L89.5 259.1L90.3 256.7L91.0 254.9L91.8 252.9L92.5 250.6L93.3 248.4L94.0 246.7L94.8 245.3L95.5 243.6L96.3 242.0L97.0 240.7L97.8 239.9L98.5 239.1L99.3 237.8L100.0 236.7L100.8 235.9L101.5 235.5L102.3 234.8L103.0 233.8L103.8 232.9L104.5 232.1L105.3 231.0L106.0 230.3L106.8 230.1L107.5 229.5L108.3 228.5L109.0 227.9L109.8 229.0L110.5 230.7L111.3 230.7L112.0 230.0L112.8 229.5L113.5 228.9L114.3 229.0L115.0 229.6L115.8 229.4L116.5 229.0L117.3 229.1L118.0 228.1L118.8 226.3L119.5 225.0L120.3 225.1L121.0 225.8L121.8 225.5L122.5 224.2L123.3 223.3L124.0 223.8L124.8 224.6L125.5 224.5L126.3 224.6L127.0 224.8L127.8 224.7L128.6 223.8L129.3 222.5L130.1 222.2L130.8 222.7L131.6 223.0L132.3 223.3L133.1 223.6L133.8 223.5L134.6 223.2L135.3 222.5L136.1 222.1L136.8 222.4L137.6 223.6L138.3 224.9L139.1 225.0L139.8 224.4L140.6 224.1L141.3 224.9L142.1 226.0L142.8 225.9L143.6 225.2L144.3 224.9L145.1 225.1L145.8 225.2L146.6 225.6L147.3 225.7L148.1 225.2L148.8 224.3L149.6 224.2L150.3 224.5L151.1 223.9L151.8 223.6L152.6 224.1L153.3 224.6L154.1 224.9L154.8 224.7L155.6 223.8L156.3 223.5L157.1 224.2L157.8 225.1L158.6 225.4L159.3 225.3L160.1 225.4L160.8 225.2L161.6 224.7L162.3 224.4L163.1 224.4L163.8 224.3L164.6 224.0L165.3 223.8L166.1 223.9L166.8 224.1L167.6 224.4L168.3 224.7L169.1 224.7L169.8 224.7L170.6 224.5L171.3 224.2L172.1 224.0L172.8 223.9L173.6 224.5L174.3 225.0L175.1 224.9L175.8 224.5L176.6 224.2L177.3 224.1L178.1 223.9L178.8 223.9L179.6 224.0L180.3 223.8L181.1 223.5L181.8 223.5L182.6 223.8L183.3 223.8L184.1 223.3L184.8 223.3L185.6 223.7L186.3 223.5L187.1 223.5L187.8 223.9L188.6 224.4L189.3 224.1L190.1 223.4L190.8 223.1L191.6 223.3L192.3 223.5L193.1 223.4L193.8 223.0L194.6 222.3L195.3 222.0L196.1 222.6L196.8 223.7L197.6 224.0L198.3 223.6L199.1 223.2L199.8 223.4L200.6 223.5L201.3 223.1L202.1 223.1L202.8 223.2L203.6 223.2L204.3 223.6L205.1 224.2L205.8 224.7L206.6 224.5L207.3 224.4L208.1 224.6L208.8 224.6L209.6 224.3L210.3 223.8L211.1 223.1L211.8 222.8L212.6 223.0L213.3 223.1L214.1 222.9L214.8 222.8L215.6 223.1L216.3 223.3L217.1 223.7L217.8 224.2L218.6 224.0L219.3 223.6L220.1 223.5L220.8 223.6L221.6 223.3L222.3 222.9L223.1 222.8L223.8 222.8L224.6 222.5L225.3 222.3L226.1 222.3L226.8 222.2L227.6 222.2L228.3 222.1L229.1 222.0L229.8 222.1L230.6 222.0L231.3 221.7L232.1 221.3L232.8 221.7L233.6 222.7L234.3 222.9L235.1 222.6L235.8 222.5L236.6 222.4L237.3 221.9L238.1 221.4L238.8 221.5L239.6 222.2L240.3 222.7L241.1 222.4L241.8 222.1L242.6 222.7L243.3 223.3L244.1 223.1L244.8 222.7L245.6 222.2L246.3 221.9L247.1 222.3L247.8 222.5L248.6 222.0L249.3 221.6L250.1 221.6L250.8 222.0L251.6 222.1L252.3 222.0L253.1 221.7L253.8 221.5L254.6 221.2L255.3 221.2L256.1 221.4L256.8 221.7L257.6 222.2L258.3 222.6L259.1 222.1L259.8 221.6L260.6 221.7L261.3 222.3L262.1 222.7L262.8 222.7L263.6 222.6L264.3 222.4L265.1 221.9L265.8 221.7L266.6 222.4L267.3 222.8L268.1 222.7L268.8 222.5L269.6 222.2L270.3 222.3L271.1 222.7L271.8 223.0L272.6 222.9L273.3 222.7L274.1 222.6L274.8 222.0L275.6 221.5L276.3 221.3L277.1 221.1L277.8 221.5L278.6 222.5L279.3 223.4L280.1 223.5L280.8 223.0L281.6 222.4L282.3 222.1L283.1 222.6L283.8 223.0L284.6 222.8L285.3 222.6L286.1 222.4L286.8 222.5L287.6 222.8L288.3 223.0L289.1 223.3L289.8 223.5L290.6 223.2L291.3 222.7L292.1 222.1L292.8 221.7L293.6 221.4L294.3 221.1L295.1 221.3L295.8 222.0L296.6 222.5L297.3 222.4L298.1 222.1L298.8 221.8L299.6 221.6L300.3 222.0L301.1 222.4L301.8 222.3L302.6 222.0L303.3 221.5L304.1 221.4L304.8 221.7L305.6 221.7L306.3 221.7L307.1 222.1L307.8 222.7L308.6 222.7L309.3 221.8L310.1 221.1L310.8 221.1L311.6 221.3L312.3 221.5L313.1 221.5L313.8 221.5L314.6 221.5L315.3 221.4L316.1 221.2L316.8 221.4L317.6 221.5L318.3 221.3L319.1 221.3L319.8 221.6L320.6 221.4L321.3 220.8L322.1 220.7L322.8 220.3L323.6 219.9L324.3 220.3L325.1 221.0L325.8 221.7L326.6 221.7L327.3 221.1L328.1 220.9L328.8 220.8L329.6 221.0L330.3 221.3L331.1 221.5L331.8 222.3L332.6 220.9L333.3 220.1L334.1 220.3L334.8 220.8L335.6 221.1L336.3 221.0L337.1 220.8L337.8 220.7L338.6 221.0L339.3 221.2L340.1 221.0L340.8 221.2L341.6 221.2L342.3 220.8L343.1 220.6L343.8 220.7L344.6 220.6L345.3 220.4L346.1 220.7L346.8 222.5L347.6 224.1L348.3 222.8L349.1 221.6L349.8 221.3L350.6 221.5L351.3 221.3L352.1 221.0L352.8 221.0L353.6 221.2L354.3 221.2" stroke="#55b45a" stroke-width="1.05"/>
<path d="M75.9 320.2L76.7 310.9L77.4 302.6L78.2 295.9L78.9 290.4L79.7 285.9L80.4 282.1L81.2 278.5L81.9 274.5L82.7 270.4L83.4 267.6L84.2 265.6L84.9 263.9L85.7 261.8L86.4 260.1L87.2 259.3L87.9 258.0L88.7 255.7L89.4 253.1L90.2 250.7L90.9 248.5L91.7 246.4L92.4 244.9L93.2 243.5L93.9 241.1L94.7 239.1L95.4 238.6L96.2 238.3L96.9 237.2L97.7 235.5L98.4 234.0L99.2 232.8L99.9 232.7L100.7 232.9L101.4 232.0L102.2 230.2L102.9 228.7L103.7 227.8L104.4 226.9L105.2 226.1L105.9 225.2L106.7 224.1L107.4 223.8L108.2 223.7L108.9 223.5L109.7 224.0L110.4 223.9L111.2 223.1L111.9 222.4L112.7 221.5L113.4 220.9L114.2 221.5L114.9 221.4L115.7 220.4L116.4 219.8L117.2 220.0L117.9 220.3L118.7 220.1L119.4 219.8L120.2 218.8L120.9 217.9L121.7 218.0L122.4 218.3L123.2 218.8L123.9 219.0L124.7 218.1L125.4 217.0L126.2 216.4L126.9 216.4L127.7 216.8L128.4 215.9L129.2 214.3L129.9 214.1L130.7 215.0L131.4 215.7L132.2 215.9L132.9 215.9L133.7 215.1L134.4 213.8L135.2 213.1L135.9 212.8L136.7 212.1L137.4 211.7L138.2 212.0L138.9 212.7L139.7 213.5L140.4 214.5L141.2 215.0L141.9 215.0L142.7 214.9L143.4 215.1L144.2 215.6L144.9 215.3L145.7 214.1L146.4 213.2L147.2 212.9L147.9 213.1L148.7 213.4L149.4 212.8L150.2 211.8L150.9 211.4L151.7 211.7L152.4 212.7L153.2 213.7L153.9 214.1L154.7 214.2L155.4 214.7L156.2 215.1L156.9 214.7L157.7 213.6L158.4 212.7L159.2 212.9L159.9 213.8L160.7 214.1L161.4 213.4L162.2 212.5L162.9 211.8L163.7 211.5L164.4 211.7L165.2 211.5L165.9 211.1L166.7 210.4L167.4 209.9L168.2 210.1L168.9 209.8L169.7 209.8L170.4 211.3L171.2 212.1L171.9 211.4L172.7 210.7L173.4 210.4L174.2 210.3L174.9 210.2L175.7 210.1L176.4 210.9L177.2 212.0L177.9 212.2L178.7 211.9L179.4 211.5L180.2 210.8L180.9 210.0L181.7 209.3L182.4 208.5L183.2 208.3L183.9 208.7L184.7 209.2L185.4 209.8L186.2 210.2L186.9 210.0L187.7 209.6L188.4 209.1L189.2 208.9L189.9 209.1L190.7 209.3L191.4 209.5L192.2 209.6L192.9 209.9L193.7 210.0L194.4 210.1L195.2 210.3L195.9 210.2L196.7 210.2L197.4 210.2L198.2 210.8L198.9 211.1L199.7 210.8L200.4 210.5L201.2 210.3L201.9 209.9L202.7 209.9L203.4 210.3L204.2 210.4L204.9 210.0L205.7 209.7L206.4 209.4L207.2 209.0L207.9 209.3L208.7 210.0L209.4 210.2L210.2 210.0L210.9 209.9L211.7 209.5L212.4 208.9L213.2 208.7L213.9 208.8L214.7 208.9L215.4 209.4L216.2 210.2L216.9 210.9L217.7 210.8L218.4 210.4L219.2 210.5L219.9 210.7L220.7 210.2L221.4 209.5L222.2 209.5L222.9 209.8L223.7 209.9L224.4 210.2L225.2 210.7L225.9 211.2L226.7 212.0L227.4 212.4L228.2 212.3L228.9 212.2L229.7 212.1L230.4 212.1L231.2 212.2L231.9 212.7L232.7 213.1L233.4 212.9L234.2 212.6L234.9 212.7L235.7 212.5L236.4 212.4L237.2 213.0L237.9 213.7L238.7 213.7L239.4 213.2L240.2 212.7L240.9 212.6L241.7 212.7L242.4 213.4L243.2 213.5L243.9 213.0L244.7 212.6L245.4 212.2L246.2 212.1L246.9 212.6L247.7 213.2L248.4 213.4L249.2 213.4L249.9 213.6L250.7 214.3L251.4 214.6L252.2 214.1L252.9 213.6L253.7 213.5L254.4 213.3L255.2 213.3L255.9 213.5L256.6 213.4L257.4 213.4L258.1 214.1L258.9 214.5L259.6 214.1L260.4 213.7L261.1 214.2L261.9 214.6L262.6 214.7L263.4 214.9L264.1 215.2L264.9 215.3L265.6 215.2L266.4 214.8L267.1 214.5L267.9 214.5L268.6 214.3L269.4 213.8L270.1 213.7L270.9 214.0L271.6 213.8L272.4 213.4L273.1 213.8L273.9 214.7L274.6 214.7L275.4 214.0L276.1 213.7L276.9 214.0L277.6 214.4L278.4 214.5L279.1 214.3L279.9 214.0L280.6 213.9L281.4 214.2L282.1 214.7L282.9 214.9L283.6 214.6L284.4 214.1L285.1 213.7L285.9 213.4L286.6 213.3L287.4 213.8L288.1 214.2L288.9 214.2L289.6 214.3L290.4 214.4L291.1 214.6L291.9 214.8L292.6 214.9L293.4 214.9L294.1 214.6L294.9 214.3L295.6 214.1L296.4 214.2L297.1 214.6L297.9 214.5L298.6 214.3L299.4 213.9L300.1 213.6L300.9 213.7L301.6 213.7L302.4 213.8L303.1 213.8L303.9 213.6L304.6 213.0L305.4 212.9L306.1 213.3L306.9 214.1L307.6 214.6L308.4 214.7L309.1 214.6L309.9 214.7L310.6 214.7L311.4 214.4L312.1 214.5L312.9 214.8L313.6 214.8L314.4 214.6L315.1 214.4L315.9 214.4L316.6 214.6L317.4 214.9L318.1 215.2L318.9 215.4L319.6 215.2L320.4 214.8L321.1 214.6L321.9 214.9L322.6 215.2L323.4 215.4L324.1 215.1L324.9 214.7L325.6 214.5L326.4 214.6L327.1 215.4L327.9 216.0L328.6 216.1L329.4 216.2L330.1 216.8L330.9 217.1L331.6 216.4L332.4 215.6L333.1 215.7L333.9 215.9L334.6 215.7L335.4 215.5L336.1 215.5L336.9 215.2L337.6 214.7L338.4 214.7L339.1 214.9L339.9 215.3L340.6 215.9L341.4 216.4L342.1 216.6L342.9 216.5L343.6 216.0L344.4 215.7L345.1 216.2L345.9 216.7L346.6 216.6L347.4 216.1L348.1 216.1L348.9 216.4L349.6 216.6L350.4 216.4L351.1 216.2L351.9 216.1L352.6 216.4L353.4 217.0L354.1 217.2" stroke="#55b2dc" stroke-width="1.05"/>
<path d="M76.4 319.3L77.2 309.9L77.9 301.7L78.7 295.2L79.4 290.3L80.2 286.0L80.9 282.3L81.7 279.1L82.4 275.8L83.2 271.8L83.9 268.6L84.7 266.6L85.4 265.1L86.2 262.7L86.9 260.4L87.7 259.3L88.4 258.0L89.2 255.8L89.9 253.3L90.7 250.7L91.4 248.2L92.2 246.5L92.9 245.0L93.7 243.4L94.4 242.0L95.2 240.1L95.9 238.0L96.7 236.3L97.4 235.2L98.2 234.0L98.9 233.1L99.7 232.5L100.4 232.2L101.2 231.9L101.9 231.5L102.7 230.4L103.4 229.5L104.2 228.9L104.9 228.5L105.7 228.0L106.4 227.3L107.2 227.0L107.9 226.2L108.7 224.9L109.4 223.5L110.2 222.5L110.9 221.9L111.7 220.8L112.4 219.4L113.2 219.1L113.9 219.7L114.7 219.9L115.4 220.1L116.2 220.4L116.9 220.2L117.7 219.5L118.4 219.1L119.2 219.6L119.9 219.6L120.7 219.0L121.4 218.7L122.2 218.5L122.9 217.8L123.7 217.5L124.4 217.7L125.2 217.7L125.9 217.6L126.7 217.1L127.4 216.2L128.2 216.0L128.9 216.4L129.7 216.4L130.4 215.8L131.2 215.4L131.9 215.4L132.7 215.7L133.4 215.8L134.2 215.7L134.9 216.3L135.7 217.3L136.4 217.7L137.2 217.6L137.9 218.0L138.7 218.5L139.4 218.5L140.2 219.1L140.9 219.5L141.7 218.8L142.4 217.7L143.2 216.7L143.9 215.6L144.7 214.9L145.4 215.0L146.2 214.8L146.9 214.1L147.7 213.3L148.4 212.9L149.2 213.7L149.9 214.6L150.7 214.4L151.4 213.5L152.2 212.7L152.9 212.3L153.7 212.1L154.4 212.4L155.2 213.0L155.9 213.0L156.7 212.9L157.4 213.6L158.2 214.6L158.9 214.7L159.7 214.4L160.4 214.0L161.2 213.3L161.9 212.8L162.7 212.9L163.4 213.4L164.2 212.7L164.9 211.9L165.7 212.1L166.4 212.2L167.2 211.3L167.9 210.6L168.7 211.0L169.4 212.0L170.2 212.8L170.9 212.9L171.7 212.3L172.4 211.8L173.2 211.9L173.9 212.1L174.7 212.0L175.4 211.3L176.2 210.5L176.9 210.2L177.7 210.4L178.4 210.8L179.2 211.1L179.9 211.1L180.7 211.2L181.4 210.9L182.2 210.2L182.9 210.3L183.7 211.3L184.4 211.8L185.2 211.8L185.9 211.2L186.7 210.8L187.4 210.8L188.2 210.8L188.9 210.9L189.7 211.6L190.4 212.1L191.2 212.4L191.9 212.5L192.7 212.2L193.4 212.3L194.2 212.8L194.9 213.0L195.7 212.4L196.4 212.0L197.2 212.2L197.9 212.3L198.7 212.0L199.4 212.4L200.2 213.3L200.9 213.3L201.7 212.6L202.4 212.0L203.2 211.6L203.9 211.2L204.7 211.1L205.4 211.5L206.2 212.2L206.9 212.7L207.7 212.6L208.4 212.1L209.2 211.9L209.9 212.3L210.7 212.4L211.4 212.2L212.2 212.6L212.9 213.2L213.7 213.1L214.4 213.0L215.2 213.3L215.9 213.4L216.7 214.0L217.4 214.8L218.2 215.3L218.9 215.9L219.7 215.7L220.4 215.0L221.2 214.7L221.9 215.2L222.7 215.7L223.4 215.7L224.2 215.5L224.9 215.8L225.7 215.9L226.4 215.7L227.2 215.7L227.9 215.4L228.7 215.3L229.4 215.9L230.2 216.2L230.9 215.7L231.7 215.7L232.4 216.0L233.2 216.2L233.9 216.4L234.7 216.4L235.4 216.2L236.2 216.0L236.9 215.9L237.7 215.7L238.4 215.3L239.2 215.1L239.9 215.3L240.7 215.5L241.4 215.2L242.2 215.2L242.9 215.5L243.7 215.3L244.4 214.8L245.2 214.7L245.9 214.9L246.7 214.8L247.4 214.3L248.2 214.2L248.9 214.6L249.7 214.8L250.4 214.8L251.2 214.8L251.9 214.8L252.7 214.5L253.4 214.3L254.2 214.3L254.9 214.6L255.7 214.8L256.4 214.6L257.1 214.3L257.9 214.2L258.6 214.6L259.4 215.2L260.1 215.7L260.9 216.0L261.6 216.1L262.4 216.2L263.1 216.3L263.9 216.7L264.6 216.8L265.4 216.4L266.1 216.3L266.9 216.5L267.6 216.1L268.4 215.9L269.1 215.8L269.9 215.8L270.6 216.3L271.4 216.6L272.1 216.4L272.9 216.2L273.6 216.8L274.4 217.3L275.1 217.3L275.9 217.1L276.6 216.6L277.4 215.9L278.1 215.3L278.9 215.7L279.6 216.2L280.4 216.4L281.1 216.5L281.9 216.2L282.6 216.2L283.4 216.5L284.1 216.8L284.9 217.2L285.6 217.6L286.4 218.1L287.1 218.5L287.9 218.6L288.6 218.9L289.4 218.8L290.1 218.3L290.9 218.1L291.6 218.3L292.4 218.2L293.1 218.1L293.9 218.3L294.6 218.6L295.4 218.4L296.1 218.0L296.9 217.7L297.6 217.6L298.4 217.9L299.1 218.2L299.9 218.4L300.6 218.6L301.4 218.4L302.1 218.1L302.9 217.8L303.6 217.9L304.4 218.2L305.1 218.4L305.9 218.4L306.6 218.5L307.4 218.0L308.1 217.8L308.9 217.9L309.6 218.1L310.4 218.1L311.1 217.5L311.9 217.1L312.6 217.6L313.4 218.3L314.1 218.2L314.9 217.8L315.6 218.0L316.4 218.4L317.1 218.7L317.9 218.6L318.6 218.4L319.4 218.8L320.1 219.3L320.9 219.1L321.6 218.6L322.4 218.6L323.1 219.3L323.9 219.7L324.6 219.7L325.4 219.6L326.1 219.7L326.9 219.7L327.6 219.5L328.4 219.5L329.1 219.5L329.9 219.9L330.6 220.3L331.4 220.0L332.1 219.6L332.9 219.4L333.6 219.4L334.4 219.6L335.1 219.6L335.9 219.5L336.6 219.3L337.4 219.5L338.1 219.8L338.9 219.6L339.6 219.4L340.4 219.4L341.1 219.5L341.9 219.5L342.6 219.5L343.4 219.8L344.1 219.9L344.9 219.9L345.6 219.7L346.4 219.8L347.1 220.2L347.9 220.6L348.6 221.1L349.4 220.9L350.1 220.4L350.9 220.2L351.6 220.4L352.4 220.5L353.1 220.7L353.9 221.4L354.6 222.1" stroke="#4a38d0" stroke-width="1.05"/>
<path d="M73.4 319.9L74.2 308.2L74.9 298.3L75.7 290.8L76.4 284.9L77.2 280.1L77.9 275.5L78.7 271.7L79.4 268.4L80.2 264.8L80.9 260.1L81.7 254.9L82.4 251.0L83.2 247.7L83.9 244.8L84.7 241.6L85.4 237.9L86.2 234.2L86.9 230.9L87.7 227.9L88.4 225.5L89.2 223.3L89.9 221.5L90.7 220.1L91.4 218.8L92.2 218.2L92.9 218.1L93.7 218.2L94.4 218.1L95.2 216.8L95.9 214.8L96.7 213.1L97.4 212.0L98.2 212.0L98.9 212.1L99.7 212.1L100.4 211.9L101.2 210.7L101.9 209.2L102.7 208.6L103.4 207.6L104.2 206.3L104.9 205.9L105.7 206.4L106.4 206.2L107.2 206.7L107.9 209.7L108.7 207.2L109.4 204.5L110.2 202.2L110.9 200.6L111.7 200.0L112.4 200.0L113.2 200.2L113.9 200.5L114.7 200.3L115.4 199.5L116.2 199.2L116.9 199.7L117.7 200.3L118.4 200.1L119.2 199.2L119.9 198.5L120.7 198.8L121.4 198.8L122.2 197.6L122.9 197.0L123.7 198.1L124.4 198.8L125.2 198.4L125.9 197.7L126.7 197.7L127.4 197.9L128.2 198.0L128.9 200.7L129.7 204.7L130.4 203.0L131.2 201.5L131.9 200.3L132.7 200.2L133.4 200.1L134.2 198.8L134.9 197.5L135.7 197.6L136.4 198.6L137.2 201.1L137.9 204.8L138.7 203.6L139.4 201.9L140.2 200.4L140.9 199.1L141.7 198.5L142.4 197.9L143.2 197.1L143.9 196.6L144.7 196.2L145.4 196.4L146.2 197.3L146.9 198.6L147.7 199.6L148.4 199.8L149.2 199.4L149.9 198.5L150.7 198.4L151.4 198.9L152.2 198.8L152.9 198.5L153.7 198.3L154.4 198.1L155.2 197.3L155.9 197.3L156.7 198.7L157.4 200.0L158.2 200.1L158.9 200.0L159.7 200.3L160.4 201.0L161.2 201.2L161.9 200.5L162.7 199.9L163.4 199.9L164.2 200.0L164.9 199.8L165.7 199.2L166.4 198.8L167.2 199.1L167.9 199.6L168.7 199.8L169.4 200.2L170.2 200.4L170.9 200.2L171.7 200.1L172.4 200.5L173.2 201.4L173.9 201.8L174.7 201.1L175.4 200.2L176.2 200.3L176.9 200.4L177.7 200.1L178.4 200.1L179.2 200.1L179.9 199.6L180.7 199.6L181.4 200.3L182.2 200.5L182.9 200.2L183.7 199.5L184.4 198.9L185.2 198.9L185.9 199.1L186.7 199.2L187.4 199.2L188.2 199.2L188.9 199.5L189.7 200.3L190.4 201.1L191.2 201.1L191.9 200.3L192.7 200.0L193.4 200.5L194.2 201.1L194.9 201.6L195.7 201.6L196.4 200.9L197.2 200.2L197.9 200.0L198.7 200.1L199.4 200.7L200.2 201.2L200.9 201.5L201.7 201.7L202.4 201.1L203.2 200.2L203.9 200.1L204.7 200.3L205.4 200.5L206.2 200.6L206.9 200.2L207.7 199.7L208.4 199.5L209.2 199.6L209.9 199.6L210.7 199.5L211.4 200.1L212.2 200.9L212.9 200.4L213.7 199.8L214.4 200.1L215.2 200.4L215.9 200.1L216.7 199.5L217.4 199.5L218.2 199.9L218.9 199.1L219.7 198.3L220.4 198.9L221.2 199.9L221.9 199.9L222.7 199.3L223.4 199.0L224.2 199.1L224.9 199.1L225.7 199.3L226.4 199.7L227.2 199.7L227.9 199.5L228.7 199.5L229.4 199.4L230.2 198.9L230.9 198.9L231.7 198.9L232.4 198.5L233.2 198.6L233.9 198.9L234.7 199.0L235.4 199.0L236.2 198.9L236.9 199.1L237.7 199.6L238.4 199.7L239.2 199.1L239.9 198.4L240.7 198.8L241.4 199.5L242.2 199.6L242.9 199.4L243.7 199.4L244.4 199.5L245.2 199.5L245.9 199.6L246.7 199.8L247.4 199.6L248.2 199.0L248.9 198.3L249.7 198.6L250.4 199.2L251.2 198.9L251.9 198.4L252.7 198.2L253.4 198.1L254.2 197.9L254.9 198.0L255.7 198.9L256.4 199.9L257.1 200.0L257.9 199.6L258.6 199.3L259.4 199.3L260.1 199.2L260.9 199.0L261.6 198.5L262.4 198.5L263.1 198.7L263.9 198.6L264.6 198.2L265.4 198.2L266.1 198.6L266.9 199.0L267.6 199.8L268.4 200.0L269.1 199.4L269.9 199.9L270.6 204.8L271.4 204.2L272.1 201.8L272.9 200.6L273.6 200.3L274.4 200.3L275.1 200.4L275.9 200.5L276.6 199.9L277.4 199.5L278.1 199.5L278.9 198.8L279.6 198.2L280.4 198.4L281.1 198.8L281.9 198.9L282.6 198.8L283.4 198.6L284.1 198.8L284.9 199.3L285.6 199.6L286.4 199.8L287.1 200.0L287.9 200.3L288.6 200.5L289.4 200.3L290.1 200.3L290.9 200.3L291.6 200.0L292.4 199.5L293.1 199.2L293.9 199.2L294.6 199.3L295.4 199.5L296.1 199.4L296.9 198.9L297.6 198.5L298.4 198.8L299.1 199.5L299.9 199.9L300.6 199.8L301.4 199.8L302.1 199.7L302.9 199.6L303.6 199.5L304.4 199.6L305.1 199.6L305.9 199.2L306.6 199.0L307.4 199.3L308.1 199.4L308.9 199.1L309.6 198.9L310.4 199.0L311.1 199.2L311.9 199.3L312.6 199.2L313.4 198.8L314.1 198.5L314.9 198.3L315.6 198.5L316.4 199.2L317.1 199.4L317.9 198.8L318.6 198.3L319.4 198.4L320.1 198.7L320.9 198.9L321.6 199.0L322.4 199.0L323.1 199.2L323.9 199.3L324.6 198.8L325.4 198.7L326.1 199.1L326.9 199.5L327.6 199.3L328.4 198.8L329.1 198.7L329.9 199.2L330.6 201.9L331.4 208.0L332.1 205.6L332.9 203.1L333.6 201.5L334.4 200.8L335.1 200.5L335.9 200.4L336.6 200.1L337.4 199.6L338.1 199.4L338.9 199.2L339.6 198.9L340.4 199.0L341.1 199.4L341.9 199.9L342.6 200.0L343.4 199.7L344.1 199.6L344.9 199.5L345.6 199.3L346.4 199.4L347.1 199.7L347.9 199.7L348.6 199.4L349.4 199.3L350.1 199.4L350.9 199.2L351.6 198.8L352.4 198.5L353.1 198.2L353.9 198.1L354.6 198.1" stroke="#dc2edc" stroke-width="1.05"/>
<path d="M74.3 320.3L75.0 308.4L75.8 298.5L76.5 291.2L77.3 285.2L78.0 279.9L78.8 275.5L79.5 271.8L80.3 268.0L81.0 264.4L81.8 260.0L82.5 255.4L83.3 252.1L84.0 249.2L84.8 245.8L85.5 242.0L86.3 238.1L87.0 234.5L87.8 231.1L88.5 227.9L89.3 225.6L90.0 224.0L90.8 223.0L91.5 222.1L92.3 221.2L93.0 219.7L93.8 217.8L94.5 216.5L95.3 216.4L96.0 216.5L96.8 216.2L97.5 215.3L98.3 214.3L99.0 213.2L99.8 211.0L100.5 208.9L101.3 208.4L102.0 208.6L102.8 207.8L103.5 206.4L104.3 205.2L105.0 204.5L105.8 204.1L106.5 203.8L107.3 204.8L108.0 208.1L108.8 206.9L109.5 205.2L110.3 204.4L111.0 204.0L111.8 203.1L112.5 201.9L113.3 201.3L114.0 201.2L114.8 201.4L115.5 201.9L116.3 201.8L117.0 200.6L117.8 200.1L118.5 200.2L119.3 199.5L120.0 198.9L120.8 198.7L121.5 198.0L122.3 198.6L123.0 199.8L123.8 200.2L124.5 200.1L125.3 199.4L126.0 198.3L126.8 198.1L127.5 199.2L128.3 199.9L129.1 201.1L129.8 203.0L130.6 200.5L131.3 199.6L132.1 198.7L132.8 197.8L133.6 196.8L134.3 196.4L135.1 197.4L135.8 198.1L136.6 198.3L137.3 201.5L138.1 207.0L138.8 205.9L139.6 203.2L140.3 202.0L141.1 201.2L141.8 200.6L142.6 200.7L143.3 201.0L144.1 200.4L144.8 200.0L145.6 200.5L146.3 201.2L147.1 201.2L147.8 201.2L148.6 201.1L149.3 200.6L150.1 199.8L150.8 199.3L151.6 199.2L152.3 199.5L153.1 199.5L153.8 199.7L154.6 200.3L155.3 201.1L156.1 201.0L156.8 200.4L157.6 199.9L158.3 199.6L159.1 200.1L159.8 201.2L160.6 201.7L161.3 201.5L162.1 201.0L162.8 200.7L163.6 200.8L164.3 200.9L165.1 200.5L165.8 200.0L166.6 200.1L167.3 200.6L168.1 201.2L168.8 201.0L169.6 199.9L170.3 199.4L171.1 199.4L171.8 199.2L172.6 198.9L173.3 199.3L174.1 200.0L174.8 200.2L175.6 200.2L176.3 200.1L177.1 199.9L177.8 200.0L178.6 200.4L179.3 200.6L180.1 199.7L180.8 198.8L181.6 199.0L182.3 199.3L183.1 200.0L183.8 200.3L184.6 200.4L185.3 201.1L186.1 201.6L186.8 201.4L187.6 200.8L188.3 200.4L189.1 200.8L189.8 201.6L190.6 202.2L191.3 202.2L192.1 202.1L192.8 201.8L193.6 201.0L194.3 200.7L195.1 201.2L195.8 201.6L196.6 201.6L197.3 201.9L198.1 201.8L198.8 201.5L199.6 201.8L200.3 201.8L201.1 201.3L201.8 200.7L202.6 200.3L203.3 200.2L204.1 200.2L204.8 200.0L205.6 199.7L206.3 199.8L207.1 200.3L207.8 201.2L208.6 201.3L209.3 200.4L210.1 199.7L210.8 200.0L211.6 200.4L212.3 200.5L213.1 200.4L213.8 199.9L214.6 199.2L215.3 199.0L216.1 199.4L216.8 199.9L217.6 200.6L218.3 201.1L219.1 201.2L219.8 200.7L220.6 200.2L221.3 200.6L222.1 201.4L222.8 201.3L223.6 201.1L224.3 201.5L225.1 201.8L225.8 201.6L226.6 201.1L227.3 200.9L228.1 200.5L228.8 199.8L229.6 199.7L230.3 199.9L231.1 199.7L231.8 199.2L232.6 199.2L233.3 199.6L234.1 199.7L234.8 199.6L235.6 199.8L236.3 200.1L237.1 199.9L237.8 199.2L238.6 198.7L239.3 198.9L240.1 199.4L240.8 199.7L241.6 199.9L242.3 200.2L243.1 200.3L243.8 200.2L244.6 199.7L245.3 199.3L246.1 199.2L246.8 199.3L247.6 199.4L248.3 199.6L249.1 199.6L249.8 199.3L250.6 199.1L251.3 199.2L252.1 199.6L252.8 199.6L253.6 199.0L254.3 199.0L255.1 199.7L255.8 200.1L256.6 199.9L257.3 199.1L258.1 198.4L258.8 198.3L259.6 198.4L260.3 198.3L261.1 197.9L261.8 198.1L262.6 198.8L263.3 199.1L264.1 199.2L264.8 199.6L265.6 199.8L266.3 199.5L267.1 199.3L267.8 199.5L268.6 199.6L269.3 199.6L270.1 200.0L270.8 203.8L271.6 203.7L272.3 202.2L273.1 201.4L273.8 200.4L274.6 199.7L275.3 199.4L276.1 199.7L276.8 199.8L277.6 199.5L278.3 199.3L279.1 199.2L279.8 199.3L280.6 199.6L281.3 199.6L282.1 199.7L282.8 199.9L283.6 199.8L284.3 199.2L285.1 198.7L285.8 198.6L286.6 198.8L287.3 199.1L288.1 199.3L288.8 199.4L289.6 199.9L290.3 200.7L291.1 201.0L291.8 200.6L292.6 200.2L293.3 199.8L294.1 199.7L294.8 199.7L295.6 199.7L296.3 199.6L297.1 199.7L297.8 199.7L298.6 199.7L299.3 199.7L300.1 199.5L300.8 199.3L301.6 199.1L302.3 199.3L303.1 199.5L303.8 199.3L304.6 198.9L305.3 198.9L306.1 198.9L306.8 198.9L307.6 199.1L308.3 199.4L309.1 199.4L309.8 199.2L310.6 199.3L311.3 199.6L312.1 199.6L312.8 199.3L313.6 199.3L314.3 199.4L315.1 199.4L315.8 199.8L316.6 200.0L317.3 199.9L318.1 199.7L318.8 199.5L319.6 199.4L320.3 199.6L321.1 199.7L321.8 199.6L322.6 199.7L323.3 199.6L324.1 199.2L324.8 198.9L325.6 199.1L326.3 199.2L327.1 199.0L327.8 199.1L328.6 198.9L329.3 198.2L330.1 198.2L330.8 201.0L331.6 206.9L332.3 204.7L333.1 202.4L333.8 201.3L334.6 200.4L335.3 199.7L336.1 199.5L336.8 199.6L337.6 199.9L338.3 200.2L339.1 200.1L339.8 199.8L340.6 199.6L341.3 199.4L342.1 199.6L342.8 199.8L343.6 199.9L344.3 200.1L345.1 200.2L345.8 200.0L346.6 199.7L347.3 199.6L348.1 199.6L348.8 199.7L349.6 199.7L350.3 199.7L351.1 199.7L351.8 199.5L352.6 199.1L353.3 199.2L354.1 199.6L354.8 199.4" stroke="#c8189a" stroke-width="1.05"/>
</g>
<text x="23.3" y="212.5" font-size="3.3" text-anchor="end" class="tk">0.8</text>
<text x="23.3" y="236.3" font-size="3.3" text-anchor="end" class="tk">0.78</text>
<text x="23.3" y="260.4" font-size="3.3" text-anchor="end" class="tk">0.76</text>
<text x="23.3" y="284.4" font-size="3.3" text-anchor="end" class="tk">0.74</text>
<text x="23.3" y="308.4" font-size="3.3" text-anchor="end" class="tk">0.72</text>
<text x="64.3" y="325.0" font-size="3.3" text-anchor="middle" class="tk">0</text>
<text x="103.0" y="325.0" font-size="3.3" text-anchor="middle" class="tk">20k</text>
<text x="141.7" y="325.0" font-size="3.3" text-anchor="middle" class="tk">40k</text>
<text x="180.4" y="325.0" font-size="3.3" text-anchor="middle" class="tk">60k</text>
<text x="219.1" y="325.0" font-size="3.3" text-anchor="middle" class="tk">80k</text>
<text x="257.8" y="325.0" font-size="3.3" text-anchor="middle" class="tk">100k</text>
<text x="296.5" y="325.0" font-size="3.3" text-anchor="middle" class="tk">120k</text>
<text x="335.2" y="325.0" font-size="3.3" text-anchor="middle" class="tk">140k</text>
<text x="10.9" y="192.5" font-size="5.7" class="ax">mIoU</text>
<text x="200.0" y="333.7" font-size="5.7" text-anchor="middle" class="ax">Steps</text>
<path d="M22.3 339.4h12.3" stroke="#e3e162" stroke-width="1.0" opacity="0.88"/>
<text x="37.9" y="341.1" font-size="5.22" class="lg">patch4_em24_win09</text>
<path d="M22.3 351.8h12.3" stroke="#e8b020" stroke-width="1.9" opacity="0.62"/>
<text x="37.9" y="353.5" font-size="5.22" class="lg">patch4_em24_win18</text>
<path d="M117.7 339.4h12.3" stroke="#2edc4c" stroke-width="1.0" opacity="0.88"/>
<text x="133.3" y="341.1" font-size="5.22" class="lg">patch4_em96_win09</text>
<path d="M117.7 351.8h12.3" stroke="#55b45a" stroke-width="1.9" opacity="0.62"/>
<text x="133.3" y="353.5" font-size="5.22" class="lg">patch4_em96_win18</text>
<path d="M213.1 339.4h12.3" stroke="#55b2dc" stroke-width="1.0" opacity="0.88"/>
<text x="228.7" y="341.1" font-size="5.22" class="lg">patch2_em24_win09</text>
<path d="M213.1 351.8h12.3" stroke="#4a38d0" stroke-width="1.9" opacity="0.62"/>
<text x="228.7" y="353.5" font-size="5.22" class="lg">patch2_em24_win18</text>
<path d="M308.5 339.4h12.3" stroke="#dc2edc" stroke-width="1.0" opacity="0.88"/>
<text x="324.1" y="341.1" font-size="5.22" class="lg">patch2_em96_win09</text>
<path d="M308.5 351.8h12.3" stroke="#c8189a" stroke-width="1.9" opacity="0.62"/>
<text x="324.1" y="353.5" font-size="5.22" class="lg">patch2_em96_win18</text>
<text x="192.8" y="365.4" font-size="9.6" text-anchor="middle" class="cp">(b)</text>
</g>
<g>
<path d="M20.3 372.2H380.0V498.8" fill="none" stroke="#ececec" stroke-width="0.7"/>
<path d="M20.3 400.0H382.5" stroke="#e0e0e0" stroke-width="0.7"/>
<path d="M20.3 428.3H382.5" stroke="#e0e0e0" stroke-width="0.7"/>
<path d="M20.3 456.4H382.5" stroke="#e0e0e0" stroke-width="0.7"/>
<path d="M20.3 484.6H382.5" stroke="#e0e0e0" stroke-width="0.7"/>
<path d="M60.3 372.2V498.8" stroke="#c6c6c6" stroke-width="0.9"/>
<path d="M100.1 372.2V498.8" stroke="#e0e0e0" stroke-width="0.7"/>
<path d="M140.0 372.2V498.8" stroke="#e0e0e0" stroke-width="0.7"/>
<path d="M179.8 372.2V498.8" stroke="#e0e0e0" stroke-width="0.7"/>
<path d="M219.6 372.2V498.8" stroke="#e0e0e0" stroke-width="0.7"/>
<path d="M259.4 372.2V498.8" stroke="#e0e0e0" stroke-width="0.7"/>
<path d="M299.3 372.2V498.8" stroke="#e0e0e0" stroke-width="0.7"/>
<path d="M339.1 372.2V498.8" stroke="#e0e0e0" stroke-width="0.7"/>
<path d="M20.3 372.2V498.8H381.0" fill="none" stroke="#d2d2d2" stroke-width="0.75"/>
<clipPath id="clip3"><rect x="20.3" y="372.2" width="359.7" height="126.90000000000002"/></clipPath>
<g clip-path="url(#clip3)" fill="none" stroke-linejoin="round" stroke-linecap="round">
<path d="M73.8 501.1L76.5 486.1L77.2 478.1L78.0 473.1L78.8 472.4L79.5 470.3L80.2 467.6L81.0 465.7L81.8 465.7L82.5 464.3L83.2 462.0L84.0 459.8L84.8 459.9L85.5 457.7L86.2 455.7L87.0 457.1L87.8 455.4L88.5 451.0L89.2 449.6L90.0 447.3L90.8 444.7L91.5 444.7L92.2 446.5L93.0 440.7L93.8 439.0L94.5 437.9L95.2 439.0L96.0 440.4L96.8 440.4L97.5 437.8L98.2 435.9L99.0 436.7L99.8 435.8L100.5 436.1L101.2 436.6L102.0 433.8L102.8 433.2L103.5 432.5L104.2 433.0L105.0 434.1L105.8 433.8L106.5 434.5L107.2 433.0L108.0 430.3L108.8 430.6L109.5 430.4L110.2 429.8L111.0 428.8L111.8 429.6L112.5 429.1L113.2 426.6L114.0 424.2L114.8 424.2L115.5 424.5L116.2 423.8L117.0 424.1L117.8 425.8L118.5 424.7L119.2 422.0L120.0 422.4L120.8 420.8L121.5 420.8L122.2 421.5L123.0 422.5L123.8 422.9L124.5 424.2L125.2 424.4L126.0 423.5L126.8 423.7L127.5 423.2L128.2 421.7L129.0 420.7L129.8 422.4L130.5 424.8L131.2 423.3L132.0 421.9L132.8 419.6L133.5 421.3L134.2 422.7L135.0 421.3L135.8 422.1L136.5 422.8L137.2 422.4L138.0 423.3L138.8 423.2L139.5 421.2L140.2 419.3L141.0 420.3L141.8 418.0L142.5 415.8L143.2 415.1L144.0 417.8L144.8 418.0L145.5 416.7L146.2 418.6L147.0 418.6L147.8 419.4L148.5 419.7L149.2 419.7L150.0 418.7L150.8 417.5L151.5 418.2L152.2 418.5L153.0 417.3L153.8 415.0L154.5 414.4L155.2 415.0L156.0 417.3L156.8 417.7L157.5 417.5L158.2 416.6L159.0 416.9L159.8 416.9L160.5 416.4L161.2 417.1L162.0 417.2L162.8 415.4L163.5 416.3L164.2 419.5L165.0 419.6L165.8 418.5L166.5 416.6L167.2 415.6L168.0 417.1L168.8 417.2L169.5 416.3L170.2 415.7L171.0 416.8L171.8 416.9L172.5 416.1L173.2 418.0L174.0 418.4L174.8 416.5L175.5 418.0L176.2 416.5L177.0 419.4L177.8 417.4L178.5 417.9L179.2 418.6L180.0 417.9L180.8 417.6L181.5 416.8L182.2 414.6L183.0 417.6L183.8 419.0L184.5 417.4L185.2 416.7L186.0 417.5L186.8 417.4L187.5 417.2L188.2 418.1L189.0 419.9L189.8 418.4L190.5 417.2L191.2 417.2L192.0 417.0L192.8 417.9L193.5 417.3L194.2 416.8L195.0 417.5L195.8 418.4L196.5 417.6L197.2 418.0L198.0 418.8L198.8 417.7L199.5 416.6L200.2 417.4L201.0 418.7L201.8 418.3L202.5 418.1L203.2 417.7L204.0 416.0L204.8 415.0L205.5 414.9L206.2 416.3L207.0 416.5L207.8 415.7L208.5 416.1L209.2 415.6L210.0 416.8L210.8 418.6L211.5 418.1L212.2 416.4L213.0 416.9L213.8 416.4L214.5 416.3L215.2 416.7L216.0 418.7L216.8 418.9L217.5 417.9L218.2 417.6L219.0 417.6L219.8 418.8L220.5 419.0L221.2 419.0L222.0 420.6L222.8 418.5L223.5 418.4L224.2 420.2L225.0 420.7L225.8 419.0L226.5 418.2L227.2 418.5L228.0 418.2L228.8 417.9L229.5 419.2L230.2 419.6L231.0 420.5L231.8 419.1L232.5 418.9L233.2 419.8L234.0 418.9L234.8 417.8L235.5 419.6L236.2 420.2L237.0 419.1L237.8 418.4L238.5 418.7L239.2 420.8L240.0 420.0L240.8 419.3L241.5 419.7L242.2 419.2L243.0 419.3L243.8 419.6L244.5 419.1L245.2 419.2L246.0 419.0L246.8 419.0L247.5 420.5L248.2 420.7L249.0 420.1L249.8 420.3L250.5 420.4L251.2 420.4L252.0 421.1L252.8 421.4L253.5 419.7L254.2 419.9L255.0 418.9L255.8 418.3L256.5 420.1L257.2 420.6L258.0 420.3L258.8 420.1L259.5 421.3L260.2 421.7L261.0 419.7L261.8 419.5L262.5 419.6L263.2 419.1L264.0 418.9L264.8 419.0L265.5 419.9L266.2 421.3L267.0 419.6L267.8 419.6L268.5 419.9L269.2 419.2L270.0 418.7L270.8 419.6L271.5 419.8L272.2 420.0L273.0 419.6L273.8 420.3L274.5 420.3L275.2 419.5L276.0 420.1L276.8 420.0L277.5 420.0L278.2 420.4L279.0 420.7L279.8 419.9L280.5 419.9L281.2 420.4L282.0 420.8L282.8 420.2L283.5 420.8L284.2 421.4L285.0 421.2L285.8 421.6L286.5 420.5L287.2 420.1L288.0 419.5L288.8 421.8L289.5 420.3L290.2 420.2L291.0 420.1L291.8 419.9L292.5 420.2L293.2 419.5L294.0 420.3L294.8 420.5L295.5 421.3L296.2 422.5L297.0 422.9L297.8 421.8L298.5 421.5L299.2 421.0L300.0 421.0L300.8 422.0L301.5 421.9L302.2 421.3L303.0 421.3L303.8 421.5L304.5 421.8L305.2 421.7L306.0 421.5L306.8 422.1L307.5 422.3L308.2 422.9L309.0 423.1L309.8 423.0L310.5 421.9L311.2 421.7L312.0 422.8L312.8 423.9L313.5 422.9L314.2 422.3L315.0 422.2L315.8 421.8L316.5 422.1L317.2 422.6L318.0 422.9L318.8 422.5L319.5 422.9L320.2 422.3L321.0 420.7L321.8 420.6L322.5 421.6L323.2 422.6L324.0 422.0L324.8 422.1L325.5 420.9L326.2 420.9L327.0 421.8L327.8 423.1L328.5 422.1L329.2 420.7L330.0 420.4L330.8 421.3L331.5 421.5L332.2 421.0L333.0 421.9L333.8 422.9L334.5 421.9L335.2 420.9L336.0 421.2L336.8 421.3L337.5 421.1L338.2 421.6L339.0 422.7L339.8 422.2L340.5 422.8L341.2 420.9L342.0 420.8L342.8 423.3L343.5 422.1L344.2 422.2L345.0 420.5L345.8 419.2L346.5 420.1L347.2 420.5L348.0 420.8L348.8 421.2L349.5 421.9L350.2 420.8L351.0 421.0L351.8 421.7L352.5 422.4L353.2 421.2L354.0 420.2L354.8 421.1L355.5 421.2L356.2 420.8L357.0 420.2L357.8 420.5L358.5 420.7" stroke="#e3e162" stroke-width="0.75" opacity="0.3"/>
<path d="M76.0 501.1L78.7 485.0L79.5 480.3L80.2 475.8L81.0 471.9L81.7 469.9L82.5 468.1L83.2 465.7L84.0 464.0L84.7 462.1L85.5 460.8L86.2 460.6L87.0 464.9L87.7 461.6L88.5 460.2L89.2 458.3L90.0 457.7L90.7 453.2L91.5 448.9L92.2 447.8L93.0 451.5L93.7 445.9L94.5 444.2L95.2 444.1L96.0 442.6L96.7 441.0L97.5 439.7L98.2 438.8L99.0 437.2L99.7 437.4L100.5 438.0L101.2 437.3L102.0 436.8L102.7 438.1L103.5 437.8L104.2 433.5L105.0 432.5L105.7 433.6L106.5 433.1L107.2 432.4L108.0 431.5L108.7 431.3L109.5 430.2L110.2 429.5L111.0 430.7L111.7 429.6L112.5 427.8L113.2 428.3L114.0 429.1L114.7 430.3L115.5 428.0L116.2 427.4L117.0 427.3L117.7 429.2L118.5 428.6L119.2 428.0L120.0 427.8L120.7 424.7L121.5 421.7L122.2 421.5L123.0 423.2L123.7 421.3L124.5 421.1L125.2 422.3L126.0 422.9L126.7 422.9L127.5 421.3L128.2 421.8L128.9 422.1L129.7 423.0L130.4 424.4L131.2 424.7L131.9 424.1L132.7 422.7L133.4 422.7L134.2 423.2L134.9 421.2L135.7 421.3L136.4 421.4L137.2 422.4L137.9 422.7L138.7 422.2L139.4 421.7L140.2 419.6L140.9 417.1L141.7 415.8L142.4 417.7L143.2 419.0L143.9 418.5L144.7 419.3L145.4 420.4L146.2 419.4L146.9 417.9L147.7 418.0L148.4 419.0L149.2 417.7L149.9 417.3L150.7 418.4L151.4 419.2L152.2 418.0L152.9 418.0L153.7 417.6L154.4 417.0L155.2 418.6L155.9 419.3L156.7 417.3L157.4 417.0L158.2 416.6L158.9 416.4L159.7 414.5L160.4 417.3L161.2 418.8L161.9 419.0L162.7 419.0L163.4 418.5L164.2 416.9L164.9 417.2L165.7 418.8L166.4 418.5L167.2 416.9L167.9 417.3L168.7 418.0L169.4 418.1L170.2 417.0L170.9 416.4L171.7 417.1L172.4 417.8L173.2 417.6L173.9 418.6L174.7 417.1L175.4 414.2L176.2 413.1L176.9 414.5L177.7 416.9L178.4 417.7L179.2 418.1L179.9 418.2L180.7 420.1L181.4 417.8L182.2 417.1L182.9 417.6L183.7 417.2L184.4 417.1L185.2 418.2L185.9 417.9L186.7 417.8L187.4 418.1L188.2 418.9L188.9 418.9L189.7 418.4L190.4 417.6L191.2 417.2L191.9 417.5L192.7 417.4L193.4 417.7L194.2 417.2L194.9 417.1L195.7 417.3L196.4 417.3L197.2 418.1L197.9 418.8L198.7 417.8L199.4 417.4L200.2 417.8L200.9 416.8L201.7 417.0L202.4 417.3L203.2 416.7L203.9 416.6L204.7 415.6L205.4 416.8L206.2 418.1L206.9 416.4L207.7 415.0L208.4 417.2L209.2 416.9L209.9 416.0L210.7 416.9L211.4 417.5L212.2 417.8L212.9 418.6L213.7 421.2L214.4 423.6L215.2 423.5L215.9 424.3L216.7 424.8L217.4 424.1L218.2 423.3L218.9 424.0L219.7 424.8L220.4 424.3L221.2 423.4L221.9 421.6L222.7 422.0L223.4 422.2L224.2 422.1L224.9 421.1L225.7 422.0L226.4 422.5L227.2 421.5L227.9 421.0L228.7 421.0L229.4 421.4L230.2 420.6L230.9 420.0L231.7 420.2L232.4 421.3L233.2 421.7L233.9 421.5L234.7 422.2L235.4 422.6L236.2 421.9L236.9 421.0L237.7 420.1L238.4 419.7L239.2 421.0L239.9 421.3L240.7 422.5L241.4 422.7L242.2 421.1L242.9 419.7L243.7 420.8L244.4 420.7L245.2 420.6L245.9 421.1L246.7 421.4L247.4 420.6L248.2 421.2L248.9 422.1L249.7 422.2L250.4 420.0L251.2 419.1L251.9 420.5L252.7 421.7L253.4 421.4L254.2 419.9L254.9 419.4L255.7 419.4L256.4 419.1L257.2 418.8L257.9 419.0L258.7 419.8L259.4 419.7L260.2 419.6L260.9 421.2L261.7 421.8L262.4 421.4L263.2 422.0L263.9 423.2L264.7 424.0L265.4 424.8L266.2 424.2L266.9 423.6L267.7 423.6L268.4 423.7L269.2 424.2L269.9 424.2L270.7 424.0L271.4 424.0L272.2 425.1L272.9 425.3L273.7 425.0L274.4 424.4L275.2 424.8L275.9 423.8L276.7 423.7L277.4 424.6L278.2 424.1L278.9 423.1L279.7 422.6L280.4 424.3L281.2 422.9L281.9 422.3L282.7 423.5L283.4 423.6L284.2 422.9L284.9 422.7L285.7 422.7L286.4 422.8L287.2 422.5L287.9 422.8L288.7 422.5L289.4 421.4L290.2 421.3L290.9 422.5L291.7 422.6L292.4 422.1L293.2 422.1L293.9 421.9L294.7 421.7L295.4 421.4L296.2 421.4L296.9 423.1L297.7 423.7L298.4 422.7L299.2 422.3L299.9 421.8L300.7 422.9L301.4 423.0L302.2 421.6L302.9 421.7L303.7 422.9L304.4 423.6L305.2 423.3L305.9 423.6L306.7 423.3L307.4 423.8L308.2 423.7L308.9 424.2L309.7 423.9L310.4 424.2L311.2 424.9L311.9 424.7L312.7 424.2L313.4 423.3L314.2 423.5L314.9 423.9L315.7 425.2L316.4 424.5L317.2 423.4L317.9 423.4L318.7 423.9L319.4 424.8L320.2 424.6L320.9 424.2L321.7 422.8L322.4 423.4L323.2 424.4L323.9 423.1L324.7 423.0L325.4 423.5L326.2 424.4L326.9 425.3L327.7 424.8L328.4 423.6L329.2 425.0L329.9 426.2L330.7 425.4L331.4 423.9L332.2 424.2L332.9 423.9L333.7 423.7L334.4 423.6L335.2 423.6L335.9 424.2L336.7 424.0L337.4 424.7L338.2 425.2L338.9 424.6L339.7 424.0L340.4 424.0L341.2 424.4L341.9 424.3L342.7 423.9L343.4 424.0L344.2 423.6L344.9 424.1L345.7 423.8L346.4 423.5L347.2 424.7L347.9 424.2L348.7 424.2L349.4 424.4L350.2 424.7L350.9 425.4L351.7 424.9L352.4 423.9L353.2 424.3L353.9 424.1L354.7 424.5L355.4 423.8L356.2 424.4L356.9 423.8L357.7 423.4L358.4 424.3" stroke="#e8b020" stroke-width="0.75" opacity="0.3"/>
<path d="M70.5 501.1L73.2 472.5L74.0 468.4L74.7 463.4L75.5 457.8L76.2 452.9L77.0 451.0L77.7 449.3L78.5 447.4L79.2 445.1L80.0 443.1L80.7 441.0L81.5 440.3L82.2 436.9L83.0 434.7L83.7 434.3L84.5 432.9L85.2 431.2L86.0 428.3L86.7 426.2L87.5 427.0L88.2 424.7L89.0 421.7L89.7 422.0L90.5 422.7L91.2 423.6L92.0 420.7L92.7 420.3L93.5 419.4L94.2 419.4L95.0 418.5L95.7 417.3L96.5 416.8L97.2 416.8L98.0 417.9L98.7 416.0L99.5 412.1L100.2 412.5L101.0 412.4L101.7 410.3L102.5 408.6L103.2 409.3L104.0 411.0L104.7 409.7L105.5 411.2L106.2 412.8L107.0 418.2L107.7 422.5L108.5 415.8L109.2 411.5L110.0 414.0L110.7 413.5L111.5 412.9L112.2 412.2L113.0 409.7L113.7 407.6L114.5 406.8L115.2 408.0L116.0 408.0L116.7 407.4L117.5 405.4L118.2 404.9L119.0 404.2L119.7 405.6L120.5 406.4L121.2 407.8L122.0 407.5L122.7 405.4L123.5 404.1L124.2 404.6L125.0 404.9L125.7 406.3L126.5 405.8L127.2 406.9L128.0 407.0L128.7 406.2L129.4 407.6L130.2 408.9L130.9 409.4L131.7 411.6L132.4 411.2L133.2 409.0L133.9 407.4L134.7 409.5L135.4 408.6L136.2 405.8L136.9 407.1L137.7 408.1L138.4 412.5L139.2 409.7L139.9 408.2L140.7 408.3L141.4 409.7L142.2 408.9L142.9 409.5L143.7 408.9L144.4 409.2L145.2 409.9L145.9 409.3L146.7 409.1L147.4 407.7L148.2 407.9L148.9 407.7L149.7 408.0L150.4 409.3L151.2 407.4L151.9 408.1L152.7 408.3L153.4 408.9L154.2 409.4L154.9 409.5L155.7 407.8L156.4 406.9L157.2 406.8L157.9 408.7L158.7 410.1L159.4 411.1L160.2 409.9L160.9 407.8L161.7 407.0L162.4 405.7L163.2 406.7L163.9 407.9L164.7 408.3L165.4 408.7L166.2 407.1L166.9 406.5L167.7 407.6L168.4 408.2L169.2 407.8L169.9 407.7L170.7 409.4L171.4 409.7L172.2 411.5L172.9 409.1L173.7 407.7L174.4 409.1L175.2 409.8L175.9 410.8L176.7 406.1L177.4 406.4L178.2 407.3L178.9 406.3L179.7 407.5L180.4 407.6L181.2 407.1L181.9 406.8L182.7 408.9L183.4 409.5L184.2 407.9L184.9 408.8L185.7 413.2L186.4 416.1L187.2 413.0L187.9 411.6L188.7 410.3L189.4 409.8L190.2 409.2L190.9 409.3L191.7 410.4L192.4 409.8L193.2 408.7L193.9 410.7L194.7 412.1L195.4 409.3L196.2 408.2L196.9 408.5L197.7 409.9L198.4 409.0L199.2 406.8L199.9 407.6L200.7 409.6L201.4 409.7L202.2 409.3L202.9 408.5L203.7 407.6L204.4 409.0L205.2 409.6L205.9 407.9L206.7 408.9L207.4 408.7L208.2 407.8L208.9 407.8L209.7 407.4L210.4 408.0L211.2 409.0L211.9 408.6L212.7 407.6L213.4 407.3L214.2 407.4L214.9 406.5L215.7 407.7L216.4 409.0L217.2 408.5L217.9 408.6L218.7 408.9L219.4 409.5L220.2 410.3L220.9 414.2L221.7 414.5L222.4 410.4L223.2 407.6L223.9 408.0L224.7 407.9L225.4 407.5L226.2 407.1L226.9 407.2L227.7 406.4L228.4 406.2L229.2 408.3L229.9 408.2L230.7 408.0L231.4 407.4L232.2 406.8L232.9 406.9L233.7 406.6L234.4 407.8L235.2 408.3L235.9 408.7L236.7 408.8L237.4 407.9L238.2 406.2L238.9 407.1L239.7 408.4L240.4 409.0L241.2 409.3L241.9 408.2L242.7 408.3L243.4 407.5L244.2 407.5L244.9 408.5L245.7 407.4L246.4 406.5L247.2 406.3L247.9 406.5L248.7 407.0L249.4 407.1L250.2 406.3L250.9 406.9L251.7 407.1L252.4 407.1L253.2 407.4L253.9 406.7L254.7 406.6L255.4 406.9L256.2 407.8L256.9 407.4L257.7 406.3L258.4 407.7L259.2 408.3L259.9 409.1L260.7 411.1L261.4 413.1L262.2 409.9L262.9 408.0L263.7 408.8L264.4 408.4L265.2 407.4L265.9 408.1L266.7 407.5L267.4 406.5L268.2 405.9L268.9 405.5L269.7 406.8L270.4 407.5L271.2 407.1L271.9 408.0L272.7 408.1L273.4 407.4L274.2 407.2L274.9 407.4L275.7 408.1L276.4 408.5L277.2 407.5L277.9 407.3L278.7 406.9L279.4 406.1L280.2 405.9L280.9 406.6L281.7 406.1L282.4 405.7L283.2 407.6L283.9 411.2L284.7 410.7L285.4 406.8L286.2 406.0L286.9 406.7L287.7 406.2L288.4 406.5L289.2 406.9L289.9 407.8L290.7 408.1L291.4 407.5L292.2 406.6L292.9 406.4L293.7 407.1L294.4 407.9L295.2 407.6L295.9 407.5L296.7 407.4L297.4 406.7L298.2 406.6L298.9 407.2L299.7 406.5L300.4 406.0L301.2 406.4L301.9 407.0L302.7 406.6L303.4 407.5L304.2 408.4L304.9 408.1L305.7 408.8L306.4 407.7L307.2 406.1L307.9 406.2L308.7 407.0L309.4 407.3L310.2 406.5L310.9 406.3L311.7 406.1L312.4 406.3L313.2 405.6L313.9 406.2L314.7 406.0L315.4 406.5L316.2 407.8L316.9 405.5L317.7 406.2L318.4 406.1L319.2 406.7L319.9 406.8L320.7 405.1L321.4 405.1L322.2 406.1L322.9 406.7L323.7 406.7L324.4 406.5L325.2 407.8L325.9 408.0L326.7 407.1L327.4 407.1L328.2 407.1L328.9 408.1L329.7 408.2L330.4 406.4L331.2 406.6L331.9 406.7L332.7 407.2L333.4 408.6L334.2 412.5L334.9 410.8L335.7 406.7L336.4 406.3L337.2 407.0L337.9 406.6L338.7 406.7L339.4 406.5L340.2 407.1L340.9 406.9L341.7 406.9L342.4 407.1L343.2 406.7L343.9 406.2L344.7 406.3L345.4 406.6L346.2 406.7L346.9 406.0L347.7 405.5L348.4 406.8L349.2 411.0L349.9 417.3L350.7 417.4L351.4 411.1L352.2 407.6L352.9 407.1L353.7 406.1L354.4 405.8L355.2 406.5L355.9 405.4L356.7 405.9L357.4 406.8L358.2 406.3" stroke="#2edc4c" stroke-width="0.75" opacity="0.3"/>
<path d="M71.1 501.1L73.8 473.2L74.5 466.8L75.3 463.1L76.0 458.8L76.8 454.4L77.5 450.9L78.3 448.9L79.0 447.3L79.8 446.3L80.5 444.3L81.3 443.5L82.0 442.2L82.8 439.8L83.5 436.3L84.3 432.7L85.0 431.6L85.8 431.6L86.5 429.1L87.3 428.6L88.0 428.4L88.8 425.5L89.5 425.6L90.3 424.6L91.0 423.6L91.8 422.0L92.5 420.4L93.3 420.0L94.0 419.1L94.8 414.9L95.5 415.2L96.3 417.2L97.0 416.9L97.8 415.9L98.5 413.7L99.3 413.2L100.0 414.9L100.8 413.1L101.5 410.3L102.3 410.6L103.0 410.1L103.8 413.1L104.5 414.6L105.3 414.0L106.0 414.5L106.8 415.8L107.5 414.4L108.3 413.0L109.0 414.7L109.8 414.2L110.5 412.7L111.3 410.6L112.0 410.7L112.8 412.1L113.5 411.9L114.3 411.2L115.0 407.5L115.8 409.0L116.5 409.6L117.3 408.0L118.0 408.7L118.8 409.2L119.5 406.7L120.3 405.2L121.0 406.4L121.8 406.7L122.5 406.3L123.3 402.3L124.0 403.2L124.8 404.5L125.5 405.3L126.3 404.6L127.0 405.9L127.8 406.8L128.6 405.6L129.3 405.1L130.1 404.1L130.8 403.9L131.6 405.4L132.3 406.7L133.1 408.1L133.8 408.6L134.6 409.7L135.3 412.0L136.1 412.8L136.8 409.5L137.6 407.8L138.3 408.7L139.1 408.7L139.8 406.2L140.6 405.3L141.3 407.1L142.1 408.0L142.8 408.1L143.6 408.3L144.3 407.7L145.1 406.9L145.8 407.7L146.6 409.2L147.3 408.7L148.1 409.0L148.8 410.4L149.6 408.9L150.3 406.9L151.1 406.2L151.8 407.3L152.6 406.5L153.3 405.3L154.1 407.7L154.8 409.4L155.6 408.9L156.3 408.3L157.1 408.6L157.8 409.2L158.6 409.2L159.3 407.7L160.1 406.7L160.8 409.0L161.6 408.0L162.3 407.4L163.1 408.2L163.8 408.8L164.6 408.6L165.3 408.9L166.1 410.2L166.8 408.7L167.6 406.2L168.3 405.6L169.1 406.2L169.8 408.2L170.6 408.3L171.3 407.3L172.1 408.1L172.8 407.7L173.6 408.1L174.3 409.4L175.1 408.4L175.8 408.9L176.6 408.6L177.3 407.5L178.1 408.0L178.8 407.7L179.6 406.9L180.3 405.9L181.1 406.3L181.8 406.7L182.6 405.7L183.3 404.6L184.1 404.1L184.8 405.5L185.6 406.0L186.3 407.4L187.1 407.8L187.8 406.5L188.6 405.3L189.3 405.9L190.1 407.6L190.8 407.5L191.6 406.8L192.3 405.5L193.1 407.1L193.8 409.2L194.6 409.0L195.3 408.7L196.1 408.2L196.8 409.1L197.6 408.5L198.3 406.0L199.1 406.8L199.8 408.7L200.6 408.5L201.3 406.5L202.1 406.2L202.8 406.8L203.6 407.4L204.3 407.0L205.1 405.4L205.8 406.0L206.6 406.9L207.3 406.8L208.1 407.2L208.8 405.8L209.6 405.1L210.3 406.2L211.1 406.9L211.8 405.2L212.6 406.4L213.3 405.5L214.1 406.5L214.8 407.2L215.6 406.7L216.3 408.5L217.1 406.9L217.8 407.3L218.6 406.9L219.3 406.7L220.1 406.6L220.8 405.5L221.6 405.4L222.3 404.8L223.1 403.8L223.8 405.6L224.6 407.2L225.3 406.6L226.1 407.7L226.8 407.0L227.6 407.5L228.3 407.6L229.1 407.0L229.8 406.6L230.6 406.9L231.3 406.4L232.1 406.0L232.8 405.0L233.6 404.6L234.3 405.2L235.1 405.4L235.8 405.4L236.6 405.8L237.3 406.2L238.1 405.9L238.8 405.9L239.6 405.3L240.3 405.4L241.1 406.0L241.8 406.4L242.6 406.5L243.3 405.1L244.1 405.8L244.8 406.0L245.6 404.9L246.3 404.4L247.1 405.9L247.8 406.5L248.6 405.1L249.3 404.5L250.1 405.2L250.8 405.3L251.6 405.3L252.3 405.1L253.1 404.4L253.8 404.4L254.6 405.5L255.3 406.0L256.1 406.0L256.8 406.1L257.6 406.5L258.3 406.0L259.1 404.0L259.8 403.5L260.6 404.5L261.3 404.8L262.1 406.1L262.8 406.0L263.6 405.7L264.3 406.7L265.1 406.3L265.8 405.3L266.6 406.0L267.3 406.1L268.1 406.4L268.8 406.6L269.6 405.9L270.3 405.4L271.1 405.2L271.8 405.4L272.6 404.6L273.3 403.8L274.1 404.6L274.8 405.3L275.6 406.7L276.3 406.9L277.1 406.1L277.8 406.2L278.6 406.1L279.3 406.5L280.1 406.0L280.8 405.6L281.6 404.1L282.3 404.4L283.1 405.6L283.8 406.2L284.6 405.9L285.3 404.8L286.1 404.7L286.8 405.7L287.6 405.7L288.3 405.6L289.1 406.5L289.8 406.1L290.6 405.7L291.3 405.2L292.1 405.5L292.8 406.0L293.6 405.7L294.3 404.6L295.1 404.3L295.8 404.2L296.6 404.6L297.3 406.1L298.1 406.7L298.8 406.3L299.6 406.2L300.3 405.5L301.1 405.3L301.8 405.6L302.6 406.6L303.3 406.3L304.1 405.9L304.8 405.6L305.6 405.0L306.3 405.3L307.1 405.4L307.8 406.1L308.6 405.2L309.3 405.2L310.1 405.8L310.8 406.5L311.6 406.6L312.3 405.3L313.1 406.4L313.8 406.1L314.6 404.5L315.3 404.3L316.1 404.8L316.8 404.3L317.6 403.5L318.3 404.6L319.1 405.1L319.8 403.6L320.6 404.2L321.3 405.5L322.1 405.4L322.8 405.4L323.6 405.5L324.3 404.5L325.1 404.5L325.8 404.7L326.6 404.4L327.3 403.9L328.1 403.3L328.8 404.2L329.6 404.2L330.3 405.4L331.1 405.5L331.8 405.3L332.6 405.1L333.3 405.0L334.1 407.1L334.8 407.7L335.6 405.8L336.3 404.5L337.1 404.3L337.8 405.2L338.6 404.0L339.3 403.5L340.1 403.8L340.8 404.6L341.6 404.2L342.3 404.0L343.1 403.8L343.8 405.1L344.6 405.8L345.3 405.0L346.1 404.5L346.8 405.1L347.6 405.6L348.3 406.6L349.1 407.8L349.8 410.2L350.6 411.1L351.3 409.1L352.1 405.6L352.8 404.6L353.6 405.4L354.3 405.6L355.1 405.7L355.8 404.0L356.6 404.1L357.3 406.4L358.1 407.1" stroke="#55b45a" stroke-width="0.75" opacity="0.3"/>
<path d="M68.3 501.1L71.0 474.1L71.8 469.8L72.5 464.9L73.2 459.9L74.0 455.6L74.8 452.0L75.5 450.4L76.2 449.2L77.0 446.9L77.8 443.9L78.5 442.1L79.2 441.5L80.0 439.3L80.8 437.1L81.5 436.4L82.2 433.2L83.0 431.2L83.8 434.1L84.5 429.9L85.2 427.2L86.0 426.0L86.8 425.0L87.5 423.5L88.2 423.1L89.0 420.3L89.8 418.3L90.5 419.9L91.2 420.7L92.0 417.8L92.8 414.9L93.5 410.3L94.2 411.2L95.0 413.8L95.8 413.6L96.5 411.7L97.2 411.5L98.0 412.3L98.8 408.1L99.5 410.0L100.2 408.5L101.0 406.6L101.8 405.6L102.5 409.7L103.2 410.5L104.0 406.8L104.8 405.2L105.5 403.7L106.2 403.8L107.0 405.8L107.8 407.5L108.5 405.3L109.2 401.8L110.0 400.1L110.8 401.5L111.5 400.3L112.2 400.4L113.0 401.3L113.8 402.8L114.5 404.6L115.2 402.5L116.0 404.4L116.8 403.4L117.5 401.8L118.2 399.9L119.0 399.3L119.8 398.3L120.5 398.1L121.2 397.2L122.0 398.2L122.8 400.7L123.5 402.5L124.2 400.7L125.0 398.5L125.8 398.2L126.5 399.0L127.2 397.1L128.0 397.8L128.8 398.6L129.5 396.8L130.2 396.4L131.0 398.8L131.8 399.5L132.5 400.5L133.2 400.9L134.0 400.6L134.8 400.9L135.5 400.9L136.2 401.0L137.0 402.5L137.8 401.0L138.5 399.8L139.2 399.1L140.0 397.7L140.8 400.3L141.5 400.6L142.2 401.2L143.0 399.0L143.8 398.6L144.5 399.0L145.2 398.7L146.0 400.6L146.8 402.3L147.5 399.4L148.2 398.7L149.0 398.7L149.8 398.5L150.5 398.3L151.2 398.9L152.0 398.6L152.8 398.1L153.5 399.7L154.2 400.3L155.0 396.3L155.8 394.7L156.5 395.7L157.2 397.5L158.0 396.7L158.8 394.8L159.5 395.8L160.2 397.5L161.0 398.0L161.8 399.2L162.5 397.0L163.2 395.2L164.0 397.3L164.8 399.4L165.5 396.7L166.2 395.7L167.0 396.2L167.8 395.1L168.5 394.2L169.2 396.0L170.0 396.7L170.8 397.0L171.5 395.2L172.2 396.4L173.0 395.0L173.8 394.3L174.5 394.6L175.2 395.4L176.0 395.5L176.8 395.6L177.5 395.9L178.2 395.6L179.0 395.8L179.8 394.1L180.5 393.1L181.2 394.9L182.0 396.0L182.8 396.1L183.5 396.2L184.2 396.2L185.0 396.1L185.8 394.6L186.5 393.3L187.2 393.2L188.0 393.6L188.8 395.3L189.5 394.7L190.2 394.2L191.0 394.7L191.8 395.8L192.5 394.8L193.2 394.0L194.0 396.9L194.8 396.6L195.5 395.3L196.2 394.7L197.0 396.2L197.8 396.1L198.5 395.1L199.2 394.7L200.0 395.2L200.8 395.6L201.5 393.0L202.2 393.8L203.0 394.9L203.8 393.6L204.5 394.3L205.2 395.3L206.0 394.8L206.8 394.0L207.5 395.3L208.2 394.8L209.0 393.8L209.8 393.7L210.5 395.0L211.2 395.1L212.0 394.2L212.8 392.2L213.5 392.0L214.2 392.9L215.0 394.3L215.8 394.9L216.5 394.7L217.2 395.5L218.0 395.6L218.8 395.1L219.5 395.0L220.2 394.7L221.0 395.5L221.8 396.7L222.5 396.2L223.2 397.5L224.0 397.2L224.8 395.5L225.5 394.7L226.2 396.2L227.0 397.3L227.8 397.4L228.5 397.1L229.2 396.0L230.0 395.5L230.8 396.7L231.5 397.4L232.2 397.1L233.0 397.3L233.8 396.9L234.5 396.5L235.2 397.1L236.0 398.5L236.8 397.7L237.5 397.5L238.2 398.0L239.0 398.8L239.8 399.1L240.5 398.5L241.2 398.4L242.0 399.2L242.8 399.7L243.5 399.0L244.2 397.4L245.0 396.6L245.8 399.2L246.5 399.6L247.2 399.3L248.0 399.3L248.8 399.5L249.5 399.0L250.2 398.5L251.0 398.5L251.8 398.0L252.5 396.9L253.2 397.4L254.0 398.7L254.8 399.8L255.5 399.2L256.2 399.1L257.0 398.5L257.8 397.9L258.5 397.6L259.2 398.3L260.0 398.3L260.8 399.7L261.5 398.2L262.2 398.5L263.0 398.9L263.8 398.5L264.5 398.6L265.2 398.7L266.0 399.3L266.8 398.7L267.5 398.8L268.2 400.9L269.0 399.8L269.8 399.7L270.5 398.6L271.2 399.0L272.0 399.6L272.8 399.0L273.5 398.3L274.2 397.7L275.0 398.7L275.8 399.1L276.5 398.5L277.2 398.1L278.0 398.8L278.8 399.1L279.5 399.6L280.2 399.8L281.0 399.4L281.8 400.1L282.5 400.7L283.2 401.6L284.0 401.9L284.8 401.6L285.5 400.1L286.2 399.9L287.0 401.1L287.8 399.9L288.5 400.4L289.2 401.0L290.0 401.3L290.8 401.7L291.5 401.3L292.2 400.1L293.0 400.5L293.8 400.3L294.5 401.4L295.2 402.5L296.0 402.2L296.8 400.2L297.5 398.7L298.2 399.0L299.0 399.8L299.8 399.9L300.5 400.3L301.2 400.0L302.0 399.9L302.8 399.7L303.5 399.3L304.2 399.6L305.0 399.6L305.8 400.2L306.5 399.8L307.2 399.4L308.0 400.3L308.8 399.7L309.5 400.1L310.2 400.6L311.0 400.4L311.8 401.0L312.5 401.1L313.2 399.4L314.0 399.6L314.8 400.9L315.5 400.8L316.2 400.4L317.0 400.2L317.8 400.8L318.5 401.7L319.2 400.7L320.0 400.6L320.8 400.9L321.5 400.6L322.2 400.4L323.0 399.3L323.8 399.7L324.5 400.8L325.2 401.2L326.0 401.0L326.8 401.4L327.5 401.2L328.2 400.5L329.0 399.7L329.8 399.3L330.5 400.1L331.2 400.7L332.0 400.7L332.8 400.4L333.5 400.2L334.2 400.1L335.0 399.8L335.8 400.5L336.5 401.3L337.2 400.7L338.0 399.9L338.8 400.8L339.5 401.4L340.2 401.0L341.0 400.5L341.8 400.0L342.5 400.7L343.2 400.8L344.0 401.4L344.8 401.2L345.5 400.2L346.2 400.1L347.0 400.1L347.8 401.3L348.5 401.1L349.2 400.2L350.0 400.1L350.8 400.4L351.5 399.4L352.2 399.9L353.0 399.7L353.8 400.2L354.5 401.7L355.2 401.2L356.0 401.7L356.8 402.4L357.5 402.1L358.2 401.6" stroke="#55b2dc" stroke-width="0.75" opacity="0.3"/>
<path d="M68.8 501.1L71.5 475.6L72.2 469.9L73.0 464.8L73.8 460.2L74.5 456.3L75.2 451.3L76.0 449.9L76.8 448.6L77.5 446.8L78.2 445.8L79.0 444.4L79.8 443.2L80.5 441.1L81.2 435.9L82.0 433.4L82.8 434.2L83.5 434.8L84.2 432.6L85.0 430.3L85.8 430.1L86.5 428.6L87.2 427.4L88.0 423.6L88.8 420.5L89.5 419.4L90.2 419.2L91.0 418.7L91.8 418.1L92.5 415.9L93.2 413.7L94.0 413.5L94.8 415.8L95.5 415.3L96.2 410.7L97.0 410.0L97.8 410.7L98.5 408.6L99.2 404.6L100.0 407.3L100.8 409.5L101.5 408.1L102.2 408.7L103.0 408.7L103.8 408.0L104.5 406.3L105.2 408.0L106.0 407.7L106.8 408.0L107.5 407.9L108.2 404.4L109.0 402.4L109.8 401.7L110.5 402.2L111.2 404.4L112.0 404.5L112.8 403.7L113.5 404.0L114.2 401.0L115.0 398.9L115.8 399.3L116.5 400.7L117.2 403.1L118.0 403.3L118.8 404.3L119.5 402.6L120.2 400.9L121.0 400.4L121.8 400.7L122.5 402.2L123.2 404.4L124.0 402.7L124.8 401.8L125.5 401.1L126.2 399.3L127.0 402.0L127.8 403.5L128.5 402.6L129.2 400.9L130.0 398.7L130.8 398.1L131.5 399.4L132.2 402.6L133.0 404.9L133.8 403.7L134.5 402.2L135.2 402.0L136.0 403.3L136.8 405.4L137.5 406.1L138.2 402.9L139.0 403.5L139.8 402.4L140.5 401.7L141.2 401.1L142.0 402.5L142.8 399.0L143.5 397.9L144.2 398.9L145.0 399.7L145.8 398.5L146.5 396.6L147.2 397.8L148.0 397.6L148.8 400.3L149.5 399.9L150.2 399.6L151.0 397.9L151.8 397.9L152.5 399.4L153.2 399.0L154.0 399.9L154.8 400.6L155.5 399.8L156.2 399.9L157.0 399.7L157.8 400.6L158.5 400.1L159.2 398.5L160.0 399.1L160.8 399.9L161.5 399.0L162.2 398.7L163.0 398.2L163.8 397.2L164.5 397.7L165.2 397.1L166.0 396.6L166.8 399.2L167.5 398.9L168.2 397.2L169.0 397.1L169.8 398.1L170.5 397.9L171.2 397.4L172.0 396.9L172.8 398.4L173.5 396.8L174.2 396.5L175.0 396.5L175.8 394.9L176.5 395.2L177.2 397.3L178.0 398.7L178.8 398.2L179.5 397.8L180.2 397.9L181.0 395.9L181.8 396.1L182.5 397.3L183.2 396.5L184.0 395.5L184.8 395.3L185.5 396.2L186.2 397.5L187.0 396.4L187.8 396.6L188.5 398.0L189.2 398.6L190.0 397.4L190.8 395.8L191.5 396.1L192.2 396.7L193.0 396.3L193.8 397.2L194.5 398.2L195.2 397.9L196.0 396.2L196.8 396.5L197.5 397.6L198.2 397.6L199.0 398.3L199.8 397.4L200.5 397.0L201.2 396.6L202.0 397.8L202.8 397.0L203.5 397.2L204.2 397.2L205.0 397.9L205.8 397.9L206.5 397.8L207.2 398.7L208.0 399.8L208.8 399.3L209.5 399.7L210.2 399.2L211.0 399.0L211.8 399.0L212.5 399.4L213.2 398.9L214.0 398.7L214.8 400.1L215.5 399.9L216.2 399.7L217.0 400.7L217.8 401.4L218.5 400.6L219.2 399.2L220.0 400.7L220.8 401.0L221.5 399.2L222.2 399.1L223.0 399.2L223.8 399.5L224.5 401.0L225.2 400.9L226.0 399.6L226.8 399.1L227.5 398.8L228.2 399.5L229.0 400.2L229.8 401.2L230.5 401.2L231.2 400.5L232.0 399.8L232.8 399.8L233.5 399.6L234.2 398.4L235.0 400.2L235.8 401.2L236.5 399.4L237.2 398.7L238.0 399.6L238.8 401.0L239.5 401.9L240.2 401.4L241.0 401.0L241.8 399.6L242.5 398.5L243.2 398.4L244.0 399.8L244.8 399.3L245.5 398.8L246.2 399.9L247.0 400.1L247.8 398.8L248.5 400.0L249.2 398.4L250.0 398.9L250.8 398.9L251.5 399.8L252.2 400.0L253.0 399.8L253.8 399.8L254.5 400.4L255.2 400.0L256.0 399.9L256.8 401.0L257.5 400.5L258.2 399.6L259.0 399.5L259.8 400.5L260.5 401.8L261.2 400.5L262.0 398.5L262.8 398.9L263.5 399.6L264.2 400.1L265.0 399.8L265.8 399.4L266.5 400.4L267.2 400.3L268.0 400.1L268.8 401.1L269.5 401.3L270.2 400.4L271.0 400.2L271.8 400.3L272.5 400.7L273.2 400.8L274.0 400.6L274.8 399.7L275.5 399.2L276.2 399.3L277.0 400.5L277.8 401.8L278.5 400.5L279.2 400.2L280.0 401.5L280.8 401.4L281.5 402.3L282.2 403.3L283.0 402.6L283.8 401.1L284.5 402.2L285.2 401.6L286.0 402.0L286.8 402.8L287.5 403.2L288.2 403.4L289.0 403.4L289.8 403.2L290.5 404.0L291.2 404.9L292.0 405.6L292.8 403.6L293.5 402.7L294.2 401.7L295.0 401.0L295.8 402.5L296.5 404.1L297.2 403.8L298.0 401.3L298.8 400.9L299.5 402.4L300.2 402.2L301.0 403.4L301.8 403.0L302.5 402.7L303.2 402.2L304.0 401.5L304.8 401.6L305.5 401.6L306.2 402.4L307.0 402.7L307.8 402.6L308.5 402.8L309.2 402.4L310.0 402.4L310.8 402.2L311.5 402.3L312.2 402.5L313.0 403.4L313.8 404.5L314.5 404.4L315.2 403.7L316.0 402.9L316.8 403.3L317.5 403.3L318.2 402.5L319.0 402.6L319.8 403.4L320.5 403.7L321.2 404.3L322.0 404.1L322.8 404.2L323.5 404.2L324.2 403.4L325.0 403.3L325.8 403.3L326.5 403.2L327.2 404.3L328.0 403.7L328.8 403.1L329.5 402.7L330.2 402.2L331.0 402.7L331.8 403.0L332.5 402.2L333.2 401.9L334.0 404.0L334.8 404.4L335.5 403.9L336.2 402.2L337.0 401.5L337.8 402.2L338.5 402.2L339.2 401.4L340.0 401.0L340.8 402.0L341.5 402.1L342.2 402.6L343.0 404.0L343.8 403.4L344.5 402.8L345.2 403.1L346.0 404.1L346.8 404.6L347.5 404.0L348.2 403.7L349.0 404.3L349.8 404.8L350.5 404.4L351.2 404.4L352.0 404.9L352.8 403.9L353.5 403.4L354.2 404.2L355.0 404.5L355.8 404.8L356.5 404.8L357.2 405.3L358.0 404.8" stroke="#4a38d0" stroke-width="0.75" opacity="0.3"/>
<path d="M65.9 501.1L68.6 468.8L69.3 461.5L70.1 454.9L70.8 450.4L71.6 447.1L72.3 443.7L73.1 440.2L73.8 439.4L74.6 433.2L75.3 429.3L76.1 427.5L76.8 422.3L77.6 417.5L78.3 415.7L79.1 417.3L79.8 412.1L80.6 410.8L81.3 408.8L82.1 407.4L82.8 406.8L83.6 405.4L84.3 405.3L85.1 404.2L85.8 400.5L86.6 402.0L87.3 403.2L88.1 400.4L88.8 399.0L89.6 399.2L90.3 398.0L91.1 397.6L91.8 396.2L92.6 395.5L93.3 398.8L94.1 398.4L94.8 396.8L95.6 397.6L96.3 395.7L97.1 391.2L97.8 390.3L98.6 391.5L99.3 391.5L100.1 393.4L100.8 392.6L101.6 392.6L102.3 397.1L103.1 400.4L103.8 394.5L104.6 389.2L105.3 389.0L106.1 391.0L106.8 389.2L107.6 389.0L108.3 386.5L109.1 386.1L109.8 388.0L110.6 390.4L111.3 388.3L112.1 387.9L112.8 386.8L113.6 384.4L114.3 386.2L115.1 386.3L115.8 385.5L116.6 386.3L117.3 386.6L118.1 384.2L118.8 383.6L119.6 385.9L120.3 387.7L121.1 387.3L121.8 386.5L122.6 384.6L123.3 385.1L124.1 384.2L124.8 385.3L125.6 389.3L126.3 394.1L127.1 391.4L127.8 389.2L128.6 387.0L129.3 387.9L130.1 385.6L130.8 384.3L131.6 386.9L132.3 388.6L133.1 387.1L133.8 389.5L134.6 394.2L135.3 397.1L136.1 395.2L136.8 391.2L137.6 387.6L138.3 387.8L139.1 392.3L139.8 387.4L140.6 389.3L141.3 387.9L142.1 387.6L142.8 389.0L143.6 387.8L144.3 387.4L145.1 385.7L145.8 387.5L146.6 387.0L147.3 386.0L148.1 386.7L148.8 392.2L149.6 390.0L150.3 388.9L151.1 386.8L151.8 387.3L152.6 388.3L153.3 387.7L154.1 387.9L154.8 386.9L155.6 388.5L156.3 392.8L157.1 388.4L157.8 388.7L158.6 388.0L159.3 388.9L160.1 390.9L160.8 390.1L161.6 392.3L162.3 389.6L163.1 389.7L163.8 389.2L164.6 388.1L165.3 388.5L166.1 392.9L166.8 390.3L167.6 388.5L168.3 388.8L169.1 388.7L169.8 387.5L170.6 386.5L171.3 389.5L172.1 387.2L172.8 385.9L173.6 385.5L174.3 386.8L175.1 388.8L175.8 388.2L176.6 386.1L177.3 387.8L178.1 388.8L178.8 388.2L179.6 387.8L180.3 387.1L181.1 388.1L181.8 387.7L182.6 387.9L183.3 387.3L184.1 388.6L184.8 388.8L185.6 388.5L186.3 388.3L187.1 387.9L187.8 387.7L188.6 388.2L189.3 389.4L190.1 389.9L190.8 389.0L191.6 386.4L192.3 387.2L193.1 387.6L193.8 387.3L194.6 387.8L195.3 387.2L196.1 386.5L196.8 387.1L197.6 388.7L198.3 389.3L199.1 388.7L199.8 387.9L200.6 388.4L201.3 387.2L202.1 387.6L202.8 386.7L203.6 387.6L204.3 388.5L205.1 387.1L205.8 387.7L206.6 389.0L207.3 389.0L208.1 387.9L208.8 386.7L209.6 386.3L210.3 386.1L211.1 387.3L211.8 387.5L212.6 387.4L213.3 388.0L214.1 388.2L214.8 387.9L215.6 387.9L216.3 387.7L217.1 387.0L217.8 388.4L218.6 387.7L219.3 387.7L220.1 388.3L220.8 387.6L221.6 386.8L222.3 387.0L223.1 388.3L223.8 388.6L224.6 386.6L225.3 387.6L226.1 388.0L226.8 387.6L227.6 387.1L228.3 386.4L229.1 387.8L229.8 389.0L230.6 387.7L231.3 387.1L232.1 387.5L232.8 387.5L233.6 388.7L234.3 388.7L235.1 387.9L235.8 387.9L236.6 388.1L237.3 387.9L238.1 387.1L238.8 387.7L239.6 389.0L240.3 388.2L241.1 387.4L241.8 387.6L242.6 387.6L243.3 386.9L244.1 387.4L244.8 387.3L245.6 388.5L246.3 387.6L247.1 387.0L247.8 387.3L248.6 386.8L249.3 386.7L250.1 386.3L250.8 385.7L251.6 386.1L252.3 386.2L253.1 387.3L253.8 386.8L254.6 387.5L255.3 387.8L256.1 387.3L256.9 386.8L257.6 386.9L258.4 386.7L259.1 386.8L259.9 387.8L260.6 387.7L261.4 387.0L262.1 386.3L262.9 386.7L263.6 387.6L264.4 387.5L265.1 389.0L265.9 390.5L266.6 388.0L267.4 387.8L268.1 386.6L268.9 386.4L269.6 387.7L270.4 392.1L271.1 398.2L271.9 397.3L272.6 390.6L273.4 389.2L274.1 389.1L274.9 389.1L275.6 388.4L276.4 386.9L277.1 387.0L277.9 387.1L278.6 387.1L279.4 387.2L280.1 387.6L280.9 386.3L281.6 385.9L282.4 387.0L283.1 387.6L283.9 388.3L284.6 389.0L285.4 389.3L286.1 388.8L286.9 390.0L287.6 390.1L288.4 389.7L289.1 388.8L289.9 388.4L290.6 388.0L291.4 387.2L292.1 387.1L292.9 387.3L293.6 387.2L294.4 387.5L295.1 387.4L295.9 386.1L296.6 386.3L297.4 387.1L298.1 388.0L298.9 388.2L299.6 388.8L300.4 388.1L301.1 388.0L301.9 387.2L302.6 387.9L303.4 389.7L304.1 389.8L304.9 389.1L305.6 387.6L306.4 388.1L307.1 389.1L307.9 389.9L308.6 390.5L309.4 388.5L310.1 386.6L310.9 386.3L311.6 388.2L312.4 387.7L313.1 386.8L313.9 387.1L314.6 388.2L315.4 388.0L316.1 387.5L316.9 387.5L317.6 387.0L318.4 387.6L319.1 388.0L319.9 387.7L320.6 387.9L321.4 387.9L322.1 388.2L322.9 388.4L323.6 389.0L324.4 389.3L325.1 388.7L325.9 387.8L326.6 388.4L327.4 387.0L328.1 387.5L328.9 387.5L329.6 387.9L330.4 388.2L331.1 388.6L331.9 388.7L332.6 388.6L333.4 394.1L334.1 401.9L334.9 399.1L335.6 392.0L336.4 387.1L337.1 386.5L337.9 387.5L338.6 386.9L339.4 385.9L340.1 387.0L340.9 388.4L341.6 388.5L342.4 387.8L343.1 387.1L343.9 387.0L344.6 386.3L345.4 387.0L346.1 387.9L346.9 387.8L347.6 388.4L348.4 388.2L349.1 387.8L349.9 387.5L350.6 388.0L351.4 387.6L352.1 386.6L352.9 386.6L353.6 386.9L354.4 386.8L355.1 386.6L355.9 386.9L356.6 387.0L357.4 387.1L358.1 386.9" stroke="#dc2edc" stroke-width="0.75" opacity="0.3"/>
<path d="M66.8 501.1L69.5 468.3L70.2 459.3L71.0 452.9L71.8 448.9L72.5 445.8L73.2 443.5L74.0 441.3L74.8 438.5L75.5 435.2L76.2 430.5L77.0 428.1L77.8 423.5L78.5 418.5L79.2 417.7L80.0 416.3L80.8 415.0L81.5 414.4L82.2 411.9L83.0 409.5L83.8 408.1L84.5 406.8L85.2 404.8L86.0 404.6L86.8 406.3L87.5 405.1L88.2 402.8L89.0 407.2L89.8 404.5L90.5 404.6L91.2 402.8L92.0 400.9L92.8 399.8L93.5 397.6L94.2 398.3L95.0 397.9L95.8 396.2L96.5 396.0L97.2 396.0L98.0 392.9L98.8 392.4L99.5 390.3L100.2 391.8L101.0 392.9L101.8 394.8L102.5 398.8L103.2 401.5L104.0 397.0L104.8 396.0L105.5 392.0L106.2 388.6L107.0 390.6L107.8 390.9L108.5 389.8L109.2 389.9L110.0 389.5L110.8 388.5L111.5 391.1L112.2 391.0L113.0 388.0L113.8 387.9L114.5 386.7L115.2 386.8L116.0 385.1L116.8 383.5L117.5 389.4L118.2 388.3L119.0 385.3L119.8 384.4L120.5 384.7L121.2 384.7L122.0 384.3L122.8 383.5L123.5 384.7L124.2 385.4L125.0 385.6L125.8 390.4L126.5 395.3L127.2 393.1L128.0 388.7L128.8 387.3L129.5 386.4L130.2 383.8L131.0 380.4L131.8 381.8L132.5 384.6L133.2 389.1L134.0 393.7L134.8 398.9L135.5 401.9L136.2 398.9L137.0 394.5L137.8 390.1L138.5 387.0L139.2 386.0L140.0 386.9L140.8 388.1L141.5 385.8L142.2 387.4L143.0 387.4L143.8 387.5L144.5 388.3L145.2 389.4L146.0 390.5L146.8 391.1L147.5 389.0L148.2 387.4L149.0 387.7L149.8 387.2L150.5 388.3L151.2 389.7L152.0 387.9L152.8 388.2L153.5 388.6L154.2 389.4L155.0 388.3L155.8 388.0L156.5 390.0L157.2 391.4L158.0 388.9L158.8 387.2L159.5 388.0L160.2 389.2L161.0 388.6L161.8 389.6L162.5 388.8L163.2 389.0L164.0 389.2L164.8 389.6L165.5 389.8L166.2 389.2L167.0 388.6L167.8 386.7L168.5 386.7L169.2 387.0L170.0 387.6L170.8 389.0L171.5 389.7L172.2 389.3L173.0 389.1L173.8 389.0L174.5 389.3L175.2 389.5L176.0 389.4L176.8 387.8L177.5 388.8L178.2 390.1L179.0 389.9L179.8 389.1L180.5 388.1L181.2 388.8L182.0 388.1L182.8 388.7L183.5 390.6L184.2 391.9L185.0 389.2L185.8 387.5L186.5 387.3L187.2 387.4L188.0 387.9L188.8 389.0L189.5 389.2L190.2 389.0L191.0 390.0L191.8 389.5L192.5 389.1L193.2 389.9L194.0 389.1L194.8 389.1L195.5 389.5L196.2 388.1L197.0 388.5L197.8 387.6L198.5 387.2L199.2 388.2L200.0 388.2L200.8 386.7L201.5 387.3L202.2 388.0L203.0 388.6L203.8 387.8L204.5 387.1L205.2 386.9L206.0 386.7L206.8 389.4L207.5 388.3L208.2 385.5L209.0 385.2L209.8 386.4L210.5 388.2L211.2 388.0L212.0 386.6L212.8 386.4L213.5 387.6L214.2 387.3L215.0 387.3L215.8 387.4L216.5 388.0L217.2 388.7L218.0 388.5L218.8 388.1L219.5 386.4L220.2 388.0L221.0 389.8L221.8 387.5L222.5 386.1L223.2 386.1L224.0 386.6L224.8 386.9L225.5 388.2L226.2 388.5L227.0 388.2L227.8 388.8L228.5 386.6L229.2 387.7L230.0 387.9L230.8 387.8L231.5 387.6L232.2 388.7L233.0 387.4L233.8 386.2L234.5 386.5L235.2 386.6L236.0 385.7L236.8 386.7L237.5 386.5L238.2 386.7L239.0 387.5L239.8 387.4L240.5 385.9L241.2 385.8L242.0 386.8L242.8 388.2L243.5 387.0L244.2 387.3L245.0 388.1L245.8 388.7L246.5 389.1L247.2 388.6L248.0 387.9L248.8 388.3L249.5 389.0L250.2 387.5L251.0 385.8L251.8 386.3L252.5 387.2L253.2 387.6L254.0 387.4L254.8 388.7L255.5 389.2L256.2 389.4L257.0 389.1L257.8 387.6L258.5 387.9L259.2 388.2L260.0 388.0L260.8 387.4L261.5 387.4L262.2 386.8L263.0 388.1L263.8 389.1L264.5 387.9L265.2 386.7L266.0 388.0L266.8 389.3L267.5 389.5L268.2 389.8L269.0 387.6L269.8 387.1L270.5 391.6L271.2 397.0L272.0 396.9L272.8 390.9L273.5 388.1L274.2 387.5L275.0 388.2L275.8 387.6L276.5 388.1L277.2 387.7L278.0 386.9L278.8 387.3L279.5 389.7L280.2 390.1L281.0 388.5L281.8 388.4L282.5 388.4L283.2 388.4L284.0 388.1L284.8 389.0L285.5 387.3L286.2 386.3L287.0 387.9L287.8 388.5L288.5 388.1L289.2 386.3L290.0 386.1L290.8 387.3L291.5 389.1L292.2 388.8L293.0 388.3L293.8 385.6L294.5 386.1L295.2 386.9L296.0 387.8L296.8 389.0L297.5 388.6L298.2 388.9L299.0 389.2L299.8 389.5L300.5 390.6L301.2 389.7L302.0 388.3L302.8 389.3L303.5 389.0L304.2 388.3L305.0 388.1L305.8 388.2L306.5 387.3L307.2 386.9L308.0 387.5L308.8 387.5L309.5 388.0L310.2 387.2L311.0 387.2L311.8 388.1L312.5 388.9L313.2 389.0L314.0 387.8L314.8 386.6L315.5 386.6L316.2 389.2L317.0 388.7L317.8 388.6L318.5 388.2L319.2 389.8L320.0 389.5L320.8 388.9L321.5 388.2L322.2 388.8L323.0 389.0L323.8 387.8L324.5 386.5L325.2 386.2L326.0 386.6L326.8 387.0L327.5 387.4L328.2 387.6L329.0 387.0L329.8 386.8L330.5 386.9L331.2 385.9L332.0 385.6L332.8 388.0L333.5 393.9L334.2 401.4L335.0 399.8L335.8 392.4L336.5 387.9L337.2 388.1L338.0 387.6L338.8 386.9L339.5 385.9L340.2 386.5L341.0 388.6L341.8 389.7L342.5 388.9L343.2 388.1L344.0 387.9L344.8 387.9L345.5 387.2L346.2 388.4L347.0 387.8L347.8 388.1L348.5 387.6L349.2 386.5L350.0 386.6L350.8 387.2L351.5 389.2L352.2 389.5L353.0 389.1L353.8 389.6L354.5 388.7L355.2 388.0L356.0 388.6L356.8 388.7L357.5 389.0L358.2 388.6" stroke="#c8189a" stroke-width="0.75" opacity="0.3"/>
<path d="M76.5 499.7L77.2 496.1L78.0 492.2L78.8 488.0L79.5 482.9L80.2 477.7L81.0 473.9L81.8 471.5L82.5 469.3L83.2 466.9L84.0 465.0L84.8 464.0L85.5 462.4L86.2 460.8L87.0 460.6L87.8 461.0L88.5 460.7L89.2 459.1L90.0 456.2L90.8 453.4L91.5 451.3L92.2 449.4L93.0 447.7L93.8 446.4L94.5 444.8L95.2 443.2L96.0 441.8L96.8 440.5L97.5 439.4L98.2 438.9L99.0 439.2L99.8 439.2L100.5 438.9L101.2 438.6L102.0 438.2L102.8 437.6L103.5 436.6L104.2 435.4L105.0 435.0L105.8 435.0L106.5 434.6L107.2 434.5L108.0 434.1L108.8 432.8L109.5 431.4L110.2 430.1L111.0 429.8L111.8 429.9L112.5 429.2L113.2 428.4L114.0 427.7L114.8 427.3L115.5 426.8L116.2 425.9L117.0 424.8L117.8 424.4L118.5 424.5L119.2 424.4L120.0 424.3L120.8 424.3L121.5 423.9L122.2 423.1L123.0 423.1L123.8 423.7L124.5 424.0L125.2 423.6L126.0 423.4L126.8 423.8L127.5 424.0L128.2 423.8L129.0 423.1L129.8 422.4L130.5 422.4L131.2 422.2L132.0 422.1L132.8 422.6L133.5 423.3L134.2 423.4L135.0 422.9L135.8 422.4L136.5 422.1L137.2 422.0L138.0 422.0L138.8 422.3L139.5 421.8L140.2 421.1L141.0 420.8L141.8 420.1L142.5 419.4L143.2 419.3L144.0 419.7L144.8 420.0L145.5 419.4L146.2 418.3L147.0 418.2L147.8 418.7L148.5 418.6L149.2 417.8L150.0 417.0L150.8 417.3L151.5 417.9L152.2 417.7L153.0 417.5L153.8 417.6L154.5 417.2L155.2 417.0L156.0 416.9L156.8 416.7L157.5 417.1L158.2 417.7L159.0 417.8L159.8 417.8L160.5 417.7L161.2 417.2L162.0 416.8L162.8 416.7L163.5 417.3L164.2 418.2L165.0 418.6L165.8 418.2L166.5 417.6L167.2 417.2L168.0 417.0L168.8 416.6L169.5 416.7L170.2 416.9L171.0 416.6L171.8 416.4L172.5 416.4L173.2 416.5L174.0 417.0L174.8 417.4L175.5 417.2L176.2 416.7L177.0 416.5L177.8 416.4L178.5 416.2L179.2 416.0L180.0 415.9L180.8 416.3L181.5 417.0L182.2 417.4L183.0 417.9L183.8 418.3L184.5 418.3L185.2 418.3L186.0 418.6L186.8 418.8L187.5 418.7L188.2 418.6L189.0 418.6L189.8 418.5L190.5 418.1L191.2 417.9L192.0 418.3L192.8 418.7L193.5 418.4L194.2 418.1L195.0 418.3L195.8 418.6L196.5 418.3L197.2 417.6L198.0 417.3L198.8 417.3L199.5 417.3L200.2 417.7L201.0 418.5L201.8 418.4L202.5 417.7L203.2 417.0L204.0 416.7L204.8 416.2L205.5 416.2L206.2 416.7L207.0 416.9L207.8 417.0L208.5 417.4L209.2 417.7L210.0 417.6L210.8 417.4L211.5 417.2L212.2 417.0L213.0 417.2L213.8 417.4L214.5 417.5L215.2 417.6L216.0 417.5L216.8 417.4L217.5 417.6L218.2 418.1L219.0 418.4L219.8 418.2L220.5 418.1L221.2 418.0L222.0 418.1L222.8 418.5L223.5 418.7L224.2 418.5L225.0 418.5L225.8 418.7L226.5 418.9L227.2 419.3L228.0 419.2L228.8 419.1L229.5 419.0L230.2 418.6L231.0 418.3L231.8 418.3L232.5 418.3L233.2 418.5L234.0 418.8L234.8 419.3L235.5 419.5L236.2 419.4L237.0 419.2L237.8 418.9L238.5 418.6L239.2 418.7L240.0 418.8L240.8 418.9L241.5 419.1L242.2 419.1L243.0 419.1L243.8 419.1L244.5 419.4L245.2 419.7L246.0 419.8L246.8 419.7L247.5 419.4L248.2 419.5L249.0 419.8L249.8 419.9L250.5 419.8L251.2 419.6L252.0 419.6L252.8 419.4L253.5 419.2L254.2 419.6L255.0 420.0L255.8 420.1L256.5 420.2L257.2 420.3L258.0 420.2L258.8 420.2L259.5 420.3L260.2 420.2L261.0 419.7L261.8 419.5L262.5 419.8L263.2 420.1L264.0 419.9L264.8 419.9L265.5 420.1L266.2 420.3L267.0 420.5L267.8 420.5L268.5 420.2L269.2 419.8L270.0 419.6L270.8 419.5L271.5 419.2L272.2 418.9L273.0 418.9L273.8 419.2L274.5 419.2L275.2 419.1L276.0 419.4L276.8 419.8L277.5 419.9L278.2 419.8L279.0 419.9L279.8 419.8L280.5 419.7L281.2 419.8L282.0 419.9L282.8 419.8L283.5 419.8L284.2 419.7L285.0 419.5L285.8 419.7L286.5 420.3L287.2 420.7L288.0 420.6L288.8 420.5L289.5 420.7L290.2 420.6L291.0 420.5L291.8 420.6L292.5 420.6L293.2 420.6L294.0 420.5L294.8 420.6L295.5 420.7L296.2 420.7L297.0 421.0L297.8 421.2L298.5 421.2L299.2 421.1L300.0 421.0L300.8 421.3L301.5 421.4L302.2 421.2L303.0 421.1L303.8 421.2L304.5 421.4L305.2 421.6L306.0 421.7L306.8 421.7L307.5 421.3L308.2 421.0L309.0 421.2L309.8 421.4L310.5 421.6L311.2 421.8L312.0 421.9L312.8 422.1L313.5 422.1L314.2 422.2L315.0 422.4L315.8 422.5L316.5 422.4L317.2 422.5L318.0 422.7L318.8 422.9L319.5 422.7L320.2 422.4L321.0 422.2L321.8 422.1L322.5 422.4L323.2 422.6L324.0 422.6L324.8 422.5L325.5 422.6L326.2 422.4L327.0 422.0L327.8 422.0L328.5 422.4L329.2 422.4L330.0 422.4L330.8 422.3L331.5 422.1L332.2 421.9L333.0 421.8L333.8 421.8L334.5 421.6L335.2 421.2L336.0 421.1L336.8 421.2L337.5 421.2L338.2 421.0L339.0 421.0L339.8 421.2L340.5 421.2L341.2 421.1L342.0 421.1L342.8 421.0L343.5 421.1L344.2 421.2L345.0 420.9L345.8 420.4L346.5 420.5L347.2 421.0L348.0 421.0L348.8 420.7L349.5 420.4L350.2 420.3L351.0 420.7L351.8 421.1L352.5 421.0L353.2 420.8L354.0 421.0L354.8 421.2L355.5 421.2L356.2 421.1L357.0 421.0L357.8 421.0L358.5 421.0" stroke="#e3e162" stroke-width="0.85"/>
<path d="M78.7 498.8L79.5 495.7L80.2 492.3L81.0 488.3L81.7 483.0L82.5 477.3L83.2 473.2L84.0 470.6L84.7 468.8L85.5 466.6L86.2 464.1L87.0 462.3L87.7 461.7L88.5 461.3L89.2 461.1L90.0 461.5L90.7 461.2L91.5 459.6L92.2 456.8L93.0 453.7L93.7 451.5L94.5 449.9L95.2 448.3L96.0 446.6L96.7 445.1L97.5 444.0L98.2 442.4L99.0 440.5L99.7 439.4L100.5 439.2L101.2 439.3L102.0 439.3L102.7 438.6L103.5 437.0L104.2 436.0L105.0 436.0L105.7 436.0L106.5 435.3L107.2 434.4L108.0 434.3L108.7 434.9L109.5 435.0L110.2 434.1L111.0 432.5L111.7 431.8L112.5 431.5L113.2 431.1L114.0 431.0L114.7 430.8L115.5 429.9L116.2 429.1L117.0 428.8L117.7 428.3L118.5 427.4L119.2 426.5L120.0 426.0L120.7 425.4L121.5 424.8L122.2 424.6L123.0 424.4L123.7 423.7L124.5 422.5L125.2 422.0L126.0 422.1L126.7 422.5L127.5 423.4L128.2 423.9L128.9 424.0L129.7 424.2L130.4 423.8L131.2 423.6L131.9 424.0L132.7 423.9L133.4 423.4L134.2 422.5L134.9 421.8L135.7 421.8L136.4 421.7L137.2 421.5L137.9 421.1L138.7 420.4L139.4 420.7L140.2 421.0L140.9 421.0L141.7 421.0L142.4 420.9L143.2 420.2L143.9 419.7L144.7 420.1L145.4 420.9L146.2 420.5L146.9 419.4L147.7 419.3L148.4 419.8L149.2 420.3L149.9 419.7L150.7 418.6L151.4 418.4L152.2 418.0L152.9 417.6L153.7 417.6L154.4 418.0L155.2 418.1L155.9 417.8L156.7 417.7L157.4 418.3L158.2 419.0L158.9 418.7L159.7 417.6L160.4 417.1L161.2 417.0L161.9 417.0L162.7 417.2L163.4 417.2L164.2 417.4L164.9 417.8L165.7 418.3L166.4 418.4L167.2 417.8L167.9 417.3L168.7 417.4L169.4 418.0L170.2 418.1L170.9 417.8L171.7 417.3L172.4 417.0L173.2 417.2L173.9 417.4L174.7 417.1L175.4 416.6L176.2 416.4L176.9 416.7L177.7 417.3L178.4 417.5L179.2 417.7L179.9 418.0L180.7 418.5L181.4 418.9L182.2 418.7L182.9 418.2L183.7 417.5L184.4 417.4L185.2 417.4L185.9 417.1L186.7 417.2L187.4 417.5L188.2 417.7L188.9 418.0L189.7 417.9L190.4 417.5L191.2 417.3L191.9 417.7L192.7 417.8L193.4 417.5L194.2 417.4L194.9 417.3L195.7 417.0L196.4 416.6L197.2 417.1L197.9 418.0L198.7 418.3L199.4 418.0L200.2 418.2L200.9 418.7L201.7 418.9L202.4 418.4L203.2 417.8L203.9 417.4L204.7 417.3L205.4 417.5L206.2 417.7L206.9 417.4L207.7 417.1L208.4 416.9L209.2 416.5L209.9 416.2L210.7 416.3L211.4 416.5L212.2 416.9L212.9 417.3L213.7 417.5L214.4 417.6L215.2 417.7L215.9 418.2L216.7 419.4L217.4 421.0L218.2 422.7L218.9 423.9L219.7 424.1L220.4 423.9L221.2 423.9L221.9 423.4L222.7 422.5L223.4 422.0L224.2 422.2L224.9 422.5L225.7 422.4L226.4 422.0L227.2 421.6L227.9 421.5L228.7 421.8L229.4 422.1L230.2 421.9L230.9 422.0L231.7 422.4L232.4 422.3L233.2 422.2L233.9 422.4L234.7 422.8L235.4 422.9L236.2 422.3L236.9 421.4L237.7 421.2L238.4 421.6L239.2 421.2L239.9 421.0L240.7 421.3L241.4 421.2L242.2 420.9L242.9 420.8L243.7 421.0L244.4 421.0L245.2 420.8L245.9 420.7L246.7 420.2L247.4 420.0L248.2 420.7L248.9 421.2L249.7 421.0L250.4 420.5L251.2 420.3L251.9 420.4L252.7 420.2L253.4 419.7L254.2 419.5L254.9 419.3L255.7 419.4L256.4 419.5L257.2 419.4L257.9 419.2L258.7 419.2L259.4 419.1L260.2 419.0L260.9 419.2L261.7 419.5L262.4 419.6L263.2 420.0L263.9 420.9L264.7 421.9L265.4 422.9L266.2 423.6L266.9 424.1L267.7 424.3L268.4 424.1L269.2 423.7L269.9 423.5L270.7 423.8L271.4 424.2L272.2 424.3L272.9 424.5L273.7 424.6L274.4 424.2L275.2 423.7L275.9 423.4L276.7 423.3L277.4 423.3L278.2 423.2L278.9 423.0L279.7 422.9L280.4 422.9L281.2 422.8L281.9 422.6L282.7 422.5L283.4 422.6L284.2 422.2L284.9 421.9L285.7 422.0L286.4 421.9L287.2 422.1L287.9 422.7L288.7 422.6L289.4 422.1L290.2 422.0L290.9 422.2L291.7 422.3L292.4 422.2L293.2 422.0L293.9 421.9L294.7 421.7L295.4 421.9L296.2 422.5L296.9 422.5L297.7 422.4L298.4 422.5L299.2 422.5L299.9 422.5L300.7 422.7L301.4 422.6L302.2 422.6L302.9 422.9L303.7 423.0L304.4 422.8L305.2 422.8L305.9 423.2L306.7 423.6L307.4 424.0L308.2 424.0L308.9 423.7L309.7 423.8L310.4 423.9L311.2 424.1L311.9 424.4L312.7 424.5L313.4 424.0L314.2 423.9L314.9 424.0L315.7 424.1L316.4 424.1L317.2 424.0L317.9 424.0L318.7 424.2L319.4 424.5L320.2 424.8L320.9 424.7L321.7 424.6L322.4 424.4L323.2 424.1L323.9 424.0L324.7 423.9L325.4 423.7L326.2 423.7L326.9 424.0L327.7 424.0L328.4 424.1L329.2 424.2L329.9 424.1L330.7 424.3L331.4 424.6L332.2 424.6L332.9 424.4L333.7 424.3L334.4 424.1L335.2 423.8L335.9 423.7L336.7 423.5L337.4 423.6L338.2 423.8L338.9 423.7L339.7 423.6L340.4 423.7L341.2 423.8L341.9 423.6L342.7 423.5L343.4 423.7L344.2 424.1L344.9 424.5L345.7 424.4L346.4 424.4L347.2 424.7L347.9 424.8L348.7 424.7L349.4 424.5L350.2 424.3L350.9 424.4L351.7 424.7L352.4 424.5L353.2 424.5L353.9 424.7L354.7 424.5L355.4 423.9L356.2 423.3L356.9 422.9L357.7 423.2L358.4 423.8" stroke="#e8b020" stroke-width="1.05"/>
<path d="M73.2 499.1L74.0 490.9L74.7 483.4L75.5 476.5L76.2 470.6L77.0 465.3L77.7 460.5L78.5 456.2L79.2 452.6L80.0 450.2L80.7 448.6L81.5 447.0L82.2 445.2L83.0 442.9L83.7 440.8L84.5 438.9L85.2 437.1L86.0 435.3L86.7 433.6L87.5 432.4L88.2 431.1L89.0 429.0L89.7 426.7L90.5 425.1L91.2 424.5L92.0 424.2L92.7 423.1L93.5 421.5L94.2 420.1L95.0 419.1L95.7 418.6L96.5 418.7L97.2 418.5L98.0 418.0L98.7 417.5L99.5 416.4L100.2 414.8L101.0 413.6L101.7 413.0L102.5 412.7L103.2 412.6L104.0 411.5L104.7 410.4L105.5 410.4L106.2 410.8L107.0 412.3L107.7 415.9L108.5 415.4L109.2 413.7L110.0 412.8L110.7 412.6L111.5 412.9L112.2 412.8L113.0 412.1L113.7 411.2L114.5 409.9L115.2 408.8L116.0 408.5L116.7 408.8L117.5 408.3L118.2 407.5L119.0 407.2L119.7 407.3L120.5 407.0L121.2 406.3L122.0 405.6L122.7 405.3L123.5 405.8L124.2 405.9L125.0 405.6L125.7 405.5L126.5 405.5L127.2 405.7L128.0 405.9L128.7 406.2L129.4 406.6L130.2 407.0L130.9 407.3L131.7 407.5L132.4 407.4L133.2 406.8L133.9 406.5L134.7 406.9L135.4 407.5L136.2 407.4L136.9 406.9L137.7 407.2L138.4 408.0L139.2 408.1L139.9 407.7L140.7 407.8L141.4 408.3L142.2 408.8L142.9 409.3L143.7 409.0L144.4 408.4L145.2 408.6L145.9 409.2L146.7 409.5L147.4 409.1L148.2 408.5L148.9 408.3L149.7 408.2L150.4 408.0L151.2 407.6L151.9 407.5L152.7 407.8L153.4 408.3L154.2 408.9L154.9 408.9L155.7 408.1L156.4 407.7L157.2 407.7L157.9 408.1L158.7 408.9L159.4 409.7L160.2 409.9L160.9 409.4L161.7 408.8L162.4 408.5L163.2 408.6L163.9 408.2L164.7 407.7L165.4 408.0L166.2 408.5L166.9 408.4L167.7 408.1L168.4 408.2L169.2 408.4L169.9 408.4L170.7 408.6L171.4 408.9L172.2 408.7L172.9 408.5L173.7 408.4L174.4 408.2L175.2 408.0L175.9 407.8L176.7 407.7L177.4 407.6L178.2 407.2L178.9 407.5L179.7 407.9L180.4 407.8L181.2 407.6L181.9 407.5L182.7 407.6L183.4 407.8L184.2 407.9L184.9 408.1L185.7 408.7L186.4 410.7L187.2 411.7L187.9 410.7L188.7 410.4L189.4 410.4L190.2 410.4L190.9 410.3L191.7 409.9L192.4 409.5L193.2 409.5L193.9 409.4L194.7 408.9L195.4 408.5L196.2 408.7L196.9 409.2L197.7 409.4L198.4 409.0L199.2 408.7L199.9 408.7L200.7 409.0L201.4 409.4L202.2 409.5L202.9 409.5L203.7 409.0L204.4 408.4L205.2 408.2L205.9 408.2L206.7 408.1L207.4 408.1L208.2 408.1L208.9 408.2L209.7 408.3L210.4 408.3L211.2 408.6L211.9 408.7L212.7 408.7L213.4 408.3L214.2 408.1L214.9 408.5L215.7 409.1L216.4 409.1L217.2 408.8L217.9 408.7L218.7 408.3L219.4 408.3L220.2 408.9L220.9 409.8L221.7 412.0L222.4 411.6L223.2 410.3L223.9 409.2L224.7 408.8L225.4 409.0L226.2 409.0L226.9 408.6L227.7 407.9L228.4 407.6L229.2 407.9L229.9 408.0L230.7 407.6L231.4 407.2L232.2 407.2L232.9 407.6L233.7 407.9L234.4 407.6L235.2 407.7L235.9 408.2L236.7 408.4L237.4 407.9L238.2 407.4L238.9 407.5L239.7 407.6L240.4 407.9L241.2 408.1L241.9 407.9L242.7 407.6L243.4 407.4L244.2 407.3L244.9 407.4L245.7 407.5L246.4 407.5L247.2 406.9L247.9 406.2L248.7 405.9L249.4 406.1L250.2 406.6L250.9 407.1L251.7 407.4L252.4 407.6L253.2 407.5L253.9 407.1L254.7 407.0L255.4 407.1L256.2 407.0L256.9 406.9L257.7 406.8L258.4 406.7L259.2 406.9L259.9 407.2L260.7 407.2L261.4 408.2L262.2 409.1L262.9 408.5L263.7 408.4L264.4 408.3L265.2 407.8L265.9 407.2L266.7 407.0L267.4 406.9L268.2 406.8L268.9 407.1L269.7 407.4L270.4 407.0L271.2 406.8L271.9 406.8L272.7 406.5L273.4 406.3L274.2 406.8L274.9 407.4L275.7 407.6L276.4 407.4L277.2 407.2L277.9 407.0L278.7 406.8L279.4 406.5L280.2 406.6L280.9 406.7L281.7 406.6L282.4 406.2L283.2 406.3L283.9 407.4L284.7 409.6L285.4 408.4L286.2 407.4L286.9 406.8L287.7 406.6L288.4 406.6L289.2 406.8L289.9 406.9L290.7 407.1L291.4 406.9L292.2 406.6L292.9 406.7L293.7 406.9L294.4 407.0L295.2 406.9L295.9 406.7L296.7 406.5L297.4 406.7L298.2 406.9L298.9 406.9L299.7 406.9L300.4 407.1L301.2 407.2L301.9 407.2L302.7 407.1L303.4 407.2L304.2 407.4L304.9 407.4L305.7 407.5L306.4 407.3L307.2 407.0L307.9 406.8L308.7 406.8L309.4 406.9L310.2 407.0L310.9 407.1L311.7 407.2L312.4 407.1L313.2 406.8L313.9 406.0L314.7 405.8L315.4 406.3L316.2 406.7L316.9 406.7L317.7 406.9L318.4 407.0L319.2 406.9L319.9 406.7L320.7 406.3L321.4 406.0L322.2 406.1L322.9 406.2L323.7 406.2L324.4 406.3L325.2 406.8L325.9 407.0L326.7 406.8L327.4 406.6L328.2 406.4L328.9 406.4L329.7 406.8L330.4 406.9L331.2 406.8L331.9 406.7L332.7 406.9L333.4 406.8L334.2 407.5L334.9 409.6L335.7 408.6L336.4 407.8L337.2 407.1L337.9 407.0L338.7 407.3L339.4 407.3L340.2 407.1L340.9 407.3L341.7 407.2L342.4 406.7L343.2 406.3L343.9 405.9L344.7 405.7L345.4 406.0L346.2 406.2L346.9 406.1L347.7 406.0L348.4 406.0L349.2 406.5L349.9 408.4L350.7 412.3L351.4 410.8L352.2 409.0L352.9 408.2L353.7 407.5L354.4 406.8L355.2 406.4L355.9 406.6L356.7 406.9L357.4 406.6L358.2 406.0" stroke="#2edc4c" stroke-width="1.05"/>
<path d="M73.8 499.1L74.5 490.8L75.3 483.3L76.0 476.6L76.8 470.8L77.5 465.5L78.3 461.0L79.0 456.8L79.8 453.2L80.5 450.7L81.3 448.8L82.0 447.3L82.8 445.3L83.5 442.6L84.3 440.2L85.0 438.1L85.8 435.9L86.5 434.3L87.3 433.6L88.0 433.0L88.8 431.8L89.5 430.3L90.3 429.1L91.0 427.8L91.8 426.0L92.5 424.0L93.3 422.7L94.0 421.9L94.8 421.0L95.5 420.6L96.3 419.9L97.0 418.8L97.8 418.2L98.5 417.5L99.3 416.5L100.0 415.7L100.8 415.6L101.5 415.3L102.3 414.4L103.0 413.5L103.8 413.3L104.5 413.8L105.3 413.8L106.0 413.2L106.8 412.6L107.5 412.9L108.3 413.1L109.0 413.4L109.8 414.2L110.5 414.3L111.3 413.4L112.0 412.8L112.8 412.3L113.5 411.9L114.3 412.0L115.0 411.7L115.8 411.2L116.5 410.4L117.3 409.3L118.0 408.9L118.8 409.1L119.5 408.8L120.3 408.6L121.0 408.2L121.8 407.1L122.5 406.4L123.3 406.4L124.0 405.7L124.8 405.2L125.5 405.5L126.3 405.9L127.0 405.8L127.8 405.6L128.6 405.7L129.3 405.7L130.1 405.9L130.8 406.0L131.6 406.4L132.3 407.2L133.1 407.6L133.8 407.5L134.6 407.7L135.3 408.5L136.1 409.4L136.8 409.6L137.6 409.2L138.3 409.3L139.1 409.0L139.8 408.2L140.6 407.6L141.3 407.4L142.1 407.9L142.8 408.5L143.6 408.7L144.3 408.6L145.1 408.0L145.8 407.5L146.6 407.9L147.3 408.4L148.1 408.6L148.8 409.0L149.6 408.8L150.3 408.3L151.1 408.3L151.8 408.1L152.6 407.6L153.3 408.4L154.1 409.2L154.8 409.2L155.6 409.3L156.3 409.2L157.1 408.7L157.8 408.4L158.6 408.2L159.3 408.5L160.1 408.6L160.8 408.2L161.6 407.9L162.3 407.7L163.1 408.0L163.8 408.5L164.6 408.5L165.3 408.3L166.1 408.3L166.8 408.4L167.6 408.3L168.3 408.7L169.1 409.2L169.8 408.9L170.6 408.9L171.3 409.4L172.1 408.9L172.8 408.0L173.6 407.7L174.3 407.9L175.1 408.3L175.8 408.1L176.6 407.2L177.3 407.0L178.1 407.2L178.8 407.3L179.6 407.4L180.3 407.8L181.1 408.2L181.8 408.2L182.6 407.5L183.3 406.7L184.1 406.4L184.8 406.6L185.6 407.0L186.3 407.2L187.1 407.5L187.8 407.8L188.6 407.7L189.3 407.6L190.1 407.8L190.8 408.0L191.6 408.1L192.3 408.1L193.1 408.1L193.8 408.2L194.6 408.5L195.3 409.0L196.1 409.0L196.8 408.4L197.6 407.7L198.3 407.4L199.1 407.2L199.8 407.4L200.6 408.0L201.3 408.5L202.1 408.2L202.8 407.7L203.6 407.0L204.3 406.9L205.1 407.3L205.8 407.0L206.6 406.7L207.3 406.5L208.1 406.1L208.8 406.0L209.6 406.4L210.3 406.5L211.1 406.7L211.8 407.0L212.6 407.0L213.3 406.8L214.1 406.5L214.8 406.3L215.6 406.8L216.3 407.6L217.1 407.5L217.8 406.5L218.6 405.9L219.3 406.0L220.1 406.2L220.8 406.3L221.6 406.5L222.3 406.2L223.1 406.1L223.8 406.3L224.6 406.6L225.3 406.9L226.1 407.1L226.8 406.6L227.6 406.4L228.3 406.2L229.1 405.7L229.8 405.4L230.6 405.2L231.3 405.3L232.1 405.8L232.8 406.0L233.6 405.7L234.3 405.6L235.1 405.3L235.8 405.0L236.6 405.2L237.3 406.0L238.1 406.5L238.8 406.3L239.6 406.1L240.3 406.2L241.1 406.4L241.8 406.2L242.6 405.7L243.3 405.0L244.1 405.0L244.8 405.3L245.6 405.6L246.3 405.8L247.1 405.9L247.8 405.8L248.6 405.6L249.3 405.6L250.1 405.6L250.8 405.3L251.6 405.2L252.3 405.5L253.1 405.8L253.8 406.0L254.6 405.8L255.3 405.6L256.1 405.3L256.8 405.3L257.6 406.0L258.3 406.3L259.1 405.8L259.8 405.4L260.6 405.1L261.3 404.9L262.1 405.1L262.8 405.7L263.6 406.0L264.3 405.9L265.1 405.9L265.8 405.6L266.6 405.4L267.3 405.6L268.1 405.9L268.8 405.8L269.6 405.6L270.3 405.8L271.1 405.7L271.8 405.2L272.6 404.7L273.3 404.8L274.1 405.2L274.8 405.7L275.6 406.0L276.3 405.9L277.1 405.7L277.8 405.9L278.6 406.6L279.3 406.7L280.1 406.5L280.8 406.1L281.6 405.7L282.3 405.7L283.1 406.1L283.8 406.3L284.6 405.9L285.3 405.6L286.1 405.4L286.8 405.2L287.6 405.3L288.3 405.5L289.1 405.8L289.8 406.0L290.6 406.0L291.3 405.8L292.1 405.7L292.8 405.5L293.6 405.1L294.3 405.1L295.1 405.4L295.8 405.7L296.6 405.8L297.3 405.8L298.1 405.8L298.8 406.0L299.6 406.1L300.3 406.0L301.1 405.7L301.8 405.3L302.6 405.4L303.3 405.9L304.1 406.1L304.8 406.3L305.6 406.4L306.3 406.1L307.1 405.7L307.8 405.6L308.6 405.6L309.3 405.7L310.1 405.5L310.8 405.3L311.6 405.5L312.3 405.6L313.1 405.6L313.8 405.4L314.6 405.3L315.3 405.4L316.1 405.3L316.8 404.8L317.6 404.6L318.3 404.7L319.1 404.6L319.8 404.4L320.6 404.5L321.3 404.7L322.1 404.7L322.8 404.7L323.6 404.7L324.3 404.8L325.1 404.8L325.8 404.7L326.6 404.7L327.3 404.6L328.1 404.3L328.8 404.3L329.6 404.5L330.3 404.9L331.1 405.0L331.8 404.8L332.6 404.9L333.3 405.0L334.1 405.3L334.8 406.5L335.6 405.8L336.3 405.3L337.1 405.1L337.8 404.8L338.6 404.7L339.3 404.8L340.1 404.6L340.8 404.4L341.6 404.5L342.3 404.5L343.1 404.6L343.8 404.8L344.6 404.8L345.3 404.9L346.1 405.3L346.8 405.5L347.6 405.5L348.3 405.6L349.1 405.9L349.8 406.4L350.6 407.7L351.3 407.6L352.1 406.8L352.8 406.3L353.6 406.0L354.3 405.9L355.1 405.8L355.8 405.5L356.6 405.5L357.3 405.9L358.1 405.9" stroke="#55b45a" stroke-width="1.05"/>
<path d="M71.0 499.2L71.8 492.0L72.5 485.0L73.2 478.6L74.0 473.3L74.8 467.9L75.5 462.4L76.2 457.5L77.0 453.4L77.8 450.4L78.5 447.8L79.2 445.8L80.0 444.6L80.8 443.9L81.5 442.8L82.2 440.8L83.0 438.6L83.8 436.6L84.5 435.4L85.2 434.4L86.0 432.7L86.8 430.6L87.5 428.4L88.2 426.1L89.0 424.6L89.8 424.0L90.5 423.3L91.2 422.2L92.0 420.8L92.8 419.2L93.5 417.5L94.2 416.2L95.0 415.3L95.8 414.3L96.5 413.5L97.2 412.9L98.0 412.2L98.8 411.8L99.5 411.9L100.2 411.5L101.0 410.0L101.8 408.9L102.5 409.3L103.2 409.0L104.0 407.5L104.8 406.2L105.5 406.2L106.2 407.2L107.0 407.9L107.8 407.7L108.5 407.0L109.2 405.7L110.0 404.4L110.8 404.0L111.5 403.9L112.2 403.5L113.0 404.1L113.8 404.9L114.5 404.2L115.2 403.0L116.0 402.4L116.8 401.2L117.5 400.2L118.2 400.6L119.0 401.6L119.8 402.1L120.5 401.0L121.2 399.3L122.0 398.6L122.8 399.0L123.5 399.3L124.2 399.1L125.0 399.0L125.8 399.4L126.5 399.7L127.2 399.5L128.0 399.2L128.8 398.9L129.5 399.4L130.2 400.2L131.0 400.3L131.8 399.8L132.5 399.3L133.2 399.0L134.0 399.0L134.8 399.4L135.5 400.4L136.2 400.9L137.0 400.5L137.8 400.0L138.5 399.8L139.2 399.6L140.0 399.3L140.8 399.1L141.5 399.0L142.2 399.0L143.0 398.9L143.8 398.6L144.5 398.8L145.2 400.1L146.0 401.1L146.8 400.9L147.5 400.6L148.2 400.9L149.0 401.2L149.8 400.9L150.5 400.5L151.2 400.4L152.0 400.4L152.8 399.9L153.5 399.0L154.2 398.2L155.0 398.0L155.8 398.0L156.5 397.7L157.2 397.5L158.0 397.6L158.8 397.5L159.5 397.0L160.2 397.2L161.0 397.9L161.8 398.1L162.5 397.7L163.2 397.1L164.0 397.5L164.8 398.4L165.5 398.2L166.2 397.8L167.0 397.6L167.8 396.9L168.5 396.4L169.2 396.8L170.0 397.1L170.8 396.9L171.5 396.4L172.2 395.8L173.0 395.8L173.8 396.3L174.5 396.6L175.2 396.7L176.0 397.0L176.8 396.9L177.5 396.6L178.2 396.2L179.0 395.7L179.8 395.2L180.5 395.0L181.2 395.1L182.0 395.1L182.8 395.4L183.5 395.8L184.2 396.1L185.0 396.1L185.8 395.1L186.5 394.0L187.2 393.9L188.0 394.5L188.8 395.1L189.5 395.1L190.2 394.8L191.0 394.3L191.8 394.0L192.5 394.4L193.2 395.1L194.0 395.3L194.8 394.8L195.5 394.6L196.2 394.8L197.0 395.1L197.8 395.0L198.5 394.9L199.2 395.0L200.0 394.8L200.8 394.6L201.5 394.7L202.2 394.8L203.0 394.6L203.8 394.2L204.5 394.1L205.2 394.6L206.0 394.9L206.8 395.0L207.5 394.6L208.2 394.1L209.0 394.0L209.8 394.1L210.5 394.2L211.2 394.2L212.0 394.0L212.8 394.0L213.5 394.6L214.2 394.9L215.0 394.8L215.8 394.9L216.5 395.1L217.2 394.8L218.0 394.9L218.8 395.5L219.5 395.9L220.2 395.8L221.0 395.3L221.8 394.4L222.5 394.1L223.2 394.9L224.0 395.5L224.8 395.5L225.5 395.6L226.2 395.9L227.0 396.5L227.8 396.4L228.5 396.1L229.2 396.4L230.0 396.7L230.8 396.9L231.5 397.4L232.2 397.5L233.0 397.3L233.8 397.1L234.5 397.2L235.2 397.6L236.0 397.8L236.8 397.8L237.5 397.8L238.2 397.9L239.0 398.1L239.8 398.5L240.5 398.8L241.2 398.9L242.0 398.8L242.8 398.6L243.5 398.5L244.2 398.6L245.0 398.9L245.8 398.8L246.5 398.5L247.2 398.6L248.0 399.1L248.8 399.5L249.5 399.4L250.2 399.2L251.0 399.0L251.8 398.6L252.5 398.2L253.2 398.3L254.0 398.2L254.8 398.2L255.5 398.7L256.2 398.8L257.0 398.5L257.8 398.1L258.5 398.0L259.2 398.4L260.0 398.7L260.8 398.6L261.5 398.5L262.2 398.5L263.0 398.7L263.8 398.7L264.5 398.6L265.2 398.6L266.0 398.7L266.8 398.5L267.5 398.4L268.2 398.7L269.0 398.9L269.8 399.0L270.5 398.8L271.2 398.4L272.0 398.6L272.8 399.3L273.5 399.3L274.2 398.8L275.0 398.6L275.8 398.8L276.5 399.0L277.2 399.3L278.0 399.4L278.8 399.4L279.5 399.4L280.2 399.4L281.0 399.4L281.8 399.8L282.5 400.3L283.2 400.8L284.0 400.7L284.8 400.4L285.5 400.3L286.2 400.4L287.0 400.2L287.8 399.8L288.5 399.6L289.2 399.9L290.0 400.3L290.8 400.4L291.5 400.5L292.2 400.6L293.0 400.6L293.8 400.4L294.5 400.1L295.2 400.2L296.0 400.1L296.8 399.5L297.5 399.2L298.2 399.5L299.0 399.6L299.8 399.4L300.5 399.4L301.2 399.6L302.0 399.8L302.8 400.1L303.5 400.2L304.2 400.1L305.0 400.0L305.8 400.0L306.5 399.9L307.2 400.0L308.0 400.2L308.8 400.2L309.5 400.2L310.2 400.3L311.0 400.0L311.8 399.9L312.5 400.0L313.2 399.7L314.0 399.6L314.8 399.7L315.5 399.9L316.2 399.9L317.0 399.9L317.8 400.1L318.5 400.6L319.2 400.7L320.0 400.4L320.8 400.2L321.5 400.1L322.2 399.7L323.0 399.4L323.8 399.4L324.5 399.6L325.2 399.7L326.0 399.9L326.8 400.4L327.5 400.8L328.2 401.0L329.0 400.8L329.8 400.7L330.5 400.5L331.2 400.5L332.0 400.9L332.8 400.9L333.5 400.4L334.2 399.9L335.0 399.7L335.8 399.6L336.5 399.5L337.2 399.5L338.0 399.7L338.8 400.1L339.5 400.2L340.2 400.2L341.0 400.1L341.8 400.4L342.5 400.6L343.2 400.4L344.0 400.1L344.8 400.2L345.5 400.3L346.2 400.4L347.0 400.4L347.8 400.6L348.5 400.8L349.2 401.1L350.0 401.4L350.8 401.6L351.5 401.4L352.2 401.1L353.0 400.8L353.8 400.7L354.5 400.8L355.2 401.0L356.0 401.0L356.8 401.0L357.5 401.0L358.2 401.0" stroke="#55b2dc" stroke-width="1.05"/>
<path d="M71.5 498.9L72.2 491.6L73.0 485.0L73.8 478.8L74.5 473.2L75.2 467.8L76.0 462.6L76.8 458.0L77.5 454.4L78.2 451.7L79.0 449.6L79.8 448.0L80.5 446.6L81.2 444.7L82.0 442.7L82.8 441.2L83.5 440.0L84.2 438.5L85.0 436.6L85.8 434.5L86.5 432.7L87.2 430.8L88.0 429.0L88.8 427.3L89.5 425.9L90.2 424.4L91.0 422.7L91.8 421.2L92.5 420.5L93.2 420.0L94.0 418.9L94.8 417.4L95.5 416.1L96.2 414.8L97.0 414.0L97.8 414.0L98.5 413.7L99.2 412.4L100.0 411.6L100.8 411.5L101.5 410.9L102.2 410.1L103.0 409.6L103.8 408.4L104.5 407.3L105.2 407.2L106.0 407.7L106.8 407.5L107.5 406.5L108.2 405.3L109.0 404.3L109.8 403.8L110.5 403.8L111.2 403.5L112.0 403.1L112.8 403.0L113.5 402.9L114.2 402.6L115.0 401.6L115.8 401.1L116.5 402.2L117.2 403.4L118.0 403.7L118.8 403.4L119.5 402.4L120.2 401.7L121.0 401.7L121.8 402.4L122.5 403.0L123.2 402.9L124.0 402.3L124.8 402.1L125.5 401.6L126.2 401.0L127.0 400.6L127.8 400.6L128.5 400.9L129.2 400.8L130.0 400.3L130.8 399.6L131.5 399.3L132.2 399.8L133.0 400.1L133.8 400.5L134.5 400.9L135.2 401.2L136.0 401.8L136.8 402.8L137.5 403.7L138.2 403.9L139.0 403.9L139.8 403.9L140.5 404.0L141.2 403.8L142.0 403.2L142.8 401.7L143.5 400.2L144.2 399.5L145.0 399.4L145.8 399.3L146.5 398.9L147.2 398.4L148.0 398.4L148.8 398.4L149.5 398.3L150.2 398.7L151.0 398.9L151.8 398.7L152.5 398.6L153.2 399.1L154.0 399.8L154.8 400.0L155.5 399.9L156.2 399.1L157.0 398.6L157.8 399.1L158.5 399.8L159.2 400.3L160.0 400.8L160.8 400.4L161.5 399.8L162.2 399.5L163.0 399.1L163.8 399.0L164.5 398.7L165.2 398.6L166.0 398.4L166.8 397.8L167.5 397.2L168.2 397.2L169.0 397.4L169.8 397.3L170.5 397.5L171.2 397.9L172.0 397.6L172.8 396.9L173.5 396.6L174.2 396.6L175.0 396.5L175.8 396.0L176.5 395.6L177.2 395.4L178.0 395.4L178.8 396.0L179.5 396.4L180.2 396.1L181.0 396.0L181.8 396.6L182.5 396.7L183.2 396.3L184.0 396.5L184.8 397.4L185.5 397.9L186.2 398.0L187.0 398.2L187.8 398.3L188.5 398.1L189.2 397.8L190.0 397.3L190.8 396.9L191.5 397.0L192.2 396.8L193.0 396.5L193.8 396.4L194.5 396.7L195.2 396.9L196.0 397.0L196.8 397.4L197.5 397.6L198.2 397.2L199.0 396.7L199.8 396.6L200.5 396.9L201.2 397.4L202.0 398.0L202.8 398.1L203.5 398.3L204.2 398.3L205.0 397.7L205.8 397.4L206.5 397.8L207.2 398.3L208.0 398.5L208.8 398.6L209.5 398.8L210.2 398.8L211.0 398.6L211.8 398.6L212.5 399.0L213.2 399.4L214.0 399.3L214.8 399.2L215.5 399.4L216.2 399.6L217.0 400.1L217.8 400.3L218.5 400.2L219.2 400.1L220.0 399.8L220.8 399.1L221.5 398.8L222.2 398.9L223.0 399.4L223.8 400.0L224.5 400.3L225.2 400.2L226.0 399.9L226.8 399.8L227.5 400.0L228.2 400.2L229.0 400.3L229.8 400.5L230.5 400.6L231.2 400.6L232.0 400.4L232.8 399.9L233.5 399.6L234.2 399.4L235.0 399.1L235.8 398.9L236.5 399.1L237.2 399.6L238.0 400.0L238.8 400.0L239.5 400.0L240.2 400.1L241.0 400.0L241.8 399.7L242.5 399.5L243.2 399.4L244.0 399.3L244.8 399.4L245.5 399.7L246.2 399.6L247.0 399.7L247.8 399.8L248.5 399.7L249.2 399.5L250.0 399.5L250.8 399.6L251.5 399.8L252.2 400.1L253.0 400.3L253.8 400.0L254.5 399.9L255.2 399.6L256.0 399.2L256.8 399.2L257.5 399.6L258.2 399.6L259.0 399.7L259.8 400.0L260.5 400.2L261.2 399.7L262.0 399.2L262.8 399.5L263.5 400.0L264.2 400.2L265.0 399.9L265.8 399.9L266.5 399.9L267.2 399.8L268.0 400.1L268.8 400.2L269.5 400.2L270.2 400.4L271.0 400.9L271.8 401.3L272.5 401.1L273.2 400.4L274.0 400.3L274.8 400.6L275.5 400.3L276.2 400.2L277.0 400.5L277.8 400.6L278.5 400.2L279.2 399.8L280.0 400.1L280.8 400.6L281.5 401.0L282.2 401.3L283.0 401.3L283.8 401.3L284.5 401.6L285.2 401.7L286.0 401.8L286.8 401.9L287.5 401.9L288.2 402.0L289.0 402.4L289.8 402.8L290.5 403.2L291.2 403.7L292.0 403.8L292.8 403.5L293.5 403.2L294.2 403.2L295.0 403.3L295.8 403.1L296.5 402.6L297.2 402.4L298.0 402.4L298.8 402.3L299.5 402.4L300.2 402.8L301.0 402.6L301.8 402.3L302.5 402.3L303.2 402.6L304.0 402.6L304.8 402.1L305.5 401.8L306.2 402.1L307.0 402.3L307.8 402.1L308.5 401.8L309.2 401.7L310.0 401.8L310.8 402.1L311.5 402.5L312.2 402.5L313.0 402.6L313.8 403.2L314.5 403.7L315.2 403.8L316.0 403.7L316.8 403.6L317.5 403.7L318.2 403.6L319.0 403.4L319.8 403.4L320.5 403.3L321.2 403.3L322.0 403.5L322.8 403.8L323.5 403.9L324.2 403.6L325.0 403.3L325.8 403.2L326.5 402.8L327.2 402.6L328.0 402.7L328.8 402.8L329.5 402.9L330.2 402.8L331.0 403.1L331.8 403.2L332.5 402.9L333.2 402.6L334.0 402.7L334.8 403.1L335.5 403.0L336.2 402.9L337.0 402.7L337.8 402.6L338.5 402.7L339.2 402.8L340.0 402.9L340.8 402.8L341.5 402.6L342.2 402.7L343.0 402.8L343.8 403.1L344.5 403.4L345.2 403.3L346.0 403.3L346.8 403.6L347.5 403.6L348.2 403.5L349.0 403.7L349.8 403.7L350.5 403.7L351.2 403.6L352.0 403.9L352.8 404.1L353.5 404.1L354.2 404.3L355.0 404.4L355.8 404.4L356.5 404.3L357.2 404.5L358.0 404.9" stroke="#4a38d0" stroke-width="1.05"/>
<path d="M68.6 499.0L69.3 490.0L70.1 481.4L70.8 473.3L71.6 465.1L72.3 457.6L73.1 452.3L73.8 448.8L74.6 445.6L75.3 442.3L76.1 438.9L76.8 435.1L77.6 431.3L78.3 427.9L79.1 424.6L79.8 421.5L80.6 418.7L81.3 416.2L82.1 413.8L82.8 411.6L83.6 409.7L84.3 408.5L85.1 408.2L85.8 407.4L86.6 406.0L87.3 405.1L88.1 404.8L88.8 404.0L89.6 403.0L90.3 401.8L91.1 400.7L91.8 400.0L92.6 399.9L93.3 399.7L94.1 398.8L94.8 398.3L95.6 398.5L96.3 397.8L97.1 396.6L97.8 396.0L98.6 395.4L99.3 393.6L100.1 392.1L100.8 391.0L101.6 390.0L102.3 390.1L103.1 393.6L103.8 395.2L104.6 393.9L105.3 392.6L106.1 391.4L106.8 390.4L107.6 389.7L108.3 389.7L109.1 389.7L109.8 389.5L110.6 389.4L111.3 389.1L112.1 388.2L112.8 387.7L113.6 387.4L114.3 387.0L115.1 386.4L115.8 386.1L116.6 386.2L117.3 386.5L118.1 386.2L118.8 386.0L119.6 386.7L120.3 386.9L121.1 385.9L121.8 385.3L122.6 385.4L123.3 385.6L124.1 385.7L124.8 386.2L125.6 386.4L126.3 387.4L127.1 388.6L127.8 386.8L128.6 386.8L129.3 386.8L130.1 386.1L130.8 386.0L131.6 386.6L132.3 387.1L133.1 386.8L133.8 386.0L134.6 386.6L135.3 389.8L136.1 392.2L136.8 389.9L137.6 388.1L138.3 386.9L139.1 386.4L139.8 386.1L140.6 386.4L141.3 387.0L142.1 387.1L142.8 386.7L143.6 386.2L144.3 385.9L145.1 385.9L145.8 386.8L146.6 387.3L147.3 386.6L148.1 385.8L148.8 385.6L149.6 386.1L150.3 386.8L151.1 387.6L151.8 388.2L152.6 387.8L153.3 387.4L154.1 387.8L154.8 388.5L155.6 388.7L156.3 388.7L157.1 388.5L157.8 388.1L158.6 388.1L159.3 388.4L160.1 389.0L160.8 389.6L161.6 389.9L162.3 389.8L163.1 389.2L163.8 388.6L164.6 388.5L165.3 388.9L166.1 388.8L166.8 388.0L167.6 387.6L168.3 387.8L169.1 387.9L169.8 387.9L170.6 388.0L171.3 388.2L172.1 387.9L172.8 387.0L173.6 386.6L174.3 386.8L175.1 387.4L175.8 387.8L176.6 387.6L177.3 387.5L178.1 387.9L178.8 388.1L179.6 388.1L180.3 388.4L181.1 388.7L181.8 388.3L182.6 387.8L183.3 387.8L184.1 388.1L184.8 388.1L185.6 387.8L186.3 387.7L187.1 387.6L187.8 388.2L188.6 389.1L189.3 389.4L190.1 389.0L190.8 388.4L191.6 388.1L192.3 388.0L193.1 388.1L193.8 388.3L194.6 388.5L195.3 388.4L196.1 388.1L196.8 388.3L197.6 388.5L198.3 388.4L199.1 388.0L199.8 387.7L200.6 387.6L201.3 387.4L202.1 387.4L202.8 387.7L203.6 387.7L204.3 387.4L205.1 387.6L205.8 388.2L206.6 388.1L207.3 387.8L208.1 387.6L208.8 387.6L209.6 387.7L210.3 387.7L211.1 387.5L211.8 387.6L212.6 387.9L213.3 387.7L214.1 387.2L214.8 387.2L215.6 387.5L216.3 387.8L217.1 388.0L217.8 388.1L218.6 388.0L219.3 387.9L220.1 387.7L220.8 387.8L221.6 388.0L222.3 387.9L223.1 387.4L223.8 387.5L224.6 388.0L225.3 388.2L226.1 388.4L226.8 388.4L227.6 388.0L228.3 387.8L229.1 387.9L229.8 387.9L230.6 387.8L231.3 387.7L232.1 387.2L232.8 386.6L233.6 386.5L234.3 386.9L235.1 387.1L235.8 387.2L236.6 387.7L237.3 387.9L238.1 387.7L238.8 387.5L239.6 387.5L240.3 387.4L241.1 387.4L241.8 387.5L242.6 387.7L243.3 387.8L244.1 387.6L244.8 387.5L245.6 388.0L246.3 388.1L247.1 387.7L247.8 387.9L248.6 387.6L249.3 386.8L250.1 386.6L250.8 387.0L251.6 387.2L252.3 387.2L253.1 387.5L253.8 387.8L254.6 387.4L255.3 386.9L256.1 386.8L256.9 387.1L257.6 387.3L258.4 387.4L259.1 387.4L259.9 387.6L260.6 387.6L261.4 387.2L262.1 386.9L262.9 386.8L263.6 386.9L264.4 387.2L265.1 387.4L265.9 387.3L266.6 387.4L267.4 387.8L268.1 388.3L268.9 388.5L269.6 388.2L270.4 387.6L271.1 388.9L271.9 393.4L272.6 391.8L273.4 389.8L274.1 388.5L274.9 387.8L275.6 387.6L276.4 387.6L277.1 387.5L277.9 387.3L278.6 387.3L279.4 387.4L280.1 387.6L280.9 387.7L281.6 387.8L282.4 388.0L283.1 388.1L283.9 387.9L284.6 387.9L285.4 388.2L286.1 388.2L286.9 387.8L287.6 387.7L288.4 387.8L289.1 387.9L289.9 387.9L290.6 387.9L291.4 388.0L292.1 388.1L292.9 388.1L293.6 387.9L294.4 387.7L295.1 387.6L295.9 387.8L296.6 388.2L297.4 388.5L298.1 388.1L298.9 387.8L299.6 388.0L300.4 388.1L301.1 388.1L301.9 388.0L302.6 387.9L303.4 388.0L304.1 388.3L304.9 388.4L305.6 388.3L306.4 388.3L307.1 388.5L307.9 388.5L308.6 388.5L309.4 388.7L310.1 388.5L310.9 387.9L311.6 387.4L312.4 387.3L313.1 387.5L313.9 387.7L314.6 388.0L315.4 388.1L316.1 388.0L316.9 387.8L317.6 387.3L318.4 387.2L319.1 387.4L319.9 387.7L320.6 387.9L321.4 388.3L322.1 388.3L322.9 387.8L323.6 387.6L324.4 387.6L325.1 387.4L325.9 387.0L326.6 387.0L327.4 387.4L328.1 387.7L328.9 387.7L329.6 387.4L330.4 387.2L331.1 387.2L331.9 387.5L332.6 387.5L333.4 387.9L334.1 391.1L334.9 395.1L335.6 391.8L336.4 389.5L337.1 388.1L337.9 387.3L338.6 387.2L339.4 387.2L340.1 387.0L340.9 387.0L341.6 387.4L342.4 387.6L343.1 387.4L343.9 387.1L344.6 386.9L345.4 387.0L346.1 387.6L346.9 388.0L347.6 388.2L348.4 388.4L349.1 388.4L349.9 388.0L350.6 387.5L351.4 387.5L352.1 387.6L352.9 387.5L353.6 387.4L354.4 387.5L355.1 387.0L355.9 386.4L356.6 386.4L357.4 386.8L358.1 387.1" stroke="#dc2edc" stroke-width="1.05"/>
<path d="M69.5 499.1L70.2 490.3L71.0 481.7L71.8 473.5L72.5 465.3L73.2 457.8L74.0 452.3L74.8 448.6L75.5 445.5L76.2 442.2L77.0 438.4L77.8 434.4L78.5 430.6L79.2 427.3L80.0 424.4L80.8 421.5L81.5 418.8L82.2 416.2L83.0 414.1L83.8 412.6L84.5 411.6L85.2 410.2L86.0 408.9L86.8 408.0L87.5 407.0L88.2 405.5L89.0 404.2L89.8 403.7L90.5 403.8L91.2 404.2L92.0 403.7L92.8 402.1L93.5 401.1L94.2 400.7L95.0 400.5L95.8 400.5L96.5 400.0L97.2 398.6L98.0 396.9L98.8 395.7L99.5 394.9L100.2 394.2L101.0 393.9L101.8 394.0L102.5 393.8L103.2 395.6L104.0 397.4L104.8 395.2L105.5 394.4L106.2 393.7L107.0 392.4L107.8 391.2L108.5 390.9L109.2 390.7L110.0 390.3L110.8 389.8L111.5 389.6L112.2 389.3L113.0 389.1L113.8 389.3L114.5 388.6L115.2 387.6L116.0 387.5L116.8 386.5L117.5 386.2L118.2 387.2L119.0 387.3L119.8 386.3L120.5 385.0L121.2 384.6L122.0 384.9L122.8 385.5L123.5 386.7L124.2 387.3L125.0 386.7L125.8 386.5L126.5 388.8L127.2 391.2L128.0 388.8L128.8 387.8L129.5 386.9L130.2 385.4L131.0 385.0L131.8 385.5L132.5 386.1L133.2 387.3L134.0 389.1L134.8 390.9L135.5 393.6L136.2 395.3L137.0 392.1L137.8 389.8L138.5 388.2L139.2 387.1L140.0 386.4L140.8 386.2L141.5 386.1L142.2 386.1L143.0 386.9L143.8 387.6L144.5 388.2L145.2 388.1L146.0 388.1L146.8 388.0L147.5 387.4L148.2 387.3L149.0 387.7L149.8 387.6L150.5 387.6L151.2 387.9L152.0 388.0L152.8 388.1L153.5 388.0L154.2 387.5L155.0 387.7L155.8 388.7L156.5 388.9L157.2 388.6L158.0 388.1L158.8 388.2L159.5 388.8L160.2 388.8L161.0 388.5L161.8 388.7L162.5 388.9L163.2 388.7L164.0 388.1L164.8 387.6L165.5 387.3L166.2 387.2L167.0 387.5L167.8 387.8L168.5 387.9L169.2 388.0L170.0 388.4L170.8 388.9L171.5 388.6L172.2 388.4L173.0 388.4L173.8 388.4L174.5 388.6L175.2 388.9L176.0 388.6L176.8 388.1L177.5 388.5L178.2 388.9L179.0 388.7L179.8 388.5L180.5 388.4L181.2 388.3L182.0 388.6L182.8 389.1L183.5 389.1L184.2 389.0L185.0 388.5L185.8 388.3L186.5 388.6L187.2 388.5L188.0 388.1L188.8 388.5L189.5 389.2L190.2 389.3L191.0 389.3L191.8 389.2L192.5 389.0L193.2 389.2L194.0 389.2L194.8 388.8L195.5 388.7L196.2 388.7L197.0 388.5L197.8 388.1L198.5 388.2L199.2 388.7L200.0 388.6L200.8 388.1L201.5 387.8L202.2 387.7L203.0 387.6L203.8 387.7L204.5 387.6L205.2 387.7L206.0 388.2L206.8 388.7L207.5 388.4L208.2 387.8L209.0 387.7L209.8 387.6L210.5 387.4L211.2 387.3L212.0 387.8L212.8 388.2L213.5 388.2L214.2 388.0L215.0 387.5L215.8 386.9L216.5 387.0L217.2 387.1L218.0 387.1L218.8 387.3L219.5 387.7L220.2 388.1L221.0 388.0L221.8 387.8L222.5 387.2L223.2 386.6L224.0 386.4L224.8 386.4L225.5 386.7L226.2 387.0L227.0 387.3L227.8 387.4L228.5 387.4L229.2 387.6L230.0 388.0L230.8 388.5L231.5 388.9L232.2 388.8L233.0 388.2L233.8 387.9L234.5 387.8L235.2 387.6L236.0 387.3L236.8 386.8L237.5 386.7L238.2 387.2L239.0 387.6L239.8 387.7L240.5 387.7L241.2 387.6L242.0 388.0L242.8 388.6L243.5 388.5L244.2 388.2L245.0 388.2L245.8 388.2L246.5 388.3L247.2 388.2L248.0 387.7L248.8 387.3L249.5 387.5L250.2 387.7L251.0 387.9L251.8 388.3L252.5 388.2L253.2 388.0L254.0 388.0L254.8 388.2L255.5 388.2L256.2 388.1L257.0 388.0L257.8 387.9L258.5 388.0L259.2 388.3L260.0 388.4L260.8 388.1L261.5 387.6L262.2 387.5L263.0 387.5L263.8 387.4L264.5 387.6L265.2 387.8L266.0 388.3L266.8 389.0L267.5 389.2L268.2 388.7L269.0 387.7L269.8 387.3L270.5 387.4L271.2 388.7L272.0 392.4L272.8 391.1L273.5 389.8L274.2 389.0L275.0 388.8L275.8 388.5L276.5 388.3L277.2 388.3L278.0 388.4L278.8 388.6L279.5 388.9L280.2 388.9L281.0 388.9L281.8 388.7L282.5 388.7L283.2 388.6L284.0 388.3L284.8 388.2L285.5 387.9L286.2 387.2L287.0 386.8L287.8 387.2L288.5 387.7L289.2 387.7L290.0 387.8L290.8 387.9L291.5 388.1L292.2 388.1L293.0 388.0L293.8 388.2L294.5 388.4L295.2 388.3L296.0 388.1L296.8 387.7L297.5 387.9L298.2 388.4L299.0 388.5L299.8 388.3L300.5 388.2L301.2 388.0L302.0 387.6L302.8 387.7L303.5 388.2L304.2 388.4L305.0 388.3L305.8 388.3L306.5 388.1L307.2 387.9L308.0 387.8L308.8 387.8L309.5 387.8L310.2 387.9L311.0 388.0L311.8 388.2L312.5 388.5L313.2 388.5L314.0 388.0L314.8 387.5L315.5 387.2L316.2 387.5L317.0 388.0L317.8 388.3L318.5 388.4L319.2 388.1L320.0 388.0L320.8 387.9L321.5 387.9L322.2 388.0L323.0 388.0L323.8 387.9L324.5 387.3L325.2 386.9L326.0 386.9L326.8 387.0L327.5 387.1L328.2 387.3L329.0 387.4L329.8 387.4L330.5 387.2L331.2 387.1L332.0 387.0L332.8 387.1L333.5 388.3L334.2 391.3L335.0 395.2L335.8 392.8L336.5 391.1L337.2 389.8L338.0 389.0L338.8 388.7L339.5 388.2L340.2 387.5L341.0 387.5L341.8 387.8L342.5 387.9L343.2 387.8L344.0 387.8L344.8 387.9L345.5 387.9L346.2 387.8L347.0 387.9L347.8 388.1L348.5 388.1L349.2 387.9L350.0 387.9L350.8 388.4L351.5 388.9L352.2 389.4L353.0 389.4L353.8 389.1L354.5 389.0L355.2 388.8L356.0 388.3L356.8 388.0L357.5 387.9L358.2 388.2" stroke="#c8189a" stroke-width="1.05"/>
</g>
<text x="17.9" y="401.2" font-size="3.4" text-anchor="end" class="tk">0.88</text>
<text x="17.9" y="429.5" font-size="3.4" text-anchor="end" class="tk">0.86</text>
<text x="17.9" y="457.6" font-size="3.4" text-anchor="end" class="tk">0.84</text>
<text x="17.9" y="485.8" font-size="3.4" text-anchor="end" class="tk">0.82</text>
<text x="60.3" y="504.4" font-size="3.4" text-anchor="middle" class="tk">0</text>
<text x="100.1" y="504.4" font-size="3.4" text-anchor="middle" class="tk">20k</text>
<text x="140.0" y="504.4" font-size="3.4" text-anchor="middle" class="tk">40k</text>
<text x="179.8" y="504.4" font-size="3.4" text-anchor="middle" class="tk">60k</text>
<text x="219.6" y="504.4" font-size="3.4" text-anchor="middle" class="tk">80k</text>
<text x="259.4" y="504.4" font-size="3.4" text-anchor="middle" class="tk">100k</text>
<text x="299.3" y="504.4" font-size="3.4" text-anchor="middle" class="tk">120k</text>
<text x="339.1" y="504.4" font-size="3.4" text-anchor="middle" class="tk">140k</text>
<text x="3.6" y="377.6" font-size="5.9" class="ax">F1-score</text>
<text x="199.2" y="509.9" font-size="5.9" text-anchor="middle" class="ax">Steps</text>
<path d="M15.8 518.6h12.7" stroke="#e3e162" stroke-width="1.0" opacity="0.88"/>
<text x="31.6" y="520.4" font-size="5.39" class="lg">patch4_em24_win09</text>
<path d="M15.8 530.6h12.7" stroke="#e8b020" stroke-width="1.0" opacity="0.88"/>
<text x="31.6" y="532.4" font-size="5.39" class="lg">patch4_em24_win18</text>
<path d="M114.2 518.6h12.7" stroke="#2edc4c" stroke-width="1.0" opacity="0.88"/>
<text x="130.0" y="520.4" font-size="5.39" class="lg">patch4_em96_win09</text>
<path d="M114.2 530.6h12.7" stroke="#55b45a" stroke-width="1.0" opacity="0.88"/>
<text x="130.0" y="532.4" font-size="5.39" class="lg">patch4_em96_win18</text>
<path d="M212.6 518.6h12.7" stroke="#55b2dc" stroke-width="1.0" opacity="0.88"/>
<text x="228.4" y="520.4" font-size="5.39" class="lg">patch2_em24_win09</text>
<path d="M212.6 530.6h12.7" stroke="#4a38d0" stroke-width="1.0" opacity="0.88"/>
<text x="228.4" y="532.4" font-size="5.39" class="lg">patch2_em24_win18</text>
<path d="M311.0 518.6h12.7" stroke="#dc2edc" stroke-width="1.0" opacity="0.88"/>
<text x="326.8" y="520.4" font-size="5.39" class="lg">patch2_em96_win09</text>
<path d="M311.0 530.6h12.7" stroke="#c8189a" stroke-width="1.0" opacity="0.88"/>
<text x="326.8" y="532.4" font-size="5.39" class="lg">patch2_em96_win18</text>
<text x="192.7" y="544.6" font-size="9.6" text-anchor="middle" class="cp">(c)</text>
</g>
</svg>
</body></html>
